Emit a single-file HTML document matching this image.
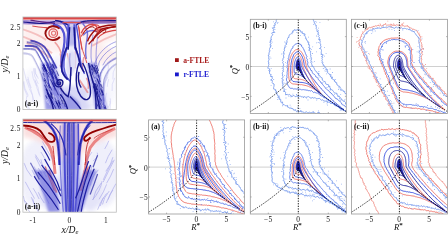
<!DOCTYPE html>
<html><head><meta charset="utf-8"><style>
html,body{margin:0;padding:0;background:#fff;}
svg{display:block;}
text{font-family:"Liberation Serif","DejaVu Serif",serif;fill:#111;}
.tk{font-size:7.4px;letter-spacing:0.5px;}
.ax{font-size:8.6px;font-style:italic;}
.ax2{font-size:9.6px;font-style:italic;}
.pl{font-size:7.6px;font-weight:bold;}
.pl2{font-size:7.6px;font-weight:bold;}
.lg{font-size:7.6px;font-weight:bold;}
</style></head><body>
<svg width="448" height="252" viewBox="0 0 448 252">
<defs><filter id="bl05" x="-10%" y="-10%" width="120%" height="120%"><feGaussianBlur stdDeviation="0.5"/></filter>
<filter id="bl1" x="-10%" y="-10%" width="120%" height="120%"><feGaussianBlur stdDeviation="1"/></filter>
<filter id="bl2" x="-20%" y="-20%" width="140%" height="140%"><feGaussianBlur stdDeviation="2"/></filter>
<filter id="bl3" x="-20%" y="-20%" width="140%" height="140%"><feGaussianBlur stdDeviation="3"/></filter>
<filter id="bl6" x="-30%" y="-30%" width="160%" height="160%"><feGaussianBlur stdDeviation="6"/></filter>
<clipPath id="cf1"><rect x="22.9" y="17" width="93.4" height="92.6"/></clipPath>
<clipPath id="cf2"><rect x="22.9" y="119.1" width="93.4" height="93.1"/></clipPath><clipPath id="clip_a"><rect x="148.6" y="119.9" width="96.0" height="94.1"/></clipPath><clipPath id="clip_bi"><rect x="250.3" y="19.3" width="96.0" height="94.1"/></clipPath><clipPath id="clip_ci"><rect x="351.4" y="19.3" width="96.0" height="94.1"/></clipPath><clipPath id="clip_bii"><rect x="250.3" y="119.9" width="96.0" height="94.1"/></clipPath><clipPath id="clip_cii"><rect x="351.4" y="119.9" width="96.0" height="94.1"/></clipPath></defs>
<rect x="22.9" y="17" width="93.4" height="92.6" fill="#fff"/>
<g clip-path="url(#cf1)"><g transform="translate(23,16) scale(0.373)">
<g filter="url(#bl6)" opacity="0.55">
 <ellipse cx="28" cy="190" rx="30" ry="50" fill="#f0f0fb"/>
 <ellipse cx="230" cy="175" rx="25" ry="60" fill="#f2f2fc"/>
 <path d="M0,12 L252,12 L252,60 C220,70 195,85 175,105 L150,100 C135,60 115,55 100,100 C70,95 40,85 0,80Z" fill="#fbe2e2"/>
 <ellipse cx="205" cy="105" rx="45" ry="25" fill="#f8e0e0"/>
 <ellipse cx="135" cy="222" rx="70" ry="36" fill="#b8b8ee"/>
 <ellipse cx="130" cy="60" rx="14" ry="45" fill="#dcdcf6"/>
 <ellipse cx="92" cy="150" rx="22" ry="45" fill="#eaeafa"/>
 <ellipse cx="170" cy="150" rx="22" ry="45" fill="#eaeafa"/>
 <ellipse cx="200" cy="220" rx="30" ry="30" fill="#e0e0f8"/>
</g>
<g filter="url(#bl2)" opacity="0.75">
 <path d="M0,10 C60,14 120,12 252,11 L252,20 C150,22 60,24 0,22Z" fill="#8c6cc8"/>
</g>
<path d="M122,25 L139,25 L140,80 L120,80Z" fill="#8a8ae0" filter="url(#bl3)" opacity="0.5"/>
<g filter="url(#bl2)" stroke="#ee9a9a" fill="none" stroke-width="5" opacity="0.55">
 <path d="M0,36 C25,44 45,52 62,64"/>
 <path d="M0,55 C30,66 55,80 78,100"/>
 <path d="M10,72 C35,84 55,96 72,112"/>
 <path d="M252,48 C225,58 205,68 185,80"/>
 <path d="M151,171 C160,185 168,195 174,206" stroke="#e46060" stroke-width="5"/>
 <path d="M170,166 C175,175 176,185 175,195" stroke="#e46060" stroke-width="4"/>
 <path d="M98,180 C100,190 102,195 104,200" stroke="#e46060" stroke-width="3"/>
 <path d="M163,110 C160,125 158,135 160,148" stroke="#e46060" stroke-width="4"/>
 <path d="M100,100 C102,112 104,122 100,135" stroke="#e46060" stroke-width="4"/>
 <path d="M85,70 C95,80 100,90 102,100" stroke="#e46060" stroke-width="4"/>
 <path d="M118,100 C122,115 126,130 128,148" stroke="#e46060" stroke-width="4"/>
 <path d="M140,95 C141,110 142,125 140,140" stroke="#e87070" stroke-width="3"/>
</g>
<path d="M17,195q12,17 10,34M10,215q-5,20 12,40M24,148q1,20 12,40M2,174q0,20 12,39M1,177q0,20 12,40M33,173q3,21 13,43M28,140q0,21 13,42M9,229q4,25 15,50M13,163q3,15 9,30M1,140q5,27 16,54M31,140q-2,11 7,23M31,170q12,21 13,42M12,169q10,28 17,57M33,140q-2,14 8,28" stroke="#6a6ade" stroke-width="1.6" opacity="0.28" fill="none" filter="url(#bl1)"/><path d="M209,223q-7,17 -7,35M205,127q1,14 -6,29M233,228q5,28 -11,56M234,221q4,12 -5,24M224,206q-3,16 -7,33M229,131q3,25 -10,50M228,163q-19,29 -12,58M246,166q-10,17 -7,35M208,151q-5,15 -6,29M230,169q-4,11 -4,21M248,135q-9,17 -7,35M210,165q-6,26 -10,52M208,222q-4,24 -9,47M228,147q-8,28 -11,56" stroke="#6a6ade" stroke-width="1.6" opacity="0.28" fill="none" filter="url(#bl1)"/>
<g stroke="#5858d6" fill="none" stroke-width="2" filter="url(#bl1)" opacity="0.7">
 <path d="M252,68 C230,75 212,90 200,110 C192,125 188,140 186,160"/>
 <path d="M252,80 C232,88 216,102 206,120 C199,135 196,150 195,170"/>
 <path d="M252,95 C236,102 222,115 214,132"/>
</g>
<!-- stem + legs broad -->
<g filter="url(#bl2)" stroke="#4646d2" fill="none" opacity="0.9">
 <path d="M122,22 C121,45 120,65 118,85 C112,100 106,118 104,137" stroke-width="6"/>
 <path d="M138,22 C139,45 139,65 140,85 C146,100 151,118 154,134" stroke-width="6"/>
 <path d="M80,24 C96,24 106,32 110,47 C113,62 111,80 106,100 C102,115 102,130 106,150 C110,160 115,166 120,170" stroke-width="6"/>
 <path d="M100,14 C112,20 118,28 120,45 C121,70 114,95 110,120 C108,140 112,160 126,175" stroke-width="4"/>
 <path d="M143,24 C148,50 152,80 153,110 C154,130 160,145 165,155" stroke-width="4"/>
 <path d="M160,20 C170,30 175,45 172,60 C168,80 165,95 170,115" stroke-width="4" opacity="0.8"/>
 <path d="M161,52 C170,40 185,36 196,42" stroke-width="4" opacity="0.8"/>
 <path d="M188,50 C182,80 180,100 184,125" stroke-width="3" opacity="0.5"/>
 <path d="M200,55 C196,85 194,105 197,130" stroke-width="3" opacity="0.5"/>
</g>
<!-- dense masses -->
<g filter="url(#bl3)" fill="#5a5ad6" opacity="0.6">
 <path d="M48,126 L84,126 C95,170 110,210 120,252 L60,252 C58,215 52,170 48,126Z"/>
 <path d="M172,126 L196,126 C205,170 215,210 228,252 L194,252 C190,210 180,170 172,126Z"/>
 <path d="M112,205 C125,210 140,220 150,232 L155,252 L118,252Z" opacity="0.8"/>
</g>
<g filter="url(#bl05)"><path d="M69.9,142.2l7.4,16.4M55.5,129.6l9.4,21.0M55.5,134.9l9.6,21.3M75.1,204.4l6.8,15.2M71.3,209.5l4.5,9.9M93.9,225.3l6.8,15.2M88.3,228.9l9.8,21.7M73.8,151.8l6.6,14.8M79.0,170.5l5.1,11.3M104.4,227.1l4.4,9.8M67.9,184.9l4.1,9.2M83.8,238.9l4.5,10.1M68.0,210.8l9.3,20.6M53.9,153.4l4.9,10.8M73.7,169.6l9.3,20.7M75.1,213.9l3.7,8.2M89.3,146.1l6.5,14.4M61.0,213.1l3.8,8.5M91.1,232.6l5.5,12.3M57.5,166.0l4.7,10.4M79.3,129.1l6.5,14.5M78.7,142.0l4.8,10.7M71.9,133.8l9.2,20.5M78.2,129.4l4.8,10.7M51.8,137.7l5.4,12.1M83.4,217.6l9.0,19.9M64.8,153.4l5.2,11.6M114.0,249.3l5.7,12.8M68.9,180.9l8.3,18.5M52.8,131.0l6.1,13.7M86.2,156.9l8.3,18.4M87.0,194.8l8.0,17.7M106.8,224.4l4.5,10.1M64.4,204.9l6.4,14.2M105.3,225.1l8.4,18.6M62.9,130.5l4.6,10.3M70.0,251.8l5.1,11.4M56.8,171.0l9.1,20.2M65.3,206.2l6.7,15.0M72.8,135.9l5.1,11.2M54.5,130.9l7.1,15.8M73.2,206.3l7.7,17.0M59.7,170.4l5.6,12.4M93.7,175.8l4.3,9.6M71.2,136.9l9.7,21.5M98.7,240.3l4.0,8.9M95.0,227.6l4.5,10.0M57.8,184.6l8.7,19.2M98.7,216.5l8.4,18.6M84.7,159.7l5.2,11.5M66.1,143.4l6.7,15.0M77.8,162.0l7.4,16.4M77.3,156.2l5.9,13.0M73.4,218.6l8.6,19.2M78.8,178.3l7.8,17.4M67.9,191.3l9.8,21.7M62.9,138.1l7.1,15.7M55.7,129.6l8.6,19.2M92.0,224.8l9.3,20.6M74.2,221.2l7.7,17.0" stroke="#12128a" stroke-width="2.2" opacity="0.85" fill="none"/><path d="M200.0,168.9l4.7,13.4M197.7,145.3l6.2,17.7M206.0,219.8l6.6,19.0M198.3,182.4l3.1,8.9M207.8,195.9l6.3,17.9M205.8,227.2l7.1,20.3M196.4,139.6l4.6,13.2M190.1,137.5l5.0,14.4M205.1,180.0l3.5,9.9M198.7,203.7l5.4,15.4M188.5,188.9l5.3,15.2M197.9,234.6l2.9,8.2M185.9,134.5l7.6,21.6M197.1,131.6l5.4,15.5M186.3,141.1l3.8,10.9M204.7,216.0l4.2,12.0M200.5,158.2l6.6,18.7M193.9,181.0l6.4,18.3M197.7,248.3l3.6,10.2M194.6,171.7l3.1,9.0M180.1,132.7l4.7,13.4M207.3,219.1l2.9,8.4M185.1,131.7l7.1,20.2M204.8,241.3l7.1,20.4M206.4,243.1l6.5,18.4M185.9,172.0l5.6,16.1M191.0,136.9l6.8,19.3M207.3,241.3l3.4,9.6M219.3,239.7l7.5,21.5M205.1,200.8l4.6,13.2M184.9,149.1l6.3,18.1M198.2,166.9l5.3,15.0M208.6,182.6l3.6,10.3M188.9,187.4l7.4,21.1M193.4,187.6l3.6,10.4M197.7,200.9l3.4,9.8M183.4,130.1l5.7,16.2M209.0,191.4l7.3,20.8M218.2,244.0l5.1,14.7M195.9,192.0l4.8,13.6M192.8,131.2l4.0,11.4M185.0,129.7l6.3,18.0M192.9,180.9l6.0,17.2M177.8,146.5l5.7,16.3M208.4,192.8l4.8,13.8" stroke="#12128a" stroke-width="2.2" opacity="0.85" fill="none"/><path d="M62.3,225.1l3.8,8.4M68.9,201.4l4.0,8.9M65.8,142.1l5.7,12.7M96.4,197.0l5.9,13.1M73.9,149.2l3.6,8.0M68.8,174.5l6.0,13.4M69.9,132.4l7.5,16.7M105.5,220.4l5.8,13.0M79.5,208.7l5.0,11.0M99.6,238.1l9.5,21.2M106.0,229.5l4.4,9.8M58.2,128.0l6.2,13.8M80.0,212.6l6.8,15.2M64.4,221.9l7.9,17.5M60.3,132.1l8.2,18.1M78.4,212.1l5.5,12.1M75.2,230.3l3.8,8.4M55.7,157.2l8.7,19.3M85.3,141.4l4.9,11.0M77.2,164.6l5.5,12.3M60.5,173.8l6.1,13.4M59.1,129.2l9.3,20.7M65.2,161.4l7.9,17.5M77.2,237.2l6.0,13.3M96.8,216.0l7.5,16.6M60.3,148.6l8.4,18.6M101.3,215.1l8.5,18.9M62.3,179.1l9.2,20.5M86.5,213.6l7.9,17.5M69.8,174.5l7.2,16.1" stroke="#eeeefc" stroke-width="1.4" opacity="0.8" fill="none"/><path d="M202.5,186.8l7.4,21.1M204.0,232.8l4.6,13.2M206.2,242.8l6.7,19.2M186.4,137.7l5.3,15.2M216.0,227.9l3.5,10.1M204.3,203.8l3.5,10.1M208.1,231.0l7.5,21.5M190.4,149.5l4.4,12.5M204.4,207.0l5.3,15.2M193.5,166.9l4.6,13.2M207.1,238.2l5.1,14.7M186.3,158.6l7.5,21.4M201.5,165.6l5.7,16.3M201.1,249.5l7.4,21.2M206.9,223.3l6.3,17.9M202.5,217.0l5.9,16.9M180.5,154.8l6.1,17.5M207.0,185.8l4.1,11.7M219.2,229.1l7.2,20.6M200.6,247.5l3.6,10.3M187.9,154.8l3.4,9.6M178.7,145.0l7.4,21.1" stroke="#eeeefc" stroke-width="1.4" opacity="0.8" fill="none"/></g>
<path d="M125,95 C115,115 112,140 120,165 C130,160 150,140 148,110 C145,100 135,92 125,95Z" fill="#d8d8f6" filter="url(#bl3)" opacity="0.8"/>
<path d="M126,100 C124,120 126,140 130,160" stroke="#5050d0" stroke-width="2" fill="none" filter="url(#bl1)" opacity="0.7"/>
<!-- lower-left parallel arcs -->
<g stroke="#3030c0" fill="none" stroke-width="5" filter="url(#bl2)" opacity="0.6">
 <path d="M5,80 C20,80 30,80 37,83 C45,90 55,110 65,127 C70,140 75,151 80,169"/>
 <path d="M20,66 C35,68 48,74 58,83 C63,90 70,102 78,117 C82,124 85,131 90,140"/>
</g>
<g stroke="#1e1ea8" fill="none" stroke-width="2.6" filter="url(#bl05)">
 <path d="M5,80 C20,80 30,80 37,83 C45,90 55,110 65,127 C70,140 75,151 80,169 C82,180 84,190 86,200"/>
 <path d="M10,70 C25,72 38,76 47.6,83 C55,92 62,105 71,124 C75,133 80,144 86,158 C90,170 93,180 96,190"/>
 <path d="M20,66 C35,68 48,74 58,83 C63,90 70,102 78,117 C82,124 85,131 90,140"/>
 <path d="M0,88 C15,88 25,88 32,90 C38,98 44,110 56,134 C60,145 63,155 65,161 C67,170 68,180 70,190"/>
 <path d="M0,100 C10,100 18,102 24,106 C30,115 36,128 44,145 C48,155 52,165 55,175" opacity="0.5"/>
 <path d="M252,112 C232,120 215,135 208,155 C203,175 204,205 208,252" stroke="#2a2ab8"/>
 <path d="M252,128 C236,135 224,150 218,170 C214,190 215,220 218,252" opacity="0.6"/>
</g>
<!-- navy detail -->
<g stroke="#16168c" fill="none" stroke-width="3.8" filter="url(#bl05)">
 <path d="M96,179 m-11,0 a11,11 0 1,0 22,0 a8,8 0 1,0 -16,0 a5,5 0 1,0 10,0 a2.5,2.5 0 1,0 -5,0"/>
 <path d="M100,192 C106,203 114,212 121,216 C124,205 126,195 126.5,182 C127,165 128,150 129,137"/>
 <path d="M150,126 C143,145 141,165 144,188 C148,210 160,226 172,224 C182,221 182,200 178,180 C174,160 168,140 160,126"/>
 <path d="M150,150 C147,165 148,180 156,192"/>
 <path d="M176,126 C178,140 181,156 186,172 C192,190 198,210 202,230 L206,252"/>
 <path d="M126,216 C138,228 150,240 156,252"/>
 <path d="M100,210 C110,222 116,235 120,252"/>
 <path d="M62,195 C70,212 78,232 82,252"/>
 <path d="M190,180 C195,205 196,228 196,252"/>
 <path d="M118,83 C110,100 104,118 103,137 C103,150 108,160 120,170"/>
 <path d="M140,83 C146,100 152,118 154,134 C158,142 162,148 164,151"/>
 <path d="M125,30 C124,50 123,70 121,90"/>
 <path d="M137,30 C138,50 139,70 141,90"/>
 <path d="M0,16 C14,17 27,19 44,20 C61,20 75,17 86,15" stroke-width="3"/>
 <path d="M20,11 C34,13 48,16 68,18 L86,20" stroke="#5a2080" stroke-width="3"/>
 <path d="M86,12 C100,13 112,18 120,24"/>
 <path d="M143,24 C150,18 158,14 172,13 C190,10 210,11 252,12" stroke-width="3"/>
 <path d="M160,17 C190,15 220,16 252,16" stroke="#5a2080" stroke-width="2"/>
</g>
<!-- reds -->
<g filter="url(#bl1)" fill="none">
 <rect x="0" y="2" width="252" height="7.5" fill="#dc4a4a" stroke="none"/>
 <path d="M105,18 C120,17 140,17 155,18" stroke="#dd5555" stroke-width="3"/>
 <path d="M25,27 C45,30 55,32 65,31" stroke="#d85050" stroke-width="3"/>
 <path d="M98,34 C93,29 86,27 78,27.5 C67,29 60,38 60,47 C61,57 69,64 80,64.5 C89,64.5 95,61 99,56" stroke="#960808" stroke-width="5"/>
 <circle cx="81" cy="46" r="11.5" stroke="#de5a5a" stroke-width="3.5"/>
 <circle cx="82" cy="46" r="5.5" stroke="#e47878" stroke-width="3"/>
 <path d="M156,55 C162,42 171,30 191,24 C200,22 206,26 208.5,40" stroke="#dd4848" stroke-width="3"/>
 <path d="M173,68 C176,55 183,47.6 196.8,34 C205,29 213.8,27.2 230,25 L252,23.8" stroke="#a01010" stroke-width="4"/>
 <path d="M186.6,68 C190,58 196.8,47.6 210.4,35.7 C218,32 227.4,30.6 252,29" stroke="#a81414" stroke-width="4"/>
 <path d="M200,60 C208,48 220,42 252,38" stroke="#d84444" stroke-width="3"/>
 <path d="M200,42 C206,34 214,32 220,36 C224,40 220,46 214,45" stroke="#a01010" stroke-width="2.5"/>
 <path d="M150,30 C152,50 154,70 158,90" stroke="#d04040" stroke-width="2.5"/>
 <path d="M156,46 C161,32 174,22 186,22 C196,23 201,31 202,44" stroke="#d84848" stroke-width="4"/>
 <path d="M162,48 C166,37 176,29 186,29 C193,30 196,36 197,44" stroke="#a01414" stroke-width="2.5"/>
 <path d="M176,76 C185,65 195,52 212,40 C222,34 232,30 252,27" stroke="#a01010" stroke-width="3.5"/>
 <path d="M148.5,25 C151,45 153.5,65 158,85 C160,95 163.5,100 171,126" stroke="#d84444" stroke-width="2.5"/>
</g>
</g>
</g>
<rect x="22.9" y="17" width="93.4" height="92.6" fill="none" stroke="#bbb" stroke-width="0.8"/>
<text x="20.90" y="29.75" class="tk" text-anchor="end">2.5</text>
<text x="20.90" y="46.20" class="tk" text-anchor="end">2</text>
<text x="20.90" y="79.10" class="tk" text-anchor="end">1</text>
<text x="20.90" y="112.00" class="tk" text-anchor="end">0</text>
<text x="24.70" y="106.10" class="pl2">(a-i)</text>
<rect x="22.9" y="119.1" width="93.4" height="93.1" fill="#fff"/>
<g clip-path="url(#cf2)"><g transform="translate(23,118) scale(0.373)">
<g filter="url(#bl6)" opacity="0.6">
 <ellipse cx="35" cy="150" rx="45" ry="90" fill="#e6e6f8"/>
 <ellipse cx="215" cy="150" rx="45" ry="90" fill="#e4e4f8"/>
 <ellipse cx="128" cy="140" rx="30" ry="120" fill="#c0c0f0"/>
 <path d="M0,10 L252,10 L252,50 C200,60 170,80 150,110 L100,110 C80,80 50,60 0,50Z" fill="#f6caca"/>
 <ellipse cx="75" cy="200" rx="30" ry="50" fill="#cfcff4"/>
 <ellipse cx="180" cy="200" rx="30" ry="50" fill="#d2d2f4"/>
</g>
<g filter="url(#bl2)" fill="none" stroke="#e87474" stroke-width="8" opacity="0.85">
 <path d="M5,25 C30,35 55,50 70,75 C80,95 84,120 86,150"/>
 <path d="M247,28 C220,40 195,55 180,80 C172,100 168,125 166,150"/>
 <path d="M70,140 C75,160 82,180 90,200" stroke-width="5"/>
 <path d="M60,130 C66,150 74,170 84,195" stroke-width="3" stroke="#e05858"/>
 <path d="M175,130 C170,150 164,170 156,195" stroke-width="3" stroke="#e05858"/>
 <path d="M165,140 C160,160 156,180 152,195" stroke-width="5"/>
</g>
<path d="M48,189q14,20 22,41M3,121q5,18 20,36M3,220q5,23 25,46M26,216q5,28 31,56M24,139q10,24 26,47M33,103q12,28 30,55M41,199q6,15 16,29M52,63q13,24 27,48M30,130q5,14 15,28M48,111q0,13 14,26M27,188q10,15 16,29M48,141q-1,20 22,40M1,209q-1,12 13,23M22,212q5,18 20,36M33,98q18,25 27,50M41,134q8,14 16,29M6,171q12,23 25,45M48,91q11,18 20,36" stroke="#5a5ad8" stroke-width="1.8" opacity="0.45" fill="none" filter="url(#bl1)"/><path d="M210,174q-19,22 -22,45M249,176q-15,26 -26,52M231,196q-15,18 -18,36M216,213q-10,16 -16,33M185,127q-3,23 -23,45M245,112q-16,30 -30,60M239,85q-12,18 -18,36M241,193q-9,13 -13,26M202,139q-20,21 -21,42M241,105q-4,19 -19,38M185,91q-14,17 -17,34M243,137q-7,19 -19,38M241,114q-15,26 -26,52M224,178q-7,20 -20,40M230,61q-4,11 -11,22M199,93q5,11 -11,22M224,202q-14,17 -17,34M212,169q-4,26 -26,51" stroke="#5a5ad8" stroke-width="1.8" opacity="0.45" fill="none" filter="url(#bl1)"/>
<path d="M104,14 L150,14 L152,252 L104,252Z" fill="#7070dc" opacity="0.45" filter="url(#bl3)"/>
<!-- stem -->
<g filter="url(#bl2)" fill="none" stroke="#4040d0" opacity="0.9">
 <path d="M112,12 C110,80 112,160 116,252" stroke-width="5"/>
 <path d="M124,12 L126,252" stroke-width="6"/>
 <path d="M136,12 C137,80 136,160 134,252" stroke-width="5"/>
 <path d="M148,15 C150,80 148,160 140,252" stroke-width="4"/>
 <path d="M100,20 C96,80 100,160 108,252" stroke-width="3" opacity="0.7"/>
 <path d="M56,6 C75,20 88,40 92,60 C96,80 97,100 98,126" stroke-width="7"/>
 <path d="M75,15 C100,35 110,60 115,100" stroke-width="3"/>
 <path d="M186,6 C172,18 160,40 154,70 C151,90 150,110 149,126" stroke-width="7"/>
</g>
<!-- converging bundles -->
<g filter="url(#bl3)" fill="#5a5ad6" opacity="0.6">
 <path d="M30,140 L75,140 C85,175 95,215 100,252 L68,252 C58,215 45,175 30,140Z"/>
 <path d="M165,140 L198,140 C185,175 168,215 158,252 L134,252 C142,215 152,175 165,140Z"/>
</g>
<g filter="url(#bl05)" fill="none" stroke="#1c1ca0" stroke-width="3.2">
 <path d="M30,156 C38,170 50,186 62,200 C72,212 85,230 95,246"/>
 <path d="M40,145 C50,158 62,170 72,185 C82,200 92,215 100,230"/>
 <path d="M50,126 C58,138 70,150 80,165 C88,180 95,195 102,210"/>
 <path d="M58,110 C66,125 74,138 82,152 C90,165 96,180 100,195"/>
 <path d="M50,75 C58,88 66,100 72,114"/>
 <path d="M20,120 C28,135 36,150 44,165" opacity="0.6"/>
 <path d="M181,126 C176,140 171,156 166,172 C161,191 155,210 146,252"/>
 <path d="M191,136 C185,150 178,165 172,185 C166,205 160,225 156,252"/>
 <path d="M176,116 C170,130 166,145 161,160 C156,175 150,195 141,215"/>
 <path d="M200,150 C195,165 188,185 180,205" opacity="0.7"/>
 <path d="M200,100 C196,110 192,120 188,132" opacity="0.7"/>
 <path d="M120,14 C118,80 119,160 121,252" stroke="#1a1a96" stroke-width="2"/>
 <path d="M131,14 C132,80 131,160 129,252" stroke="#1a1a96" stroke-width="2"/>
 <path d="M56,6 C75,20 88,40 92,60 C96,80 97,100 98,126" stroke-width="2.5"/>
 <path d="M75,15 C100,35 110,60 115,100" stroke-width="2"/>
 <path d="M186,6 C172,18 160,40 154,70 C151,90 150,110 149,126" stroke-width="2.5"/>
 <path d="M180,20 C158,40 150,70 146,100" stroke-width="2"/>
</g>
<g filter="url(#bl05)" fill="none">
 <rect x="0" y="3" width="252" height="6" fill="#d84848" stroke="none" filter="url(#bl1)"/>
 <path d="M0,12 C60,13 190,13 252,12" stroke="#20209a" stroke-width="2.5"/>
 <path d="M0,20 C20,21 36,25 46,34 C53,42 58,54 66,61 C74,66 84,65 85,58 C85,50 78,43 68,40" stroke="#920606" stroke-width="5"/>
 <path d="M252,17 C236,21 215,28 197,34 C185,38 172,44 165,52 C162,57 165,62 170,61 C175,59 178,56 181,52" stroke="#920606" stroke-width="5"/>
 <path d="M10,28 C30,30 45,40 55,55" stroke="#d04040" stroke-width="2.5"/>
 <path d="M240,30 C220,38 200,45 190,55" stroke="#d04040" stroke-width="2.5"/>
 <path d="M176,60 C170,75 168,90 168,110 C168,120 166,126 166,126" stroke="#c02828" stroke-width="2.5"/>
 <path d="M80,75 C82,90 84,105 85,126" stroke="#c83030" stroke-width="2.5"/>
</g>
</g>
</g>
<rect x="22.9" y="119.1" width="93.4" height="93.1" fill="none" stroke="#bbb" stroke-width="0.8"/>
<text x="20.90" y="131.35" class="tk" text-anchor="end">2.5</text>
<text x="20.90" y="148.00" class="tk" text-anchor="end">2</text>
<text x="20.90" y="181.30" class="tk" text-anchor="end">1</text>
<text x="20.90" y="214.60" class="tk" text-anchor="end">0</text>
<text x="24.70" y="208.70" class="pl2">(a-ii)</text>
<text transform="translate(7.8,64) rotate(-90)" class="ax2" text-anchor="middle">y/D<tspan font-size="6.6" dy="1">e</tspan></text>
<text transform="translate(7.8,155.5) rotate(-90)" class="ax2" text-anchor="middle">y/D<tspan font-size="6.6" dy="1">e</tspan></text>
<text x="33.20" y="223.1" class="tk" text-anchor="middle">-1</text>
<text x="69.60" y="223.1" class="tk" text-anchor="middle">0</text>
<text x="106.00" y="223.1" class="tk" text-anchor="middle">1</text>
<text x="70" y="233.2" class="ax2" text-anchor="middle">x/D<tspan font-size="6.6" dy="1">e</tspan></text>
<line x1="148.60" y1="167.10" x2="244.60" y2="167.10" stroke="#b0b0b0" stroke-width="0.6"/>
<g clip-path="url(#clip_a)"><path d="M164.0 122.5L161.8 121.4L163.4 120.7L163.0 119.7L163.2 118.8L163.5 118.0L162.7 116.9L163.8 116.2L163.7 115.2L165.9 114.9L164.6 113.6L164.6 112.7L164.9 111.8L165.0 110.9L165.1 110.0L165.7 109.2L166.5 108.6L166.5 107.6L167.4 107.0L167.3 106.0L167.8 105.2L168.9 104.8L168.9 103.8L169.0 102.8L169.6 102.1L170.4 101.6L171.5 101.3L171.2 99.9L171.8 99.2L172.9 99.0L172.8 97.7L173.7 97.2L174.7 97.1L175.3 96.4L175.8 95.6L176.7 95.3L176.5 93.3L178.3 94.5L178.5 93.1L179.2 92.4L180.4 92.8L181.3 92.7L181.9 91.8L182.7 91.2L183.7 91.4L184.6 91.1L185.6 91.6L186.4 91.0L187.2 90.6L188.2 90.9L189.0 90.1L189.8 89.6L190.8 90.3L191.7 90.3L192.6 89.8L193.5 89.5L194.4 90.1L195.4 88.7L196.1 90.4L197.0 90.4L198.1 89.4L198.9 90.4L199.8 90.1L200.5 91.1L201.8 90.0L202.5 90.8L203.1 91.8L203.9 92.3L205.3 91.1L205.8 92.3L206.5 93.0L207.5 93.0L207.7 94.4L209.2 93.7L209.5 94.9L210.7 94.8L210.6 96.3L211.8 96.4L212.6 96.8L213.7 97.0L213.1 98.8L214.1 99.1L214.7 99.8L215.1 100.6L215.9 101.1L216.9 101.5L217.4 102.2L217.9 103.0L217.5 104.3L219.2 104.4L219.2 105.4L219.5 106.3L219.6 107.2L219.9 108.1L221.0 108.6L221.6 109.3L221.1 110.5L220.8 111.5L221.3 112.3L221.8 113.1L222.3 113.9L222.2 114.8L222.7 115.7L222.4 116.6L223.3 117.4L223.0 118.4L223.3 119.2L223.1 120.2L223.3 121.0L222.3 122.0L222.9 122.9L223.0 123.8L224.8 124.5L224.1 125.5L224.3 126.4L223.8 127.3L225.2 128.1L223.6 129.1L223.7 130.0L225.0 130.8L224.9 131.8L224.8 132.7L224.5 133.6L224.3 134.5L223.6 135.5L224.8 136.3L224.4 137.2L224.7 138.1L224.0 139.0L224.5 139.9L224.3 140.8L225.6 141.6L225.2 142.6L225.5 143.5L224.4 144.4L224.9 145.3L225.5 146.2L225.6 147.1L225.2 148.0L225.8 148.9L226.0 149.7L225.3 150.7L224.4 151.6L225.8 152.5L226.0 153.4L226.4 154.2L226.5 155.1L225.7 156.1L225.5 157.0L226.0 157.9L225.9 158.8L226.2 159.7L226.3 160.6L227.2 161.3L226.9 162.3L226.8 163.2L227.5 164.0L227.6 164.9L228.0 165.7L228.1 166.6L227.8 167.6L228.7 168.3L228.9 169.1L228.9 170.2L229.3 171.0L229.2 172.0L231.3 172.0L230.4 173.4L231.5 173.9L231.6 174.8L231.8 175.8L232.1 176.7L232.7 177.4L233.5 177.9L233.4 179.1L234.7 179.3L235.1 180.1L235.2 181.1L236.3 181.5L235.7 183.0L236.6 183.4L236.7 184.5L238.1 184.6L238.7 185.3L239.0 186.2L239.3 187.1L240.3 187.4L240.5 188.5L241.1 189.1L241.0 190.3L242.4 190.4L242.3 191.6L243.5 191.8L244.1 192.5L244.6 193.3L245.3 193.9L245.3 195.0L245.5 196.0L246.3 196.4L246.7 197.3L246.8 198.3L247.9 198.6L248.5 199.3L249.2 199.9L250.3 200.2L249.9 201.7L251.5 201.6L251.1 203.0L251.9 203.5L252.0 204.6L253.0 204.9L253.9 205.4L254.0 206.5L254.9 206.9L255.4 207.7L255.8 208.5L256.5 209.1L257.1 209.8L257.9 210.2L258.3 211.1L259.6 211.2L259.4 212.5L260.4 212.8L260.1 214.3L260.7 215.0L262.5 214.6L262.3 216.0L263.0 216.5L264.0 216.9L264.0 218.1L265.0 218.4L266.1 218.6L266.2 219.7L266.8 220.4L267.4 221.1L268.5 221.3L268.5 222.6L269.1 223.2L270.4 223.2L270.9 223.9L271.4 224.8L272.2 225.2L272.1 226.6L273.3 226.6L274.4 226.8L275.0 227.4L275.4 228.3L275.2 229.8L276.7 229.6L276.6 230.2L275.8 229.8L274.9 229.8L274.5 228.3L273.1 229.2L272.6 228.3L271.7 228.1L271.0 227.5L269.8 227.9L269.6 226.2L268.4 226.7L267.6 226.2L266.6 226.3L265.8 225.8L265.2 224.9L264.5 224.3L263.6 224.0L262.9 223.5L262.0 223.3L261.0 223.3L260.3 222.6L259.4 222.4L258.5 222.3L257.8 221.6L257.1 221.0L256.0 221.2L255.1 221.1L254.4 220.3L253.8 219.4L252.6 220.1L251.7 219.7L250.9 219.5L250.3 218.5L248.9 219.7L248.4 218.3L247.7 217.7L246.5 218.3L246.0 216.9L245.0 217.1L244.0 217.4L243.2 216.8L242.1 217.3L241.4 216.6L240.9 215.2L239.6 216.3L239.1 214.7L238.0 215.4L237.3 214.6L236.3 214.9L235.1 215.7L234.5 214.7L233.7 214.1L232.7 214.6L231.8 214.5L231.1 213.4L230.1 213.7L229.1 214.0L228.3 213.4L227.6 212.4L226.6 212.9L225.8 212.0L225.0 211.6L224.0 212.2L223.0 212.6L222.1 212.5L221.3 211.7L220.5 211.1L219.5 211.3L218.7 211.0L217.7 211.4L216.9 210.9L215.9 211.2L215.0 211.0L214.1 211.4L213.2 211.4L212.3 210.8L211.4 211.0L210.5 210.8L209.7 209.9L208.8 210.3L208.0 208.7L207.0 209.6L206.1 210.3L205.2 209.6L204.3 209.7L203.4 210.2L202.5 209.2L201.6 210.1L200.6 211.2L199.8 209.2L198.9 209.8L198.1 208.7L197.1 209.6L196.1 209.8L195.4 208.3L194.4 209.5L193.5 208.8L192.7 208.1L191.7 208.6L190.8 208.6L190.0 208.4L189.1 207.9L188.1 208.6L187.3 207.8L186.4 207.6L185.7 206.6L184.6 207.8L183.6 207.9L183.0 206.8L182.0 207.0L181.3 206.2L180.6 205.8L180.1 204.9L178.9 205.0L178.5 204.1L176.9 204.3L177.0 203.0L177.5 201.5L176.1 201.4L175.6 200.6L175.0 199.8L175.4 198.7L174.9 197.9L173.9 197.3L174.5 196.2L174.1 195.4L174.1 194.4L173.1 193.7L174.1 192.6L173.3 191.9L172.9 191.0L172.5 190.2L172.5 189.3L172.9 188.3L172.3 187.5L172.8 186.5L172.5 185.6L172.8 184.7L172.4 183.8L171.9 183.0L170.9 182.2L171.8 181.2L172.0 180.2L171.6 179.4L171.7 178.5L171.0 177.6L171.0 176.7L170.6 175.9L171.6 174.8L170.9 174.0L170.5 173.2L169.9 172.3L170.4 171.3L171.1 170.3L170.5 169.5L169.8 168.7L170.7 167.7L170.6 166.8L170.2 165.9L170.0 165.0L170.0 164.1L169.6 163.3L169.5 162.4L168.6 161.6L169.6 160.5L168.8 159.7L169.5 158.7L167.4 158.2L168.5 157.0L168.5 156.1L167.7 155.4L167.9 154.4L167.8 153.5L167.6 152.6L166.9 151.9L166.9 150.9L167.3 149.9L167.2 149.0L166.5 148.3L166.3 147.4L166.2 146.5L166.4 145.5L165.2 144.8L164.9 144.0L165.4 143.0L164.6 142.2L164.7 141.3L164.9 140.3L164.9 139.4L163.9 138.7L164.7 137.6L163.2 137.0L164.2 135.9L163.0 135.1L163.0 134.2L163.8 133.2L163.2 132.4L162.9 131.5L163.0 130.6L163.3 129.6L163.0 128.8L163.0 127.9L163.5 126.9L162.5 126.1L162.7 125.2L162.7 124.3L163.5 123.4Z" fill="none" stroke="#84a4ee" stroke-width="1.0" stroke-linejoin="round"/><path d="M195.9 209.7h.8v.8h-.8zM244.1 189.2h.8v.8h-.8zM225.9 145.9h.8v.8h-.8zM229.2 160.0h.8v.8h-.8zM210.0 211.4h.8v.8h-.8zM163.2 122.8h.8v.8h-.8zM172.5 189.7h.8v.8h-.8zM233.9 172.7h.8v.8h-.8zM230.5 173.1h.8v.8h-.8zM165.9 135.5h.8v.8h-.8zM235.4 183.4h.8v.8h-.8zM226.2 128.0h.8v.8h-.8zM174.1 198.3h.8v.8h-.8zM192.7 211.2h.8v.8h-.8zM163.3 125.5h.8v.8h-.8zM165.4 140.5h.8v.8h-.8zM223.5 125.0h.8v.8h-.8zM172.8 187.4h.8v.8h-.8zM223.6 154.5h.8v.8h-.8zM235.7 176.9h.8v.8h-.8zM219.4 211.5h.8v.8h-.8zM176.8 196.0h.8v.8h-.8zM231.2 212.5h.8v.8h-.8zM227.8 143.6h.8v.8h-.8zM225.3 157.6h.8v.8h-.8zM205.0 208.6h.8v.8h-.8zM216.2 210.0h.8v.8h-.8zM227.3 175.8h.8v.8h-.8zM171.9 182.1h.8v.8h-.8zM169.4 148.2h.8v.8h-.8zM230.9 216.5h.8v.8h-.8zM168.6 147.9h.8v.8h-.8zM165.1 168.5h.8v.8h-.8zM172.8 173.2h.8v.8h-.8zM223.9 141.9h.8v.8h-.8zM229.5 213.8h.8v.8h-.8zM169.0 153.5h.8v.8h-.8zM171.3 165.7h.8v.8h-.8zM236.0 179.3h.8v.8h-.8zM165.8 131.6h.8v.8h-.8zM233.9 177.2h.8v.8h-.8zM243.4 193.2h.8v.8h-.8zM174.4 187.6h.8v.8h-.8zM196.7 207.2h.8v.8h-.8zM195.8 206.8h.8v.8h-.8zM227.8 152.1h.8v.8h-.8zM227.0 157.4h.8v.8h-.8zM225.7 142.3h.8v.8h-.8zM166.7 156.7h.8v.8h-.8zM172.4 184.4h.8v.8h-.8zM225.2 212.1h.8v.8h-.8zM222.4 128.7h.8v.8h-.8zM169.0 160.0h.8v.8h-.8zM179.9 208.3h.8v.8h-.8zM225.3 124.1h.8v.8h-.8zM223.2 142.1h.8v.8h-.8zM233.4 173.5h.8v.8h-.8zM176.2 197.4h.8v.8h-.8zM173.5 189.2h.8v.8h-.8zM174.9 178.1h.8v.8h-.8zM223.3 131.7h.8v.8h-.8zM163.9 135.6h.8v.8h-.8zM221.3 158.4h.8v.8h-.8zM226.4 212.7h.8v.8h-.8zM219.3 212.9h.8v.8h-.8zM227.1 211.0h.8v.8h-.8zM237.2 184.0h.8v.8h-.8zM224.4 214.0h.8v.8h-.8zM194.8 208.6h.8v.8h-.8zM175.6 185.0h.8v.8h-.8zM171.4 157.8h.8v.8h-.8zM170.6 166.5h.8v.8h-.8zM204.6 212.2h.8v.8h-.8zM225.5 142.6h.8v.8h-.8zM231.0 176.6h.8v.8h-.8zM235.6 182.6h.8v.8h-.8zM183.3 206.4h.8v.8h-.8zM222.3 129.0h.8v.8h-.8zM178.2 203.7h.8v.8h-.8zM231.7 170.1h.8v.8h-.8zM230.5 213.3h.8v.8h-.8zM171.1 177.6h.8v.8h-.8zM164.2 136.6h.8v.8h-.8zM162.2 138.3h.8v.8h-.8zM229.8 164.0h.8v.8h-.8z" fill="#84a4ee"/><path d="M171.2 135.9L171.4 135.1L171.4 134.2L171.7 133.3L171.7 132.4L172.0 131.5L172.4 130.7L172.4 129.8L172.8 128.9L172.8 128.0L173.0 127.1L173.5 126.3L173.8 125.5L173.9 124.6L174.3 123.8L174.5 122.9L175.0 122.1L175.6 121.4L175.9 120.5L176.3 119.7L176.7 118.9L177.4 118.3L177.9 117.6L178.4 116.8L179.0 116.1L179.4 115.3L180.3 114.9L180.8 114.1L181.5 113.5L182.2 113.0L182.7 112.2L183.6 111.9L184.4 111.4L185.2 111.0L186.0 110.7L186.8 110.2L187.5 109.6L188.5 109.5L189.4 109.4L190.2 109.2L191.1 108.9L192.0 108.8L192.9 109.0L193.8 109.1L194.7 109.1L195.6 109.1L196.4 109.7L197.5 109.4L198.2 110.0L198.9 110.6L199.9 110.7L200.6 111.2L201.5 111.5L202.1 112.3L203.0 112.5L203.6 113.2L204.2 113.8L205.0 114.3L205.5 115.2L206.3 115.6L206.8 116.4L207.3 117.1L207.9 117.8L208.3 118.6L208.7 119.4L209.3 120.1L209.8 120.9L210.2 121.7L210.6 122.5L210.8 123.4L211.3 124.2L211.5 125.0L211.9 125.9L212.3 126.7L212.4 127.6L212.8 128.4L213.0 129.3L213.0 130.2L213.5 131.0L213.6 131.9L213.9 132.8L213.9 133.7L214.2 134.6L214.1 135.5L214.2 136.4L214.2 137.3L214.1 138.2L214.4 139.1L214.4 140.0L214.5 140.9L214.6 141.8L214.7 142.7L214.9 143.6L214.7 144.5L214.5 145.4L214.7 146.3L214.8 147.2L214.6 148.1L214.8 149.0L214.9 149.9L215.0 150.8L215.0 151.7L214.9 152.6L214.7 153.5L214.9 154.4L215.1 155.3L215.0 156.2L215.0 157.1L215.2 158.0L215.0 158.9L215.0 159.8L215.0 160.7L215.0 161.6L215.4 162.4L215.6 163.3L215.5 164.3L215.7 165.1L216.3 165.9L216.4 166.8L216.8 167.6L217.1 168.5L217.5 169.3L218.0 170.1L218.3 170.9L218.8 171.7L219.2 172.4L219.9 173.1L220.5 173.8L220.7 174.7L221.3 175.4L221.6 176.2L222.1 177.0L222.7 177.7L223.3 178.4L223.8 179.2L224.2 180.0L224.9 180.6L225.3 181.4L225.8 182.1L226.4 182.8L226.8 183.6L227.6 184.2L228.0 185.0L228.7 185.6L229.2 186.3L229.8 187.0L230.2 187.8L230.9 188.4L231.4 189.2L232.0 189.8L232.4 190.7L232.9 191.5L233.6 192.0L234.0 192.8L234.7 193.5L235.1 194.3L235.9 194.8L236.6 195.4L236.9 196.3L237.7 196.9L238.3 197.5L238.9 198.2L239.6 198.8L240.0 199.6L240.7 200.2L241.1 201.1L241.7 201.7L242.5 202.1L243.1 202.8L243.7 203.6L244.4 204.1L244.8 204.9L245.4 205.6L246.1 206.2L246.7 206.9L247.3 207.6L247.8 208.3L248.4 209.0L249.2 209.5L249.8 210.2L250.5 210.7L251.1 211.4L251.8 211.9L252.3 212.7L253.2 213.2L253.8 213.8L254.4 214.5L255.0 215.1L255.8 215.6L256.4 216.3L257.0 216.9L257.7 217.5L258.5 218.0L259.1 218.7L259.8 219.2L260.4 219.9L261.1 220.4L262.0 220.8L262.8 221.3L263.3 222.1L263.9 222.7L264.6 223.3L265.0 223.9L264.3 223.9L263.4 223.6L262.7 223.0L261.9 222.6L261.1 222.1L260.2 221.9L259.5 221.3L258.7 221.0L258.0 220.4L257.1 220.2L256.3 219.8L255.5 219.4L254.7 218.8L253.9 218.5L253.0 218.2L252.2 217.9L251.4 217.5L250.7 216.9L249.7 216.9L248.9 216.4L248.2 215.9L247.4 215.5L246.5 215.3L245.7 214.8L244.8 214.5L244.0 214.1L243.1 213.9L242.4 213.4L241.4 213.3L240.7 212.8L239.7 212.8L238.9 212.2L238.0 212.2L237.1 211.9L236.4 211.4L235.5 211.3L234.6 210.9L233.7 210.8L233.0 210.2L232.0 210.1L231.1 210.0L230.3 209.6L229.5 209.3L228.6 209.3L227.7 208.9L226.9 208.5L226.0 208.4L225.1 208.3L224.2 208.2L223.3 207.8L222.4 207.9L221.5 207.9L220.7 207.4L219.8 207.3L219.0 206.8L218.0 206.8L217.1 206.8L216.2 206.7L215.4 206.3L214.5 206.3L213.6 206.2L212.7 206.0L211.8 205.9L210.9 205.8L210.0 205.6L209.1 205.4L208.2 205.3L207.3 205.6L206.5 205.0L205.5 205.2L204.6 205.0L203.7 205.2L202.8 205.0L201.9 205.0L201.0 204.9L200.2 204.8L199.3 204.7L198.3 204.8L197.5 204.6L196.6 204.4L195.7 204.3L194.8 204.3L193.9 204.2L193.0 204.1L192.1 204.1L191.2 204.0L190.3 203.5L189.4 203.6L188.5 203.4L187.6 203.4L186.8 203.0L185.9 202.8L185.0 202.7L184.2 202.3L183.3 202.0L182.8 201.2L182.0 200.8L181.2 200.3L180.8 199.5L180.2 198.8L179.7 198.1L179.3 197.3L178.7 196.6L178.4 195.7L178.2 194.8L177.8 194.0L177.5 193.2L177.6 192.2L177.1 191.4L176.9 190.5L176.7 189.6L176.8 188.7L176.7 187.8L176.4 187.0L176.4 186.1L176.1 185.2L176.2 184.3L176.1 183.4L176.1 182.5L176.1 181.6L175.7 180.7L176.2 179.7L175.7 178.9L175.8 178.0L175.8 177.1L175.7 176.2L175.6 175.3L175.1 174.4L175.2 173.5L175.4 172.6L175.1 171.7L175.0 170.8L174.8 169.9L175.1 169.0L174.9 168.1L174.7 167.2L174.7 166.3L174.6 165.4L174.4 164.5L174.4 163.6L174.3 162.7L174.2 161.8L174.2 160.9L173.9 160.1L173.7 159.2L173.7 158.3L173.4 157.4L173.2 156.5L173.3 155.6L173.0 154.7L172.9 153.8L172.9 152.9L172.5 152.1L172.6 151.2L172.4 150.3L172.2 149.4L172.1 148.5L171.9 147.6L171.6 146.8L171.7 145.8L171.5 145.0L171.6 144.0L171.4 143.1L171.2 142.3L171.2 141.4L171.4 140.4L171.3 139.6L171.2 138.7L171.2 137.8L171.2 136.9Z" fill="none" stroke="#ec6e64" stroke-width="0.9" stroke-linejoin="round"/><path d="M179.6 164.1L179.9 163.2L179.9 162.3L180.2 161.4L179.9 160.5L179.9 159.5L180.1 158.6L180.8 157.9L181.6 157.2L181.8 156.3L181.4 155.2L181.5 154.3L182.6 153.7L182.8 152.8L182.5 151.8L183.6 151.3L183.7 150.3L184.5 149.7L184.6 148.7L185.1 148.0L185.4 147.1L185.4 146.1L186.1 145.5L186.5 144.6L187.4 144.2L187.4 143.1L187.8 142.2L189.0 142.0L189.7 141.4L190.4 140.9L190.9 140.2L191.0 138.9L191.9 138.5L192.7 138.1L193.6 137.9L194.5 137.0L195.4 137.8L196.3 138.1L197.3 138.2L197.8 139.0L198.3 139.8L199.2 140.1L199.6 141.0L200.2 141.7L200.9 142.2L201.5 142.9L202.2 143.5L202.3 144.5L203.3 145.0L203.8 145.7L203.8 146.7L204.7 147.3L204.8 148.3L205.0 149.2L205.7 149.8L206.0 150.6L206.1 151.6L206.5 152.4L207.6 152.9L207.9 153.8L207.3 155.0L207.9 155.7L209.0 156.3L209.0 157.3L208.8 158.3L209.3 159.1L209.1 160.1L209.4 160.9L209.4 161.8L210.2 162.6L209.7 163.6L209.4 164.6L210.6 165.2L210.3 166.3L210.8 167.1L211.3 167.9L211.9 168.5L212.7 169.1L213.1 170.0L213.0 171.0L213.5 171.8L213.9 172.6L214.5 173.3L215.0 174.1L215.9 174.6L216.6 175.1L216.7 176.2L217.2 177.0L217.8 177.6L218.8 178.0L219.1 178.9L219.9 179.5L219.9 180.5L220.8 181.0L221.1 181.9L221.5 182.7L222.1 183.4L222.3 184.4L223.6 184.6L224.4 185.1L224.1 186.4L224.5 187.2L225.1 188.0L226.0 188.4L226.5 189.2L227.2 189.8L228.1 190.2L228.5 191.0L228.8 191.9L229.7 192.4L229.6 193.6L231.1 193.5L231.4 194.5L231.6 195.5L232.6 195.8L233.4 196.3L234.0 197.0L234.4 197.8L234.5 199.0L235.4 199.4L235.9 200.1L236.8 200.5L237.1 201.5L237.9 202.0L238.8 202.4L239.3 203.1L239.7 203.9L240.1 204.8L241.1 205.2L241.6 205.9L241.8 207.0L243.2 206.9L243.9 207.4L244.0 208.6L244.8 209.1L245.6 209.5L246.2 210.3L247.0 210.7L247.5 211.5L248.3 211.9L248.8 212.8L249.9 212.9L250.5 213.6L251.0 214.4L251.8 214.8L252.2 215.7L253.1 216.1L253.9 216.5L254.5 217.2L255.3 217.6L256.3 218.0L256.9 219.1L255.7 219.2L254.9 218.7L254.2 218.1L253.5 217.4L252.7 217.0L252.1 216.2L251.3 215.9L250.2 215.9L249.7 214.9L248.9 214.6L247.8 214.7L247.2 214.0L246.5 213.3L245.6 213.2L244.9 212.5L244.0 212.2L243.3 211.7L242.3 211.6L241.6 210.9L240.7 210.7L240.1 210.0L238.9 210.3L238.4 209.3L237.8 208.6L236.8 208.4L235.9 208.2L235.2 207.6L234.2 207.7L233.4 207.4L232.6 206.9L231.8 206.4L231.1 205.7L230.0 206.0L229.4 205.1L228.2 205.6L227.5 205.1L226.7 204.5L226.0 203.9L224.9 204.2L223.9 204.4L223.3 203.3L222.4 203.2L221.4 203.3L220.6 203.1L219.7 202.7L218.9 202.2L218.1 201.8L217.0 202.4L216.5 200.9L215.4 201.5L214.5 201.4L213.7 200.9L212.7 200.9L212.0 200.0L211.0 200.3L210.1 200.7L209.2 200.5L208.3 200.5L207.4 200.3L206.5 199.8L205.6 200.2L204.7 199.3L203.8 199.9L202.9 199.8L202.0 199.4L201.0 200.3L200.2 199.9L199.3 199.2L198.4 199.4L197.5 199.3L196.6 199.0L195.7 199.3L194.8 199.0L193.9 199.3L192.9 199.4L192.2 198.1L191.2 198.8L190.3 198.6L189.5 197.7L188.6 197.7L187.6 198.1L186.8 197.8L186.0 197.3L185.1 197.1L184.6 196.1L183.9 195.6L183.3 194.9L183.0 194.1L182.5 193.3L182.5 192.4L182.0 191.6L180.7 191.2L181.3 190.0L180.4 189.3L180.1 188.5L180.6 187.4L180.0 186.6L180.0 185.7L180.4 184.7L179.7 183.9L179.5 183.0L179.9 182.1L180.2 181.2L179.9 180.3L179.2 179.4L179.4 178.5L179.6 177.6L180.3 176.7L179.9 175.8L179.8 174.9L179.9 174.0L179.3 173.1L179.6 172.2L179.6 171.3L179.0 170.4L179.3 169.5L179.5 168.6L178.9 167.7L179.5 166.8L179.6 165.9L179.9 165.0Z" fill="none" stroke="#5878ea" stroke-width="0.9" stroke-linejoin="round"/><path d="M178.2 168.2h.8v.8h-.8zM180.3 172.7h.8v.8h-.8zM177.4 168.9h.8v.8h-.8zM221.3 189.4h.8v.8h-.8zM208.0 156.7h.8v.8h-.8zM177.6 177.4h.8v.8h-.8zM213.9 171.7h.8v.8h-.8zM232.0 199.3h.8v.8h-.8zM184.2 147.3h.8v.8h-.8zM235.3 198.4h.8v.8h-.8zM179.4 179.0h.8v.8h-.8zM210.1 163.6h.8v.8h-.8zM238.9 201.4h.8v.8h-.8zM179.4 185.4h.8v.8h-.8zM230.4 190.1h.8v.8h-.8zM182.8 176.6h.8v.8h-.8zM178.6 188.5h.8v.8h-.8zM201.5 145.6h.8v.8h-.8zM181.6 183.3h.8v.8h-.8zM243.0 211.3h.8v.8h-.8zM204.2 146.1h.8v.8h-.8zM181.2 175.6h.8v.8h-.8zM190.7 140.8h.8v.8h-.8zM232.5 210.9h.8v.8h-.8zM179.3 188.0h.8v.8h-.8zM220.0 179.0h.8v.8h-.8zM177.6 174.3h.8v.8h-.8zM177.5 181.7h.8v.8h-.8zM239.1 205.4h.8v.8h-.8zM212.6 168.7h.8v.8h-.8zM210.6 202.3h.8v.8h-.8zM215.8 173.3h.8v.8h-.8zM179.3 163.4h.8v.8h-.8zM182.5 192.9h.8v.8h-.8zM234.2 198.2h.8v.8h-.8zM191.1 198.5h.8v.8h-.8zM184.8 146.6h.8v.8h-.8zM183.8 147.8h.8v.8h-.8zM192.3 140.5h.8v.8h-.8zM209.1 158.5h.8v.8h-.8zM183.9 153.9h.8v.8h-.8zM194.8 200.7h.8v.8h-.8zM242.1 208.1h.8v.8h-.8zM177.5 161.8h.8v.8h-.8zM242.1 207.5h.8v.8h-.8zM183.3 194.1h.8v.8h-.8zM224.1 185.0h.8v.8h-.8zM224.0 186.8h.8v.8h-.8zM213.5 201.7h.8v.8h-.8zM205.9 155.0h.8v.8h-.8zM186.1 149.9h.8v.8h-.8zM177.1 163.8h.8v.8h-.8zM204.0 151.2h.8v.8h-.8zM188.0 196.0h.8v.8h-.8zM199.9 143.1h.8v.8h-.8zM210.0 201.6h.8v.8h-.8zM235.3 199.3h.8v.8h-.8zM239.6 206.2h.8v.8h-.8zM198.8 199.8h.8v.8h-.8zM207.4 198.3h.8v.8h-.8zM200.4 140.6h.8v.8h-.8zM198.6 196.3h.8v.8h-.8zM179.4 184.1h.8v.8h-.8zM182.5 164.2h.8v.8h-.8zM214.0 173.7h.8v.8h-.8zM198.3 136.1h.8v.8h-.8zM203.7 145.3h.8v.8h-.8zM244.5 207.9h.8v.8h-.8zM206.6 155.9h.8v.8h-.8zM240.2 211.7h.8v.8h-.8zM200.9 203.9h.8v.8h-.8zM180.2 190.1h.8v.8h-.8z" fill="#5878ea"/><path d="M183.1 164.3L183.2 163.4L183.4 162.5L183.5 161.7L183.7 160.8L183.8 159.9L184.0 159.0L184.3 158.1L184.4 157.2L184.6 156.4L185.0 155.5L185.3 154.7L185.3 153.7L185.7 152.9L186.1 152.1L186.4 151.3L186.7 150.4L187.2 149.6L187.4 148.7L187.8 147.9L188.2 147.1L188.7 146.3L189.2 145.6L189.6 144.8L190.1 144.0L190.7 143.4L191.1 142.6L191.7 141.9L192.5 141.4L193.1 140.7L193.9 140.3L194.7 140.0L195.6 140.2L196.4 140.6L197.1 141.2L197.8 141.8L198.3 142.5L198.9 143.2L199.4 144.0L199.9 144.7L200.4 145.4L200.8 146.2L201.4 147.0L201.8 147.7L202.0 148.7L202.4 149.5L202.8 150.3L203.1 151.1L203.5 151.9L203.9 152.7L204.1 153.6L204.5 154.5L204.5 155.4L204.9 156.2L205.1 157.1L205.2 158.0L205.4 158.9L205.7 159.7L205.8 160.6L206.2 161.5L206.3 162.4L206.3 163.3L206.4 164.2L206.7 165.0L206.9 165.9L207.3 166.7L207.8 167.5L208.1 168.3L208.4 169.2L209.0 169.9L209.4 170.7L209.9 171.5L210.5 172.2L210.8 173.0L211.3 173.8L211.8 174.5L212.4 175.3L213.0 175.9L213.5 176.6L214.1 177.4L214.6 178.1L215.1 178.8L215.5 179.6L216.0 180.4L216.7 181.0L217.2 181.8L217.8 182.4L218.3 183.2L218.9 183.9L219.5 184.5L220.0 185.3L220.5 186.0L221.1 186.7L221.7 187.4L222.3 188.1L222.8 188.8L223.4 189.5L223.9 190.2L224.6 190.8L225.1 191.6L225.7 192.3L226.2 193.0L226.8 193.7L227.5 194.3L228.1 195.0L228.8 195.6L229.3 196.3L229.8 197.1L230.4 197.7L231.3 198.2L231.8 198.9L232.4 199.6L233.0 200.2L233.6 200.9L234.2 201.6L234.9 202.2L235.5 202.8L236.2 203.4L236.9 204.0L237.5 204.7L238.1 205.4L238.9 205.9L239.4 206.6L240.1 207.2L240.8 207.8L241.4 208.4L242.2 208.9L242.8 209.6L243.4 210.2L244.1 210.9L244.8 211.3L245.5 211.9L246.3 212.4L247.0 213.0L247.5 213.7L247.5 213.9L246.8 213.5L246.0 213.1L245.3 212.5L244.5 212.0L243.6 211.8L242.9 211.1L242.1 210.8L241.3 210.3L240.6 209.9L239.8 209.3L239.0 209.0L238.2 208.4L237.5 208.0L236.8 207.4L236.1 206.9L235.3 206.4L234.5 205.9L233.7 205.5L232.9 205.1L232.3 204.4L231.5 204.0L230.7 203.5L230.0 203.0L229.1 202.7L228.3 202.3L227.4 202.0L226.7 201.4L225.9 201.1L225.0 200.8L224.2 200.3L223.4 200.1L222.5 199.7L221.8 199.2L220.9 199.0L220.0 198.7L219.2 198.4L218.3 198.2L217.4 197.9L216.6 197.5L215.7 197.5L214.8 197.1L214.0 197.0L213.1 196.8L212.2 196.7L211.3 196.5L210.5 196.1L209.6 195.9L208.7 195.9L207.8 195.7L206.9 195.5L206.0 195.5L205.1 195.2L204.2 195.3L203.3 195.2L202.4 195.2L201.5 194.8L200.6 194.9L199.7 194.7L198.8 194.8L197.9 194.6L197.0 194.5L196.1 194.4L195.3 194.1L194.4 194.0L193.5 193.9L192.6 193.9L191.7 193.7L190.8 193.5L189.9 193.4L189.0 193.3L188.2 193.0L187.3 192.8L186.6 192.1L186.0 191.5L185.3 190.9L184.9 190.1L184.5 189.3L184.0 188.6L183.8 187.7L183.4 186.8L183.3 185.9L183.1 185.0L182.9 184.1L182.9 183.2L182.9 182.3L182.8 181.4L182.6 180.5L182.9 179.6L182.8 178.7L182.7 177.8L182.7 176.9L182.8 176.0L182.7 175.1L182.8 174.2L182.8 173.3L182.8 172.4L182.7 171.5L182.8 170.6L182.8 169.7L182.8 168.8L182.9 167.9L182.8 167.0L182.8 166.1L183.0 165.2Z" fill="none" stroke="#ec6e64" stroke-width="0.9" stroke-linejoin="round"/><path d="M185.5 164.9L185.6 164.0L185.7 163.1L186.0 162.3L186.1 161.4L186.3 160.5L186.5 159.6L186.8 158.8L187.0 157.9L187.2 157.0L187.5 156.1L187.9 155.3L188.2 154.5L188.4 153.6L188.9 152.8L189.3 152.0L189.7 151.2L190.1 150.4L190.6 149.6L191.2 148.9L191.7 148.2L192.2 147.5L192.9 146.8L193.6 146.2L194.5 146.0L195.3 146.0L196.2 146.4L196.8 147.0L197.4 147.7L198.0 148.3L198.6 149.1L199.1 149.8L199.5 150.6L200.0 151.4L200.3 152.2L200.8 153.0L201.2 153.8L201.6 154.6L201.9 155.5L202.2 156.3L202.5 157.2L202.7 158.1L202.9 158.9L203.1 159.8L203.4 160.7L203.5 161.6L203.8 162.4L204.0 163.3L204.1 164.2L204.2 165.1L204.5 166.0L204.9 166.8L205.1 167.7L205.5 168.5L206.0 169.3L206.6 170.0L207.0 170.8L207.4 171.6L207.9 172.3L208.5 173.1L208.9 173.8L209.5 174.6L210.0 175.3L210.3 176.2L210.9 176.9L211.5 177.5L212.0 178.3L212.5 179.1L213.0 179.8L213.5 180.6L214.1 181.2L214.6 182.0L215.1 182.7L215.7 183.4L216.3 184.1L216.8 184.8L217.4 185.6L217.9 186.3L218.5 187.0L219.0 187.7L219.6 188.4L220.2 189.1L220.7 189.8L221.3 190.6L221.9 191.2L222.5 191.9L223.1 192.6L223.7 193.2L224.3 193.9L224.9 194.6L225.5 195.2L226.2 195.9L226.7 196.6L227.3 197.3L228.0 197.9L228.6 198.5L229.2 199.2L229.9 199.8L230.5 200.5L231.2 201.1L231.9 201.7L232.5 202.4L233.1 203.0L233.7 203.7L234.4 204.2L235.1 204.8L235.8 205.4L236.4 206.1L237.1 206.6L237.8 207.2L238.5 207.8L239.2 208.4L238.8 208.5L238.0 208.1L237.2 207.6L236.5 207.0L235.7 206.7L235.0 206.1L234.2 205.6L233.5 205.1L232.8 204.6L231.9 204.2L231.2 203.6L230.5 203.1L229.7 202.6L229.0 202.1L228.2 201.6L227.6 200.9L226.8 200.5L226.0 200.0L225.4 199.4L224.6 198.8L223.8 198.4L223.0 197.9L222.3 197.4L221.5 197.0L220.8 196.5L220.0 196.0L219.3 195.4L218.5 195.0L217.7 194.6L216.9 194.1L216.1 193.7L215.3 193.2L214.5 193.0L213.7 192.5L212.8 192.3L212.0 191.9L211.1 191.7L210.3 191.3L209.4 191.1L208.5 190.7L207.6 190.7L206.7 190.5L205.9 190.3L205.0 190.1L204.1 190.0L203.2 190.0L202.3 189.7L201.4 189.6L200.5 189.5L199.6 189.5L198.7 189.3L197.8 189.3L196.9 189.2L196.0 189.1L195.1 188.9L194.2 188.9L193.3 188.8L192.4 188.6L191.5 188.6L190.6 188.5L189.7 188.4L188.8 188.2L187.9 188.1L187.1 187.7L186.4 187.2L185.6 186.8L184.9 186.1L184.4 185.4L184.0 184.6L183.7 183.7L183.5 182.9L183.4 182.0L183.3 181.1L183.4 180.2L183.3 179.2L183.6 178.4L183.6 177.4L183.8 176.6L183.9 175.7L184.0 174.8L184.2 173.9L184.2 173.0L184.3 172.1L184.6 171.2L184.6 170.3L184.8 169.4L185.0 168.5L185.1 167.6L185.2 166.7L185.3 165.8Z" fill="none" stroke="#3048de" stroke-width="0.9" stroke-linejoin="round"/><path d="M186.6 165.2L186.7 164.6L186.8 164.1L186.9 163.5L187.0 162.9L187.1 162.3L187.2 161.6L187.4 161.0L187.6 160.3L187.7 159.6L187.9 159.0L188.1 158.3L188.4 157.7L188.6 157.0L188.8 156.4L189.1 155.8L189.3 155.2L189.6 154.6L189.9 154.0L190.2 153.4L190.4 152.9L190.7 152.4L191.0 151.9L191.3 151.4L191.6 151.0L191.9 150.6L192.2 150.2L192.5 149.9L192.8 149.6L193.1 149.3L193.3 149.0L193.6 148.8L193.8 148.6L194.1 148.5L194.3 148.4L194.6 148.3L194.8 148.3L195.1 148.3L195.3 148.3L195.6 148.4L195.8 148.5L196.1 148.6L196.3 148.8L196.6 149.0L196.8 149.3L197.1 149.6L197.4 149.9L197.7 150.2L198.0 150.6L198.3 151.0L198.6 151.4L198.9 151.9L199.2 152.4L199.5 152.9L199.7 153.4L200.0 154.0L200.3 154.6L200.6 155.2L200.8 155.8L201.1 156.4L201.3 157.0L201.5 157.7L201.8 158.3L202.0 159.0L202.2 159.6L202.3 160.3L202.5 161.0L202.7 161.6L202.8 162.3L202.9 162.9L203.0 163.5L203.1 164.1L203.2 164.6L203.3 165.2L203.4 165.8L203.7 166.6L204.1 167.6L204.6 168.6L205.3 169.8L206.0 171.1L206.8 172.5L207.8 174.0L208.7 175.5L209.7 177.0L210.6 178.4L211.5 179.8L212.5 181.2L213.4 182.5L214.4 183.8L215.3 185.1L216.3 186.4L217.2 187.6L218.2 188.8L219.1 190.0L220.1 191.1L221.0 192.3L222.0 193.4L222.9 194.5L223.9 195.5L224.8 196.6L225.8 197.6L226.7 198.5L227.6 199.5L228.6 200.4L229.5 201.3L230.5 202.2L231.2 202.8L231.7 203.3L231.9 203.6L231.9 203.8L231.7 203.7L231.2 203.4L230.5 203.0L229.6 202.4L228.7 201.8L227.8 201.1L226.8 200.5L225.9 199.8L225.0 199.1L224.0 198.4L223.1 197.7L222.2 197.0L221.2 196.3L220.3 195.5L219.4 194.8L218.5 194.0L217.5 193.3L216.6 192.5L215.7 191.8L214.7 191.0L213.8 190.2L212.9 189.6L211.9 189.0L211.0 188.4L210.1 188.0L209.2 187.5L208.2 187.2L207.3 186.9L206.4 186.6L205.4 186.3L204.5 186.1L203.6 185.9L202.6 185.7L201.7 185.6L200.8 185.5L199.9 185.4L198.9 185.3L197.8 185.1L196.8 185.0L195.6 184.9L194.5 184.7L193.2 184.6L192.0 184.4L190.6 184.2L189.5 183.8L188.5 183.1L187.7 182.3L187.1 181.1L186.6 179.8L186.3 178.2L186.2 176.4L186.2 174.3L186.3 172.5L186.3 171.0L186.3 169.7L186.4 168.6L186.4 167.9L186.4 167.4L186.4 167.1L186.4 167.1L186.4 167.0L186.4 166.9L186.4 166.7L186.5 166.4L186.5 166.1L186.6 165.7Z" fill="none" stroke="#ec6e64" stroke-width="0.9" stroke-linejoin="round"/><path d="M187.8 165.4L187.9 164.9L187.9 164.3L188.0 163.8L188.1 163.3L188.2 162.7L188.3 162.1L188.5 161.6L188.6 161.0L188.8 160.3L189.0 159.7L189.1 159.1L189.3 158.5L189.5 158.0L189.7 157.4L189.9 156.8L190.2 156.3L190.4 155.7L190.7 155.2L190.9 154.7L191.1 154.2L191.4 153.8L191.7 153.3L191.9 152.9L192.2 152.5L192.4 152.1L192.7 151.8L193.0 151.5L193.2 151.2L193.4 151.0L193.7 150.7L193.9 150.5L194.1 150.4L194.3 150.2L194.6 150.1L194.8 150.1L195.0 150.1L195.2 150.1L195.4 150.1L195.6 150.1L195.9 150.2L196.1 150.4L196.3 150.5L196.5 150.7L196.8 151.0L197.0 151.2L197.2 151.5L197.5 151.8L197.8 152.1L198.0 152.5L198.3 152.9L198.5 153.3L198.8 153.8L199.1 154.2L199.3 154.7L199.5 155.2L199.8 155.7L200.0 156.3L200.3 156.8L200.5 157.4L200.7 158.0L200.9 158.5L201.1 159.1L201.2 159.7L201.4 160.3L201.6 161.0L201.7 161.6L201.9 162.1L202.0 162.7L202.1 163.3L202.2 163.8L202.3 164.3L202.3 164.9L202.4 165.4L202.5 166.0L202.8 166.7L203.1 167.5L203.5 168.4L204.0 169.4L204.6 170.5L205.2 171.7L206.0 173.1L206.7 174.3L207.5 175.6L208.2 176.9L209.0 178.1L209.7 179.3L210.5 180.4L211.2 181.6L212.0 182.7L212.7 183.8L213.5 184.8L214.2 185.9L215.0 186.9L215.7 187.9L216.5 188.9L217.2 189.9L218.0 190.8L218.7 191.7L219.5 192.6L220.2 193.5L221.0 194.3L221.7 195.2L222.5 196.0L223.2 196.7L224.0 197.5L224.5 198.1L224.9 198.5L225.1 198.8L225.1 198.9L224.9 198.8L224.5 198.6L224.0 198.2L223.2 197.7L222.5 197.1L221.7 196.6L221.0 196.0L220.2 195.5L219.5 194.9L218.7 194.3L218.0 193.7L217.2 193.0L216.5 192.4L215.7 191.8L215.0 191.1L214.2 190.5L213.5 189.8L212.7 189.1L212.0 188.4L211.2 187.7L210.5 187.1L209.7 186.5L209.0 185.9L208.2 185.4L207.5 185.0L206.7 184.6L206.0 184.2L205.2 183.9L204.5 183.6L203.7 183.3L203.0 183.1L202.2 182.9L201.5 182.7L200.7 182.6L200.0 182.4L199.2 182.3L198.4 182.2L197.6 182.1L196.8 182.0L195.9 181.9L195.0 181.8L194.1 181.6L193.1 181.5L192.1 181.4L191.2 181.0L190.4 180.5L189.7 179.7L189.2 178.8L188.7 177.7L188.4 176.3L188.1 174.8L188.0 173.1L187.9 171.6L187.8 170.3L187.7 169.2L187.7 168.4L187.6 167.7L187.6 167.3L187.6 167.1L187.6 167.1L187.6 167.0L187.6 166.9L187.6 166.7L187.7 166.5L187.7 166.2L187.7 165.8Z" fill="none" stroke="#3048de" stroke-width="0.9" stroke-linejoin="round"/><path d="M189.9 165.7L189.9 165.2L190.0 164.8L190.0 164.4L190.1 163.9L190.2 163.5L190.3 163.0L190.4 162.5L190.5 162.0L190.6 161.5L190.8 161.0L190.9 160.5L191.0 160.0L191.2 159.5L191.4 159.1L191.5 158.6L191.7 158.1L191.9 157.7L192.1 157.3L192.3 156.8L192.5 156.4L192.7 156.1L192.9 155.7L193.1 155.4L193.3 155.0L193.5 154.7L193.7 154.4L193.9 154.2L194.1 153.9L194.3 153.7L194.4 153.6L194.6 153.4L194.8 153.3L195.0 153.2L195.1 153.1L195.3 153.0L195.5 153.0L195.6 153.0L195.8 153.0L196.0 153.1L196.1 153.2L196.3 153.3L196.5 153.4L196.7 153.6L196.8 153.7L197.0 153.9L197.2 154.2L197.4 154.4L197.6 154.7L197.8 155.0L198.0 155.4L198.2 155.7L198.4 156.1L198.6 156.4L198.8 156.8L199.0 157.3L199.2 157.7L199.4 158.1L199.6 158.6L199.7 159.1L199.9 159.5L200.1 160.0L200.2 160.5L200.3 161.0L200.5 161.5L200.6 162.0L200.7 162.5L200.8 163.0L200.9 163.5L201.0 163.9L201.1 164.4L201.1 164.8L201.2 165.2L201.2 165.7L201.4 166.2L201.5 166.7L201.8 167.4L202.1 168.2L202.4 169.0L202.9 169.9L203.4 170.9L203.9 172.0L204.5 173.1L205.1 174.2L205.6 175.2L206.2 176.2L206.7 177.2L207.3 178.2L207.9 179.1L208.4 180.1L209.0 181.0L209.6 181.9L210.1 182.8L210.7 183.6L211.2 184.4L211.8 185.3L212.4 186.1L212.9 186.9L213.5 187.6L214.1 188.4L214.6 189.1L215.2 189.8L215.7 190.5L216.3 191.1L216.9 191.8L217.4 192.4L217.9 192.9L218.1 193.2L218.3 193.5L218.3 193.6L218.1 193.5L217.8 193.3L217.4 193.0L216.8 192.6L216.3 192.2L215.7 191.7L215.1 191.2L214.6 190.8L214.0 190.3L213.4 189.8L212.8 189.3L212.3 188.8L211.7 188.2L211.1 187.7L210.6 187.2L210.0 186.6L209.4 186.1L208.9 185.5L208.3 184.9L207.7 184.3L207.1 183.8L206.6 183.3L206.0 182.8L205.4 182.3L204.9 181.8L204.3 181.4L203.7 181.0L203.2 180.7L202.6 180.3L202.0 180.0L201.4 179.8L200.9 179.6L200.3 179.4L199.7 179.2L199.2 179.1L198.6 179.0L198.0 178.9L197.4 178.8L196.8 178.8L196.2 178.7L195.5 178.6L194.9 178.4L194.2 178.3L193.5 178.2L192.9 177.9L192.3 177.5L191.8 177.0L191.4 176.2L191.0 175.3L190.7 174.3L190.5 173.1L190.3 171.8L190.1 170.6L190.0 169.6L189.9 168.8L189.8 168.1L189.8 167.6L189.7 167.3L189.7 167.1L189.7 167.1L189.7 167.0L189.7 166.9L189.7 166.8L189.8 166.6L189.8 166.3L189.8 166.0Z" fill="none" stroke="#ec6e64" stroke-width="0.9" stroke-linejoin="round"/><path d="M191.6 166.0L191.6 165.7L191.7 165.4L191.7 165.1L191.8 164.7L191.9 164.4L191.9 164.0L192.0 163.7L192.1 163.3L192.2 162.9L192.3 162.5L192.4 162.2L192.5 161.8L192.6 161.4L192.7 161.1L192.9 160.7L193.0 160.4L193.1 160.0L193.3 159.7L193.4 159.4L193.6 159.1L193.7 158.8L193.8 158.5L194.0 158.3L194.2 158.0L194.3 157.8L194.5 157.6L194.6 157.4L194.7 157.2L194.9 157.1L195.0 156.9L195.2 156.8L195.3 156.7L195.4 156.6L195.5 156.6L195.7 156.5L195.8 156.5L195.9 156.5L196.0 156.5L196.2 156.6L196.3 156.6L196.4 156.7L196.5 156.8L196.7 156.9L196.8 157.1L197.0 157.2L197.1 157.4L197.2 157.6L197.4 157.8L197.5 158.0L197.7 158.3L197.9 158.5L198.0 158.8L198.1 159.1L198.3 159.4L198.4 159.7L198.6 160.0L198.7 160.4L198.8 160.7L199.0 161.1L199.1 161.4L199.2 161.8L199.3 162.2L199.4 162.5L199.5 162.9L199.6 163.3L199.7 163.7L199.8 164.0L199.8 164.4L199.9 164.7L200.0 165.1L200.0 165.4L200.1 165.7L200.1 166.0L200.2 166.4L200.3 166.8L200.5 167.4L200.7 168.0L200.9 168.6L201.2 169.4L201.6 170.2L202.0 171.0L202.4 171.9L202.8 172.7L203.2 173.6L203.5 174.4L203.9 175.2L204.3 175.9L204.7 176.7L205.1 177.4L205.5 178.2L205.9 178.9L206.3 179.6L206.7 180.2L207.1 180.9L207.5 181.6L207.9 182.2L208.3 182.8L208.7 183.5L209.1 184.0L209.5 184.6L209.8 185.2L210.2 185.7L210.6 186.3L211.0 186.8L211.4 187.3L211.7 187.6L211.9 187.9L212.0 188.1L212.0 188.2L211.9 188.2L211.7 188.0L211.4 187.8L211.0 187.4L210.6 187.1L210.2 186.7L209.8 186.4L209.4 186.0L209.0 185.6L208.5 185.2L208.1 184.8L207.7 184.4L207.3 184.0L206.9 183.6L206.5 183.1L206.1 182.7L205.7 182.3L205.3 181.8L204.9 181.3L204.5 180.9L204.1 180.4L203.7 180.0L203.3 179.5L202.9 179.1L202.5 178.6L202.1 178.2L201.7 177.7L201.3 177.3L200.9 176.9L200.4 176.5L200.0 176.2L199.6 176.0L199.2 175.7L198.8 175.6L198.4 175.5L198.0 175.4L197.6 175.3L197.2 175.3L196.8 175.2L196.4 175.1L196.0 175.0L195.6 175.0L195.2 174.9L194.8 174.8L194.4 174.6L194.1 174.3L193.7 173.9L193.4 173.4L193.1 172.8L192.8 172.1L192.6 171.3L192.3 170.3L192.1 169.5L191.9 168.8L191.8 168.3L191.7 167.8L191.6 167.4L191.5 167.2L191.5 167.1L191.5 167.1L191.5 167.1L191.5 167.0L191.5 166.9L191.5 166.7L191.6 166.5L191.6 166.3Z" fill="none" stroke="#3048de" stroke-width="0.9" stroke-linejoin="round"/><path d="M193.4 166.2L193.4 165.9L193.4 165.7L193.5 165.4L193.5 165.1L193.5 164.8L193.6 164.5L193.6 164.2L193.7 163.9L193.8 163.6L193.8 163.3L193.9 163.0L194.0 162.7L194.1 162.4L194.2 162.1L194.2 161.8L194.3 161.5L194.4 161.2L194.5 160.9L194.6 160.7L194.7 160.4L194.8 160.2L194.9 160.0L195.0 159.8L195.1 159.6L195.2 159.4L195.3 159.2L195.4 159.0L195.5 158.9L195.6 158.7L195.7 158.6L195.8 158.5L195.9 158.5L196.0 158.4L196.1 158.3L196.2 158.3L196.3 158.3L196.3 158.3L196.4 158.3L196.5 158.3L196.6 158.4L196.7 158.5L196.8 158.5L196.9 158.6L197.0 158.7L197.1 158.9L197.2 159.0L197.3 159.2L197.4 159.4L197.5 159.6L197.6 159.8L197.7 160.0L197.8 160.2L197.9 160.4L198.0 160.7L198.1 160.9L198.2 161.2L198.3 161.5L198.4 161.8L198.4 162.1L198.5 162.4L198.6 162.7L198.7 163.0L198.8 163.3L198.8 163.6L198.9 163.9L199.0 164.2L199.0 164.5L199.1 164.8L199.1 165.1L199.1 165.4L199.2 165.7L199.2 165.9L199.2 166.2L199.3 166.5L199.4 166.9L199.5 167.3L199.6 167.7L199.8 168.2L200.0 168.8L200.2 169.4L200.4 170.1L200.7 170.7L200.9 171.4L201.2 172.0L201.5 172.6L201.7 173.2L202.0 173.8L202.2 174.4L202.5 175.0L202.7 175.5L203.0 176.1L203.2 176.6L203.5 177.1L203.7 177.7L204.0 178.2L204.2 178.6L204.5 179.1L204.7 179.6L205.0 180.0L205.2 180.5L205.5 180.9L205.8 181.3L206.0 181.7L206.3 182.1L206.5 182.5L206.7 182.8L206.8 183.0L206.9 183.1L206.9 183.2L206.8 183.2L206.7 183.1L206.5 182.9L206.2 182.7L205.9 182.4L205.6 182.1L205.4 181.9L205.1 181.6L204.8 181.3L204.6 181.0L204.3 180.7L204.0 180.4L203.8 180.1L203.5 179.7L203.2 179.4L202.9 179.1L202.7 178.7L202.4 178.4L202.1 178.0L201.9 177.7L201.6 177.3L201.3 177.0L201.1 176.6L200.8 176.2L200.5 175.8L200.2 175.4L200.0 175.0L199.7 174.6L199.4 174.2L199.2 173.9L198.9 173.5L198.6 173.3L198.4 173.0L198.1 172.9L197.8 172.7L197.5 172.6L197.3 172.5L197.0 172.4L196.8 172.3L196.6 172.2L196.3 172.1L196.1 172.1L195.9 172.0L195.7 171.9L195.5 171.8L195.3 171.6L195.1 171.4L194.9 171.1L194.7 170.7L194.5 170.2L194.3 169.7L194.0 169.1L193.9 168.6L193.7 168.2L193.6 167.8L193.5 167.5L193.4 167.3L193.3 167.2L193.3 167.1L193.3 167.1L193.3 167.1L193.3 167.0L193.3 166.9L193.3 166.8L193.3 166.6L193.4 166.4Z" fill="none" stroke="#1c1e98" stroke-width="0.9" stroke-linejoin="round"/><path d="M194.6 166.4L194.6 166.2L194.6 166.0L194.6 165.7L194.6 165.5L194.7 165.3L194.7 165.0L194.7 164.8L194.8 164.6L194.8 164.3L194.9 164.1L194.9 163.8L194.9 163.6L195.0 163.3L195.1 163.1L195.1 162.9L195.2 162.6L195.2 162.4L195.3 162.2L195.4 162.0L195.4 161.8L195.5 161.6L195.6 161.4L195.6 161.2L195.7 161.1L195.8 160.9L195.8 160.8L195.9 160.6L196.0 160.5L196.0 160.4L196.1 160.3L196.1 160.2L196.2 160.2L196.3 160.1L196.3 160.1L196.4 160.1L196.4 160.0L196.5 160.0L196.5 160.1L196.6 160.1L196.6 160.1L196.7 160.2L196.8 160.2L196.8 160.3L196.9 160.4L196.9 160.5L197.0 160.6L197.1 160.8L197.1 160.9L197.2 161.1L197.3 161.2L197.3 161.4L197.4 161.6L197.5 161.8L197.5 162.0L197.6 162.2L197.7 162.4L197.7 162.6L197.8 162.9L197.8 163.1L197.9 163.3L198.0 163.6L198.0 163.8L198.0 164.1L198.1 164.3L198.1 164.6L198.2 164.8L198.2 165.0L198.2 165.3L198.3 165.5L198.3 165.7L198.3 166.0L198.3 166.2L198.3 166.4L198.4 166.6L198.4 166.9L198.5 167.2L198.6 167.5L198.6 167.9L198.7 168.3L198.9 168.7L199.0 169.1L199.1 169.6L199.3 170.0L199.4 170.4L199.5 170.8L199.6 171.2L199.8 171.6L199.9 172.0L200.0 172.4L200.2 172.8L200.3 173.2L200.4 173.5L200.6 173.9L200.7 174.2L200.8 174.6L201.0 174.9L201.1 175.2L201.2 175.6L201.4 175.9L201.5 176.2L201.6 176.5L201.7 176.7L201.9 177.0L202.0 177.3L202.1 177.5L202.2 177.7L202.3 177.9L202.3 178.0L202.3 178.0L202.3 178.0L202.2 177.9L202.1 177.8L201.9 177.7L201.8 177.5L201.6 177.3L201.5 177.2L201.3 177.0L201.2 176.8L201.0 176.6L200.9 176.4L200.7 176.2L200.6 176.0L200.4 175.7L200.3 175.5L200.1 175.3L200.0 175.1L199.8 174.8L199.7 174.6L199.5 174.4L199.4 174.1L199.2 173.9L199.1 173.6L198.9 173.3L198.8 173.1L198.6 172.8L198.5 172.5L198.3 172.2L198.2 172.0L198.0 171.7L197.9 171.5L197.7 171.3L197.6 171.1L197.4 170.9L197.3 170.7L197.1 170.6L197.0 170.5L196.8 170.3L196.6 170.2L196.4 170.1L196.2 170.0L196.0 170.0L195.8 169.9L195.6 169.8L195.4 169.7L195.2 169.6L195.1 169.5L194.9 169.3L194.8 169.1L194.7 168.8L194.7 168.5L194.6 168.2L194.6 167.9L194.6 167.7L194.5 167.5L194.5 167.3L194.5 167.2L194.5 167.1L194.5 167.1L194.5 167.1L194.5 167.1L194.5 167.0L194.5 166.9L194.5 166.8L194.5 166.7L194.5 166.6Z" fill="#2020a8" stroke="#1c1e98" stroke-width="0.9" stroke-linejoin="round"/></g>
<line x1="196.60" y1="119.90" x2="196.60" y2="214.00" stroke="#000" stroke-width="0.9" stroke-dasharray="1.3 1.3"/>
<path d="M148.60 212.23 L149.20 211.85 L149.80 211.48 L150.40 211.09 L151.00 210.71 L151.60 210.33 L152.20 209.94 L152.80 209.56 L153.40 209.17 L154.00 208.78 L154.60 208.39 L155.20 207.99 L155.80 207.60 L156.40 207.20 L157.00 206.80 L157.60 206.40 L158.20 205.99 L158.80 205.59 L159.40 205.18 L160.00 204.77 L160.60 204.35 L161.20 203.94 L161.80 203.52 L162.40 203.10 L163.00 202.68 L163.60 202.25 L164.20 201.83 L164.80 201.40 L165.40 200.96 L166.00 200.53 L166.60 200.09 L167.20 199.65 L167.80 199.20 L168.40 198.76 L169.00 198.31 L169.60 197.85 L170.20 197.40 L170.80 196.93 L171.40 196.47 L172.00 196.00 L172.60 195.53 L173.20 195.05 L173.80 194.57 L174.40 194.09 L175.00 193.60 L175.60 193.11 L176.20 192.61 L176.80 192.11 L177.40 191.60 L178.00 191.09 L178.60 190.57 L179.20 190.04 L179.80 189.51 L180.40 188.98 L181.00 188.43 L181.60 187.88 L182.20 187.32 L182.80 186.76 L183.40 186.18 L184.00 185.60 L184.60 185.01 L185.20 184.41 L185.80 183.80 L186.40 183.17 L187.00 182.53 L187.60 181.88 L188.20 181.22 L188.80 180.54 L189.40 179.84 L190.00 179.12 L190.60 178.38 L191.20 177.62 L191.80 176.82 L192.40 175.99 L193.00 175.13 L193.60 174.21 L194.20 173.23 L194.80 172.16 L195.40 170.96 L196.00 169.53 L196.60 167.10 L197.20 169.53 L197.80 170.96 L198.40 172.16 L199.00 173.23 L199.60 174.21 L200.20 175.13 L200.80 175.99 L201.40 176.82 L202.00 177.62 L202.60 178.38 L203.20 179.12 L203.80 179.84 L204.40 180.54 L205.00 181.22 L205.60 181.88 L206.20 182.53 L206.80 183.17 L207.40 183.80 L208.00 184.41 L208.60 185.01 L209.20 185.60 L209.80 186.18 L210.40 186.76 L211.00 187.32 L211.60 187.88 L212.20 188.43 L212.80 188.98 L213.40 189.51 L214.00 190.04 L214.60 190.57 L215.20 191.09 L215.80 191.60 L216.40 192.11 L217.00 192.61 L217.60 193.11 L218.20 193.60 L218.80 194.09 L219.40 194.57 L220.00 195.05 L220.60 195.53 L221.20 196.00 L221.80 196.47 L222.40 196.93 L223.00 197.40 L223.60 197.85 L224.20 198.31 L224.80 198.76 L225.40 199.20 L226.00 199.65 L226.60 200.09 L227.20 200.53 L227.80 200.96 L228.40 201.40 L229.00 201.83 L229.60 202.25 L230.20 202.68 L230.80 203.10 L231.40 203.52 L232.00 203.94 L232.60 204.35 L233.20 204.77 L233.80 205.18 L234.40 205.59 L235.00 205.99 L235.60 206.40 L236.20 206.80 L236.80 207.20 L237.40 207.60 L238.00 207.99 L238.60 208.39 L239.20 208.78 L239.80 209.17 L240.40 209.56 L241.00 209.94 L241.60 210.33 L242.20 210.71 L242.80 211.09 L243.40 211.48 L244.00 211.85 L244.60 212.23" fill="none" stroke="#000" stroke-width="0.9" stroke-dasharray="1.3 1.3"/>
<rect x="148.60" y="119.90" width="96.0" height="94.1" fill="none" stroke="#999" stroke-width="0.8"/>
<path d="M166.60 214.00v-1.4M166.60 119.90v1.4M148.60 196.95h1.4M244.60 196.95h-1.4M196.60 214.00v-1.4M196.60 119.90v1.4M148.60 167.10h1.4M244.60 167.10h-1.4M226.60 214.00v-1.4M226.60 119.90v1.4M148.60 137.25h1.4M244.60 137.25h-1.4" stroke="#888" stroke-width="0.6"/>
<text x="151.20" y="128.50" class="pl">(a)</text>
<line x1="250.30" y1="66.50" x2="346.30" y2="66.50" stroke="#b0b0b0" stroke-width="0.6"/>
<g clip-path="url(#clip_bi)"><path d="M268.7 57.6L268.8 56.7L268.1 55.8L269.2 54.9L268.5 54.0L269.3 53.1L269.0 52.2L269.9 51.4L269.9 50.5L269.5 49.5L269.6 48.6L270.0 47.8L270.6 47.0L270.5 46.0L270.2 45.1L270.4 44.2L271.2 43.4L269.6 42.2L271.0 41.6L270.3 40.5L271.7 39.9L270.9 38.8L271.3 37.9L270.9 37.0L271.7 36.2L272.3 35.4L273.0 34.6L271.6 33.4L272.3 32.6L274.8 32.4L273.5 31.1L273.2 30.1L273.7 29.3L272.3 27.9L274.8 27.7L274.3 26.6L273.8 25.5L275.4 25.1L274.8 23.9L274.9 23.0L276.0 22.5L276.3 21.6L276.2 20.6L276.7 19.8L276.4 18.7L276.8 17.9L278.3 17.6L278.9 16.9L278.9 15.9L279.3 15.1L279.3 14.1L279.9 13.4L280.0 12.4L281.7 12.4L281.2 11.0L282.1 10.5L282.5 9.7L282.4 8.5L284.4 8.9L284.0 7.4L284.5 6.6L285.5 6.3L285.7 5.3L286.8 5.1L287.1 4.1L288.4 4.2L289.0 3.5L289.4 2.4L290.8 3.2L291.4 2.4L292.1 1.5L293.2 2.0L294.0 1.9L295.0 2.7L295.8 1.2L296.6 2.2L297.6 1.8L298.4 2.4L299.4 2.2L300.2 2.7L300.8 3.4L302.1 3.0L303.2 3.1L303.2 4.6L304.1 4.9L304.6 5.8L305.0 6.6L306.0 6.9L306.0 8.1L307.1 8.3L307.6 9.1L307.8 10.0L308.5 10.7L309.3 11.2L309.7 12.0L310.6 12.5L311.0 13.4L311.1 14.3L311.2 15.3L312.2 15.8L312.0 16.9L311.8 18.0L312.1 18.8L313.5 19.2L313.3 20.2L313.9 20.9L314.1 21.8L314.4 22.7L314.9 23.4L315.1 24.3L315.7 25.1L316.2 25.8L316.2 26.8L316.4 27.7L316.2 28.7L316.9 29.4L317.0 30.3L316.9 31.3L318.3 31.8L318.2 32.8L318.0 33.8L318.5 34.6L319.2 35.3L318.3 36.4L319.1 37.2L319.8 38.0L318.4 39.2L320.3 39.7L319.8 40.7L320.3 41.6L320.0 42.5L319.9 43.5L320.8 44.2L320.5 45.2L320.7 46.1L321.3 46.9L320.2 48.0L320.8 48.8L321.2 49.6L321.5 50.5L321.4 51.4L321.2 52.4L321.6 53.2L320.8 54.2L322.9 54.9L322.8 55.9L321.8 56.8L322.7 57.6L321.9 58.6L322.4 59.5L321.9 60.5L322.3 61.3L322.0 62.3L322.5 63.2L322.7 64.1L323.4 64.8L323.4 65.7L324.1 66.4L325.1 67.0L325.8 67.6L326.2 68.4L325.8 69.7L327.6 69.6L326.9 71.1L327.8 71.6L327.6 72.8L328.4 73.4L329.3 73.8L329.5 74.8L331.1 74.7L330.5 76.3L331.0 77.1L332.5 77.0L331.9 78.6L332.9 79.0L333.4 79.8L334.6 79.9L334.4 81.3L335.0 82.0L335.8 82.4L336.8 82.8L336.7 84.1L337.1 84.9L338.0 85.3L338.4 86.2L339.6 86.3L339.9 87.2L340.4 88.0L341.1 88.6L340.6 90.2L342.2 90.0L343.2 90.3L343.3 91.5L344.7 91.4L344.7 92.7L345.1 93.5L346.3 93.6L346.8 94.4L347.7 94.8L347.9 95.8L348.8 96.2L348.5 97.8L349.5 98.0L350.5 98.3L351.6 98.5L350.9 100.5L351.8 100.8L352.8 101.2L353.5 101.7L354.1 102.3L355.0 102.7L354.8 104.3L356.1 104.2L357.3 104.2L357.7 105.2L359.1 105.0L358.5 106.9L359.1 107.6L359.3 108.6L359.9 109.4L361.6 108.8L361.8 110.0L362.3 110.8L363.0 111.3L364.2 111.4L364.3 112.6L365.1 113.0L365.4 114.0L366.6 114.0L367.4 114.6L368.1 115.0L368.8 115.7L369.6 116.1L370.1 116.9L370.5 117.9L371.2 118.4L371.5 119.4L372.3 119.9L373.2 120.3L374.5 120.1L374.6 121.4L375.0 122.2L376.6 121.8L377.2 122.4L377.9 123.1L378.6 123.6L379.0 124.5L380.0 124.8L380.2 125.9L381.5 125.8L381.8 126.8L382.6 127.2L383.5 127.6L383.5 129.0L384.6 129.1L385.1 129.9L386.2 130.0L386.5 131.0L387.3 131.5L388.3 131.7L389.5 131.5L389.4 133.2L390.2 133.7L391.1 133.9L391.8 134.5L392.6 135.0L393.3 135.5L394.4 135.5L394.9 136.4L395.5 137.1L396.5 137.1L397.4 137.5L397.3 139.3L398.4 139.2L399.4 139.3L400.2 139.8L402.0 139.9L400.8 141.7L399.8 140.8L399.2 139.7L397.7 141.0L397.2 140.0L397.0 138.3L395.9 138.5L395.0 138.2L394.4 137.5L393.2 137.7L392.4 137.4L391.8 136.5L391.0 136.1L389.8 136.6L389.6 135.0L388.0 136.2L387.4 135.3L387.5 133.0L385.8 134.4L385.3 133.5L384.1 133.9L383.4 133.2L382.5 133.0L381.8 132.4L381.2 131.5L380.7 130.6L379.6 130.6L379.0 129.9L377.7 130.6L377.3 129.2L376.3 129.3L375.7 128.5L374.4 129.0L373.7 128.5L373.2 127.3L372.2 127.3L371.3 127.2L370.3 127.2L369.6 126.6L368.9 125.9L368.1 125.5L367.0 125.8L366.2 125.3L365.5 124.6L364.4 125.0L364.0 123.7L362.9 123.8L362.1 123.6L360.8 124.4L360.1 123.7L359.4 123.1L358.6 122.6L357.7 122.6L357.1 121.5L356.2 121.3L355.2 121.3L354.1 121.9L353.8 119.9L352.7 120.5L351.9 119.8L350.9 120.2L350.1 119.6L349.3 119.0L348.4 119.0L347.6 118.3L346.6 118.7L346.0 117.3L344.6 119.2L343.9 118.2L343.3 117.2L342.2 117.7L341.3 117.5L340.3 118.1L339.8 116.3L338.5 117.7L337.9 116.2L337.0 116.2L336.2 115.7L335.4 115.2L334.3 116.2L333.4 116.0L332.5 115.6L331.5 116.2L330.9 114.7L329.9 115.2L329.0 114.7L328.0 115.3L327.2 114.5L326.3 114.7L325.5 114.3L324.5 114.7L323.8 113.4L322.7 114.2L321.7 115.1L321.0 113.3L320.1 113.7L319.1 113.9L318.5 111.9L317.4 113.2L316.4 113.9L315.6 113.4L314.7 112.8L313.8 113.0L313.0 112.1L312.1 112.2L311.1 113.1L310.2 112.6L309.4 112.2L308.4 112.7L307.5 112.7L306.7 111.9L305.8 112.0L304.7 112.9L303.9 112.3L303.0 112.1L302.2 111.8L301.2 111.9L300.6 110.6L299.4 111.7L298.5 111.5L297.8 110.6L296.6 111.7L295.9 110.8L295.3 109.7L294.1 110.4L293.3 109.8L292.8 108.5L291.9 108.6L291.0 108.4L290.2 108.0L289.1 108.1L288.5 107.2L287.6 107.1L287.6 105.4L286.3 105.8L285.2 105.7L284.6 105.1L284.0 104.4L282.8 104.4L282.3 103.5L282.7 102.0L280.9 102.3L280.6 101.3L280.8 100.1L280.6 99.2L278.9 99.2L279.6 97.7L278.3 97.5L278.8 96.1L277.8 95.6L277.0 95.0L277.2 94.0L276.7 93.2L275.7 92.7L276.8 91.2L275.2 90.9L275.7 89.8L274.5 89.2L273.6 88.6L273.6 87.6L273.9 86.6L274.0 85.6L274.4 84.6L273.2 84.0L272.8 83.1L272.1 82.4L272.4 81.4L272.4 80.5L270.8 80.0L272.4 78.6L272.1 77.7L272.5 76.7L270.5 76.3L270.8 75.3L270.5 74.4L269.6 73.8L269.6 72.8L269.3 72.0L269.8 70.9L269.5 70.0L269.8 69.0L268.6 68.4L267.8 67.7L268.6 66.6L268.5 65.7L268.8 64.8L269.1 64.0L268.2 63.0L269.0 62.1L268.1 61.2L268.8 60.3L269.1 59.4L268.7 58.5Z" fill="none" stroke="#84a4ee" stroke-width="1.0" stroke-linejoin="round"/><path d="M270.5 57.7h.8v.8h-.8zM317.5 114.3h.8v.8h-.8zM322.6 62.0h.8v.8h-.8zM273.0 88.5h.8v.8h-.8zM270.0 39.4h.8v.8h-.8zM276.9 23.3h.8v.8h-.8zM316.0 21.8h.8v.8h-.8zM321.2 56.0h.8v.8h-.8zM282.4 105.3h.8v.8h-.8zM313.1 110.9h.8v.8h-.8zM269.9 70.4h.8v.8h-.8zM318.1 30.0h.8v.8h-.8zM271.0 45.4h.8v.8h-.8zM277.5 22.1h.8v.8h-.8zM345.7 93.4h.8v.8h-.8zM316.2 35.6h.8v.8h-.8zM317.5 34.3h.8v.8h-.8zM300.9 110.6h.8v.8h-.8zM311.7 114.6h.8v.8h-.8zM313.9 22.6h.8v.8h-.8zM319.5 22.3h.8v.8h-.8zM272.9 83.2h.8v.8h-.8zM273.3 79.1h.8v.8h-.8zM268.3 69.9h.8v.8h-.8zM322.5 53.9h.8v.8h-.8zM270.5 79.5h.8v.8h-.8zM307.9 113.8h.8v.8h-.8zM322.9 68.1h.8v.8h-.8zM323.8 64.9h.8v.8h-.8zM316.2 51.4h.8v.8h-.8zM297.6 110.9h.8v.8h-.8zM270.3 40.8h.8v.8h-.8zM300.1 111.3h.8v.8h-.8zM319.2 112.0h.8v.8h-.8zM317.8 42.1h.8v.8h-.8zM289.7 104.8h.8v.8h-.8zM269.5 56.4h.8v.8h-.8zM270.7 85.0h.8v.8h-.8zM268.6 58.4h.8v.8h-.8zM325.6 70.9h.8v.8h-.8zM319.0 39.6h.8v.8h-.8zM324.1 55.7h.8v.8h-.8zM282.1 105.5h.8v.8h-.8zM324.4 67.4h.8v.8h-.8zM338.7 87.8h.8v.8h-.8zM314.9 21.2h.8v.8h-.8zM330.9 77.1h.8v.8h-.8zM277.2 99.2h.8v.8h-.8zM272.0 48.2h.8v.8h-.8zM318.3 32.8h.8v.8h-.8zM324.0 47.2h.8v.8h-.8zM273.2 21.5h.8v.8h-.8zM338.5 86.7h.8v.8h-.8zM274.7 88.9h.8v.8h-.8zM297.2 107.4h.8v.8h-.8zM270.8 73.9h.8v.8h-.8zM290.6 106.7h.8v.8h-.8zM270.2 43.9h.8v.8h-.8zM321.8 56.5h.8v.8h-.8zM330.0 76.2h.8v.8h-.8zM292.0 113.2h.8v.8h-.8zM270.0 40.5h.8v.8h-.8zM268.7 50.5h.8v.8h-.8zM315.7 25.1h.8v.8h-.8zM324.5 70.4h.8v.8h-.8zM269.9 46.6h.8v.8h-.8zM307.2 115.1h.8v.8h-.8zM316.2 42.4h.8v.8h-.8zM277.2 91.9h.8v.8h-.8zM299.5 108.0h.8v.8h-.8zM267.4 67.7h.8v.8h-.8zM335.0 79.0h.8v.8h-.8zM293.3 109.0h.8v.8h-.8zM270.8 68.2h.8v.8h-.8zM295.3 109.5h.8v.8h-.8zM313.1 23.9h.8v.8h-.8zM326.1 73.5h.8v.8h-.8zM338.3 89.1h.8v.8h-.8zM332.1 72.1h.8v.8h-.8zM323.0 64.4h.8v.8h-.8zM319.2 48.1h.8v.8h-.8zM279.1 95.7h.8v.8h-.8zM270.5 75.9h.8v.8h-.8zM318.0 110.5h.8v.8h-.8zM325.7 53.0h.8v.8h-.8zM315.2 114.6h.8v.8h-.8zM318.1 27.8h.8v.8h-.8zM331.2 78.3h.8v.8h-.8zM277.3 96.7h.8v.8h-.8zM271.8 41.7h.8v.8h-.8zM335.0 81.6h.8v.8h-.8zM274.5 29.1h.8v.8h-.8zM329.7 68.6h.8v.8h-.8z" fill="#84a4ee"/><path d="M283.4 61.5L282.3 60.5L282.9 59.7L282.6 58.8L283.8 58.0L283.8 57.0L283.5 56.1L283.5 55.2L283.9 54.4L283.4 53.4L283.7 52.5L283.7 51.6L284.6 50.8L284.4 49.9L284.0 48.9L284.9 48.2L285.2 47.3L285.8 46.5L285.2 45.4L285.9 44.7L286.9 44.1L286.1 42.9L286.4 42.0L287.0 41.3L286.9 40.3L287.5 39.5L287.6 38.6L287.9 37.7L289.0 37.3L288.9 36.2L289.1 35.3L289.9 34.7L290.5 34.0L291.2 33.4L292.0 33.0L292.9 32.6L292.7 31.0L293.7 30.8L294.2 29.8L295.4 30.3L296.3 30.2L297.2 29.6L298.1 29.6L299.1 29.8L300.1 30.0L300.4 31.3L300.8 32.2L302.3 31.7L302.1 33.3L303.2 33.4L304.3 33.8L304.1 35.0L304.5 35.8L305.1 36.5L305.8 37.2L305.4 38.4L306.6 38.8L306.5 39.8L306.9 40.6L307.8 41.2L308.6 41.9L308.8 42.8L308.5 43.9L308.4 44.8L309.6 45.4L309.4 46.4L308.6 47.5L310.3 48.1L309.5 49.2L309.7 50.1L309.7 51.0L310.8 51.7L310.2 52.7L311.1 53.5L310.0 54.5L311.1 55.3L310.6 56.3L311.3 57.1L310.9 58.1L311.8 58.9L311.0 59.9L310.9 60.8L311.3 61.6L310.8 62.7L311.6 63.4L311.7 64.3L312.2 65.1L312.0 66.2L313.4 66.5L313.7 67.4L314.2 68.2L314.3 69.1L314.9 69.8L315.2 70.7L315.9 71.3L316.8 71.8L317.1 72.6L317.5 73.5L319.0 73.4L318.3 75.2L319.5 75.3L320.0 76.1L320.4 77.0L321.1 77.5L322.1 77.8L322.3 78.9L322.3 80.0L323.1 80.6L323.6 81.3L324.8 81.5L325.3 82.2L325.4 83.3L325.9 84.1L327.0 84.3L327.9 84.7L328.9 85.0L328.4 86.7L330.0 86.5L329.9 87.8L330.4 88.6L330.2 90.0L331.9 89.6L332.6 90.2L333.0 91.0L333.6 91.7L334.0 92.6L334.8 93.0L335.9 93.2L337.0 93.4L336.9 94.8L337.8 95.1L337.8 96.5L339.3 96.2L339.5 97.3L340.4 97.6L341.1 98.2L341.0 99.7L342.1 99.8L342.9 100.3L343.2 101.2L344.4 101.3L344.9 102.0L345.7 102.6L345.5 104.1L346.7 104.1L347.3 104.8L347.8 105.6L348.9 105.7L349.5 106.3L350.7 106.4L350.7 107.7L351.4 108.3L352.3 108.6L352.5 109.8L354.1 109.3L354.1 110.7L355.3 110.6L356.0 111.3L356.4 112.2L356.6 113.3L358.1 113.0L358.7 113.6L359.4 114.1L359.2 115.8L360.3 115.8L361.1 116.4L361.3 117.5L362.5 117.4L363.9 117.1L364.2 118.2L365.1 118.5L364.9 120.3L366.6 119.5L366.8 120.7L367.8 121.0L368.5 121.5L369.1 122.2L369.8 122.7L370.7 123.0L371.6 123.3L372.2 124.1L373.0 124.4L373.7 125.0L374.2 125.9L375.0 126.3L375.6 127.1L376.5 127.3L376.7 128.6L378.1 128.1L379.0 128.5L379.2 129.8L380.4 129.6L380.9 130.4L381.4 131.2L382.5 131.3L383.3 131.8L383.4 132.1L382.8 132.1L381.8 132.1L380.9 132.0L380.2 131.2L379.2 131.3L378.5 130.6L377.7 130.3L377.2 129.3L376.5 128.7L375.4 128.8L374.6 128.3L373.7 128.2L372.8 127.9L372.2 127.1L371.7 126.2L370.8 125.9L370.1 125.4L369.1 125.3L367.8 125.9L367.8 123.9L367.1 123.3L366.2 123.1L365.4 122.6L364.7 122.1L364.3 121.0L362.9 121.5L362.4 120.6L361.5 120.5L360.7 120.1L359.7 119.9L358.9 119.6L357.9 119.4L357.6 118.3L356.6 118.2L355.6 118.1L354.9 117.4L354.0 117.2L353.9 115.6L352.7 115.9L352.0 115.2L350.9 115.3L350.2 114.8L350.0 113.5L348.9 113.5L348.2 112.8L347.9 111.7L347.2 111.1L346.1 111.2L345.3 110.8L344.4 110.4L343.5 110.1L343.4 108.8L341.8 109.5L341.3 108.6L340.1 108.9L339.5 108.2L339.1 107.1L338.3 106.6L337.5 106.2L336.6 106.1L335.7 105.8L334.9 105.3L334.1 104.9L333.6 103.8L332.9 103.3L331.9 103.4L330.9 103.4L330.0 103.2L329.4 102.3L328.4 102.2L327.3 102.6L327.0 100.9L325.9 101.2L325.0 101.0L324.1 101.0L323.3 100.7L322.6 99.7L321.5 100.2L320.8 99.5L320.0 99.1L319.3 98.3L318.2 98.6L317.3 98.7L316.4 98.7L315.6 97.9L314.7 97.7L313.7 98.2L312.9 97.5L312.0 97.7L311.0 98.3L310.2 97.9L309.4 97.0L308.5 96.6L307.6 96.8L306.6 97.2L305.7 97.3L304.9 96.7L304.0 96.7L303.0 97.5L302.2 96.4L301.2 96.9L300.4 96.2L299.5 96.2L298.6 96.0L297.7 95.8L296.8 95.9L295.8 96.6L294.9 96.5L294.1 95.5L293.2 95.6L292.2 96.5L291.3 96.6L290.5 95.2L289.8 94.5L288.9 94.9L287.8 95.0L287.2 94.3L285.6 94.9L285.5 93.5L285.6 92.3L285.1 91.6L283.5 91.4L284.5 90.0L284.0 89.2L283.9 88.3L283.2 87.6L283.1 86.7L282.5 85.9L283.0 84.9L283.2 84.0L282.3 83.1L282.9 82.2L282.5 81.3L283.2 80.4L283.2 79.5L281.6 78.6L282.9 77.7L283.2 76.8L282.4 75.9L282.6 75.0L282.6 74.1L282.2 73.2L282.6 72.3L283.4 71.4L282.9 70.5L283.4 69.6L283.2 68.7L283.3 67.8L282.8 66.9L283.1 66.0L283.7 65.1L283.5 64.2L283.1 63.3L282.6 62.4Z" fill="none" stroke="#84a4ee" stroke-width="1.0" stroke-linejoin="round"/><path d="M322.5 82.2h.8v.8h-.8zM347.9 102.8h.8v.8h-.8zM305.1 34.5h.8v.8h-.8zM292.5 30.7h.8v.8h-.8zM296.8 96.2h.8v.8h-.8zM339.2 98.5h.8v.8h-.8zM326.6 87.1h.8v.8h-.8zM285.6 97.6h.8v.8h-.8zM283.3 51.6h.8v.8h-.8zM282.7 70.6h.8v.8h-.8zM294.5 29.2h.8v.8h-.8zM300.2 35.0h.8v.8h-.8zM340.6 109.1h.8v.8h-.8zM323.5 102.3h.8v.8h-.8zM317.9 73.6h.8v.8h-.8zM309.5 58.0h.8v.8h-.8zM285.1 62.0h.8v.8h-.8zM341.6 110.2h.8v.8h-.8zM297.8 96.0h.8v.8h-.8zM310.8 61.5h.8v.8h-.8zM312.2 53.1h.8v.8h-.8zM305.9 38.9h.8v.8h-.8zM284.3 82.8h.8v.8h-.8zM339.8 109.9h.8v.8h-.8zM307.2 41.3h.8v.8h-.8zM310.9 65.8h.8v.8h-.8zM284.1 75.3h.8v.8h-.8zM324.5 80.9h.8v.8h-.8zM318.5 71.1h.8v.8h-.8zM283.7 90.5h.8v.8h-.8zM285.5 83.2h.8v.8h-.8zM331.9 102.4h.8v.8h-.8zM288.5 95.9h.8v.8h-.8zM307.9 42.4h.8v.8h-.8zM340.3 94.2h.8v.8h-.8zM309.0 48.1h.8v.8h-.8zM339.9 100.0h.8v.8h-.8zM341.2 103.3h.8v.8h-.8zM281.8 79.9h.8v.8h-.8zM284.4 41.6h.8v.8h-.8zM327.2 104.7h.8v.8h-.8zM290.4 96.4h.8v.8h-.8zM339.6 106.4h.8v.8h-.8zM307.6 99.6h.8v.8h-.8zM282.6 83.6h.8v.8h-.8zM284.1 46.4h.8v.8h-.8zM296.1 94.1h.8v.8h-.8zM287.0 41.7h.8v.8h-.8zM344.0 100.4h.8v.8h-.8zM284.2 46.9h.8v.8h-.8zM308.0 36.8h.8v.8h-.8zM329.8 92.2h.8v.8h-.8zM296.5 32.1h.8v.8h-.8zM308.7 44.1h.8v.8h-.8zM336.4 104.3h.8v.8h-.8zM330.2 88.1h.8v.8h-.8zM318.6 76.8h.8v.8h-.8zM333.9 94.0h.8v.8h-.8zM281.7 68.2h.8v.8h-.8zM291.4 95.4h.8v.8h-.8zM285.2 43.5h.8v.8h-.8zM339.3 98.0h.8v.8h-.8zM344.5 99.2h.8v.8h-.8zM281.4 53.6h.8v.8h-.8zM285.5 89.0h.8v.8h-.8zM308.1 49.7h.8v.8h-.8zM292.5 93.8h.8v.8h-.8zM298.0 96.1h.8v.8h-.8zM326.8 101.0h.8v.8h-.8zM306.2 97.6h.8v.8h-.8zM291.6 33.4h.8v.8h-.8zM298.6 97.9h.8v.8h-.8zM326.6 103.5h.8v.8h-.8zM316.3 99.7h.8v.8h-.8zM314.2 61.3h.8v.8h-.8zM303.9 34.7h.8v.8h-.8zM303.1 97.1h.8v.8h-.8zM312.3 46.4h.8v.8h-.8zM283.9 53.0h.8v.8h-.8zM310.2 69.6h.8v.8h-.8zM281.7 81.6h.8v.8h-.8zM307.1 41.6h.8v.8h-.8zM309.6 48.4h.8v.8h-.8zM348.3 102.8h.8v.8h-.8zM304.3 33.4h.8v.8h-.8zM311.1 48.9h.8v.8h-.8zM312.4 61.7h.8v.8h-.8z" fill="#84a4ee"/><path d="M287.3 63.7L287.5 62.8L287.7 61.9L287.8 61.0L288.1 60.2L288.6 59.3L288.2 58.3L288.8 57.5L288.9 56.6L289.0 55.7L289.2 54.8L289.7 54.1L290.0 53.2L290.2 52.3L290.5 51.5L290.9 50.7L291.0 49.7L291.7 49.1L292.2 48.3L293.0 47.7L292.9 46.6L293.5 45.9L294.3 45.4L294.8 44.6L295.6 44.1L296.5 43.8L297.3 43.5L298.2 43.6L299.0 43.9L300.1 43.9L300.5 44.9L301.6 45.1L301.5 46.4L302.2 47.0L303.0 47.5L303.1 48.5L303.8 49.2L304.1 50.0L304.4 50.9L304.8 51.7L305.2 52.5L305.4 53.4L305.8 54.1L306.1 55.0L306.5 55.8L307.0 56.7L306.3 57.7L306.7 58.6L307.4 59.3L307.1 60.3L307.3 61.2L308.0 62.0L307.8 62.9L307.7 63.9L307.6 64.9L308.1 65.7L308.5 66.5L309.1 67.2L309.4 68.0L310.4 68.5L310.5 69.5L311.0 70.3L311.9 70.7L312.1 71.7L312.4 72.6L312.9 73.4L313.5 74.0L314.5 74.4L314.9 75.2L315.6 75.8L315.8 76.8L316.8 77.2L317.4 77.8L318.1 78.4L318.3 79.4L318.8 80.2L319.6 80.7L320.2 81.3L320.7 82.1L321.0 83.0L322.1 83.3L322.4 84.2L323.0 84.9L323.5 85.6L324.0 86.4L324.7 87.0L325.4 87.6L325.8 88.5L326.4 89.1L327.2 89.6L327.8 90.2L328.7 90.6L329.1 91.5L329.9 92.0L330.6 92.6L331.1 93.4L332.0 93.8L332.4 94.5L333.0 95.2L333.5 96.0L334.3 96.5L334.8 97.3L335.2 98.1L336.0 98.6L337.0 98.9L337.8 99.4L338.3 100.2L338.9 100.8L339.8 101.2L340.4 101.8L341.0 102.4L341.5 103.3L341.9 104.2L342.5 104.9L343.6 105.0L344.2 105.7L345.0 106.1L345.7 106.6L346.2 107.5L346.8 108.1L347.6 108.6L348.1 109.4L349.0 109.8L349.4 110.6L350.4 110.9L350.9 111.7L351.7 112.1L352.4 112.7L353.0 113.4L354.0 113.5L354.6 114.2L355.3 114.9L356.0 115.4L356.6 116.1L357.5 116.4L358.3 116.8L358.9 117.6L359.5 118.2L360.4 118.5L360.9 119.4L361.7 119.8L362.4 120.4L363.1 120.9L364.1 121.1L364.4 122.2L365.6 122.2L366.1 122.9L366.4 123.2L365.6 122.9L364.8 122.5L363.9 122.3L363.1 121.8L362.4 121.3L361.7 120.6L360.7 120.6L360.1 119.8L359.3 119.4L358.5 119.1L357.6 118.8L356.9 118.2L355.9 118.1L355.3 117.3L354.6 116.8L353.7 116.5L353.1 115.8L352.3 115.4L351.4 115.1L350.8 114.3L349.9 114.2L349.5 113.1L348.3 113.3L347.5 112.8L346.8 112.3L346.1 111.6L345.5 110.9L344.6 110.7L343.8 110.3L343.3 109.3L342.4 109.0L341.5 108.8L340.8 108.3L339.8 108.1L339.3 107.2L338.8 106.4L337.6 106.5L336.9 106.0L336.3 105.2L335.2 105.2L335.0 103.9L333.9 104.0L333.2 103.4L332.6 102.7L332.0 101.9L331.2 101.6L330.1 101.6L329.4 101.1L328.9 100.2L327.8 100.2L327.3 99.3L326.4 98.9L325.9 98.1L325.2 97.6L323.9 97.9L323.5 96.8L322.8 96.3L321.8 96.1L321.1 95.6L320.2 95.3L319.6 94.7L318.9 94.1L318.2 93.5L317.4 93.0L316.4 93.0L315.5 92.8L314.8 92.0L313.7 92.6L312.9 92.0L312.2 91.2L311.5 90.5L310.4 91.0L309.6 90.6L308.7 90.7L307.8 90.3L306.9 90.1L306.0 90.2L305.2 89.8L304.3 89.8L303.4 89.6L302.5 89.7L301.5 89.8L300.7 89.4L299.8 89.1L298.9 89.5L298.0 88.8L297.1 89.0L296.2 89.1L295.3 88.9L294.4 88.9L293.5 89.0L292.6 88.4L291.8 88.3L290.8 88.4L290.0 88.0L289.3 87.5L288.8 86.6L288.5 85.8L287.7 85.3L287.6 84.3L287.3 83.5L287.2 82.6L287.3 81.7L286.7 80.8L286.3 79.9L286.8 79.0L286.5 78.1L287.3 77.2L286.8 76.3L286.9 75.4L287.1 74.5L287.2 73.6L287.1 72.7L287.2 71.8L287.5 70.9L287.2 70.0L287.8 69.2L287.5 68.2L286.9 67.3L287.7 66.4L287.2 65.5L287.8 64.6Z" fill="none" stroke="#5878ea" stroke-width="0.9" stroke-linejoin="round"/><path d="M289.0 64.5L289.1 63.6L289.1 62.6L289.2 61.8L289.5 60.9L289.7 60.0L289.9 59.1L290.2 58.3L290.5 57.4L290.8 56.6L291.1 55.7L291.6 55.0L291.9 54.1L292.4 53.3L292.9 52.6L293.5 51.9L294.0 51.2L294.7 50.6L295.4 50.0L296.3 49.7L297.1 49.4L298.0 49.6L298.9 49.8L299.6 50.3L300.3 50.8L301.0 51.5L301.5 52.2L302.1 52.9L302.6 53.7L303.0 54.5L303.4 55.2L303.8 56.1L304.2 56.9L304.5 57.7L304.7 58.6L304.9 59.5L305.1 60.4L305.5 61.2L305.6 62.1L305.7 63.0L305.9 63.9L306.0 64.8L306.2 65.7L306.4 66.5L306.7 67.4L307.0 68.3L307.4 69.1L307.7 69.9L308.1 70.7L308.4 71.6L308.7 72.4L309.2 73.2L309.5 74.1L309.9 74.9L310.3 75.7L310.7 76.5L311.0 77.3L311.5 78.1L311.9 78.9L312.3 79.7L312.8 80.5L313.1 81.3L313.5 82.2L314.0 82.9L314.5 83.7L314.8 84.5L315.4 85.3L315.8 86.1L316.4 86.7L316.8 87.6L317.3 88.3L317.8 89.1L318.3 89.9L318.8 90.6L319.4 91.3L320.0 91.9L320.5 92.7L321.0 93.4L320.8 93.7L320.1 93.3L319.4 92.7L318.7 92.1L317.9 91.6L317.2 91.0L316.4 90.6L315.6 90.2L314.9 89.6L314.2 89.1L313.3 88.7L312.6 88.3L311.8 87.9L310.9 87.5L310.1 87.1L309.3 86.8L308.5 86.4L307.6 86.1L306.8 85.8L305.9 85.6L305.0 85.4L304.1 85.2L303.2 85.0L302.3 84.8L301.5 84.6L300.5 84.7L299.6 84.5L298.8 84.4L297.8 84.4L297.0 84.3L296.0 84.2L295.1 84.1L294.3 84.0L293.3 84.0L292.5 83.8L291.7 83.4L290.9 82.9L290.3 82.2L289.8 81.4L289.5 80.6L289.2 79.8L289.0 78.9L288.9 78.0L288.8 77.1L288.8 76.2L288.6 75.3L288.7 74.4L288.7 73.5L288.8 72.6L288.7 71.7L288.7 70.8L288.7 69.9L288.6 69.0L288.7 68.0L288.7 67.1L288.8 66.2L288.8 65.3Z" fill="none" stroke="#ec6e64" stroke-width="0.9" stroke-linejoin="round"/><path d="M291.0 64.7L291.1 63.8L291.2 62.9L291.4 62.1L291.6 61.2L291.7 60.3L291.9 59.4L292.2 58.5L292.6 57.7L292.9 56.9L293.2 56.0L293.6 55.2L294.0 54.4L294.7 53.7L295.2 53.0L295.9 52.4L296.7 52.0L297.5 51.8L298.5 51.9L299.2 52.4L299.9 53.0L300.5 53.7L300.9 54.5L301.4 55.2L301.9 56.0L302.3 56.8L302.6 57.7L302.9 58.5L303.2 59.4L303.5 60.2L303.6 61.1L303.8 62.0L303.9 62.9L304.1 63.8L304.1 64.7L304.4 65.6L304.9 66.4L305.2 67.2L305.6 68.0L306.1 68.8L306.6 69.5L307.0 70.3L307.6 71.0L308.1 71.8L308.7 72.5L309.1 73.3L309.7 74.0L310.2 74.8L310.8 75.4L311.2 76.3L311.7 77.0L312.3 77.7L312.8 78.4L313.5 79.1L313.9 79.8L314.6 80.5L314.9 81.4L315.7 81.9L316.2 82.6L316.8 83.4L317.3 84.1L317.9 84.8L318.5 85.5L319.1 86.1L319.6 86.9L320.3 87.5L320.8 88.2L321.4 88.9L322.1 89.5L322.7 90.2L323.2 90.9L323.9 91.6L324.6 92.2L325.1 92.9L325.7 93.6L326.4 94.2L327.0 94.8L327.6 95.5L328.3 96.1L328.9 96.8L329.5 97.4L330.2 98.0L330.9 98.6L331.5 99.3L332.2 99.9L332.8 100.5L333.5 101.1L334.2 101.7L334.8 102.4L335.6 102.9L336.2 103.5L336.9 104.1L337.6 104.7L338.3 105.2L339.0 105.8L339.7 106.4L340.4 107.0L341.1 107.5L341.8 108.2L342.6 108.6L343.2 109.3L343.8 109.9L343.0 109.6L342.2 109.1L341.5 108.7L340.7 108.1L340.0 107.6L339.2 107.2L338.4 106.8L337.6 106.3L336.9 105.7L336.1 105.3L335.4 104.7L334.6 104.2L333.9 103.7L333.2 103.1L332.4 102.7L331.7 102.1L330.9 101.6L330.2 101.0L329.5 100.5L328.8 100.0L328.1 99.4L327.3 99.0L326.5 98.5L325.9 97.8L325.2 97.3L324.4 96.8L323.7 96.1L323.0 95.6L322.3 95.1L321.6 94.5L320.8 94.0L320.1 93.5L319.4 92.8L318.7 92.3L318.0 91.7L317.3 91.1L316.6 90.6L315.9 90.0L315.3 89.4L314.5 88.9L313.8 88.2L313.1 87.7L312.4 87.1L311.8 86.5L311.1 85.9L310.3 85.5L309.5 85.0L308.8 84.5L308.0 84.0L307.1 83.7L306.3 83.4L305.4 83.1L304.6 82.9L303.7 82.7L302.8 82.6L301.9 82.4L301.0 82.4L300.1 82.3L299.2 82.2L298.3 82.0L297.4 81.9L296.5 81.8L295.6 81.8L294.7 81.6L293.8 81.6L292.9 81.3L292.3 80.7L291.7 79.9L291.3 79.1L291.1 78.2L290.9 77.4L290.8 76.5L290.6 75.6L290.7 74.7L290.6 73.8L290.7 72.9L290.7 72.0L290.7 71.1L290.6 70.1L290.7 69.2L290.7 68.3L290.8 67.4L290.8 66.5L290.8 65.6Z" fill="none" stroke="#3048de" stroke-width="0.9" stroke-linejoin="round"/><path d="M292.4 65.1L292.5 64.7L292.5 64.3L292.6 63.9L292.6 63.5L292.7 63.1L292.8 62.7L292.9 62.2L293.0 61.8L293.1 61.3L293.2 60.9L293.3 60.5L293.4 60.1L293.6 59.6L293.7 59.2L293.9 58.8L294.0 58.5L294.2 58.1L294.3 57.7L294.5 57.4L294.7 57.0L294.9 56.7L295.0 56.4L295.2 56.1L295.4 55.8L295.6 55.6L295.8 55.3L295.9 55.1L296.1 54.9L296.3 54.8L296.5 54.6L296.6 54.5L296.8 54.4L297.0 54.3L297.1 54.2L297.3 54.2L297.5 54.1L297.6 54.1L297.8 54.2L298.0 54.2L298.1 54.3L298.3 54.4L298.5 54.5L298.6 54.6L298.8 54.8L299.0 54.9L299.2 55.1L299.3 55.3L299.5 55.6L299.7 55.8L299.9 56.1L300.1 56.4L300.2 56.7L300.4 57.0L300.6 57.4L300.8 57.7L300.9 58.1L301.1 58.5L301.2 58.8L301.4 59.2L301.5 59.6L301.7 60.1L301.8 60.5L301.9 60.9L302.0 61.3L302.1 61.8L302.2 62.2L302.3 62.7L302.4 63.1L302.5 63.5L302.5 63.9L302.6 64.3L302.6 64.7L302.7 65.1L302.7 65.6L302.9 66.1L303.0 66.7L303.3 67.3L303.5 68.0L303.8 68.8L304.1 69.6L304.5 70.5L304.9 71.4L305.3 72.2L305.7 73.1L306.1 73.9L306.5 74.7L306.8 75.5L307.2 76.3L307.6 77.1L308.0 77.8L308.4 78.6L308.8 79.3L309.1 80.0L309.5 80.7L309.9 81.4L310.3 82.0L310.7 82.7L311.1 83.3L311.4 83.9L311.8 84.5L312.2 85.1L312.6 85.6L313.0 86.2L313.4 86.7L313.8 87.2L314.0 87.6L314.2 87.8L314.3 88.0L314.3 88.1L314.2 88.1L313.9 87.9L313.6 87.7L313.2 87.3L312.8 87.0L312.4 86.6L311.9 86.2L311.5 85.8L311.1 85.5L310.7 85.1L310.3 84.6L309.9 84.2L309.4 83.8L309.0 83.4L308.6 83.1L308.2 82.7L307.8 82.4L307.3 82.1L306.9 81.8L306.5 81.5L306.1 81.3L305.7 81.1L305.2 80.8L304.8 80.6L304.4 80.4L304.0 80.3L303.6 80.1L303.1 80.0L302.7 79.8L302.3 79.7L301.9 79.6L301.4 79.5L301.0 79.4L300.6 79.3L300.2 79.3L299.8 79.2L299.3 79.2L298.8 79.1L298.3 79.0L297.7 79.0L297.1 78.9L296.4 78.8L295.7 78.8L294.9 78.7L294.3 78.4L293.7 78.0L293.2 77.4L292.9 76.6L292.6 75.6L292.4 74.5L292.3 73.2L292.3 71.7L292.3 70.4L292.3 69.3L292.3 68.4L292.3 67.6L292.3 67.1L292.3 66.7L292.3 66.5L292.3 66.5L292.3 66.5L292.3 66.4L292.3 66.2L292.3 66.0L292.4 65.8L292.4 65.5Z" fill="none" stroke="#ec6e64" stroke-width="0.9" stroke-linejoin="round"/><path d="M294.2 65.5L294.2 65.2L294.2 64.8L294.3 64.5L294.3 64.2L294.4 63.9L294.4 63.6L294.5 63.2L294.6 62.9L294.6 62.6L294.7 62.2L294.8 61.9L294.9 61.6L295.0 61.3L295.1 61.0L295.2 60.7L295.3 60.4L295.4 60.1L295.5 59.8L295.6 59.5L295.7 59.3L295.9 59.0L296.0 58.8L296.1 58.6L296.2 58.4L296.3 58.2L296.5 58.0L296.6 57.8L296.7 57.7L296.8 57.6L297.0 57.4L297.1 57.3L297.2 57.3L297.3 57.2L297.4 57.1L297.5 57.1L297.6 57.1L297.8 57.1L297.9 57.1L298.0 57.1L298.1 57.2L298.2 57.3L298.3 57.3L298.4 57.4L298.6 57.6L298.7 57.7L298.8 57.8L298.9 58.0L299.1 58.2L299.2 58.4L299.3 58.6L299.4 58.8L299.5 59.0L299.7 59.3L299.8 59.5L299.9 59.8L300.0 60.1L300.1 60.4L300.2 60.7L300.3 61.0L300.4 61.3L300.5 61.6L300.6 61.9L300.7 62.2L300.8 62.6L300.8 62.9L300.9 63.2L301.0 63.6L301.0 63.9L301.1 64.2L301.1 64.5L301.2 64.8L301.2 65.2L301.2 65.5L301.3 65.9L301.5 66.4L301.8 67.0L302.1 67.7L302.5 68.6L303.0 69.5L303.6 70.6L304.3 71.8L304.9 72.9L305.6 74.0L306.2 75.1L306.9 76.1L307.5 77.2L308.2 78.2L308.8 79.1L309.5 80.1L310.2 81.0L310.8 81.9L311.5 82.8L312.1 83.6L312.8 84.5L313.4 85.3L314.1 86.1L314.8 86.9L315.4 87.7L316.1 88.5L316.7 89.2L317.4 89.9L318.0 90.6L318.7 91.3L319.3 92.0L320.0 92.7L320.5 93.2L320.8 93.5L321.0 93.8L321.1 93.9L320.9 93.8L320.6 93.7L320.2 93.3L319.6 92.9L319.0 92.4L318.4 91.9L317.8 91.5L317.2 91.0L316.6 90.5L316.0 90.0L315.4 89.4L314.8 88.9L314.2 88.4L313.6 87.8L313.0 87.2L312.4 86.7L311.8 86.1L311.2 85.5L310.6 84.9L310.0 84.3L309.4 83.7L308.8 83.1L308.2 82.4L307.6 81.8L307.0 81.1L306.4 80.4L305.8 79.7L305.2 79.0L304.6 78.4L304.0 77.8L303.4 77.2L302.8 76.7L302.2 76.3L301.6 75.9L301.0 75.5L300.4 75.2L299.8 75.0L299.2 74.8L298.7 74.6L298.1 74.4L297.5 74.3L297.0 74.2L296.5 74.1L295.9 74.0L295.5 73.9L295.1 73.6L294.8 73.2L294.5 72.8L294.3 72.2L294.2 71.5L294.1 70.6L294.1 69.7L294.1 68.9L294.1 68.2L294.1 67.7L294.1 67.2L294.1 66.8L294.1 66.6L294.1 66.5L294.1 66.5L294.1 66.5L294.1 66.4L294.1 66.3L294.1 66.1L294.1 65.9L294.2 65.7Z" fill="none" stroke="#3048de" stroke-width="0.9" stroke-linejoin="round"/><path d="M296.0 65.7L296.0 65.5L296.0 65.3L296.0 65.0L296.0 64.8L296.1 64.6L296.1 64.3L296.1 64.1L296.2 63.8L296.2 63.6L296.3 63.3L296.3 63.1L296.4 62.8L296.4 62.6L296.5 62.4L296.5 62.1L296.6 61.9L296.7 61.7L296.7 61.5L296.8 61.3L296.9 61.1L296.9 60.9L297.0 60.7L297.1 60.6L297.1 60.4L297.2 60.3L297.3 60.1L297.4 60.0L297.4 59.9L297.5 59.8L297.6 59.7L297.6 59.6L297.7 59.6L297.8 59.5L297.8 59.5L297.9 59.5L298.0 59.4L298.0 59.4L298.1 59.5L298.2 59.5L298.2 59.5L298.3 59.6L298.4 59.6L298.4 59.7L298.5 59.8L298.6 59.9L298.6 60.0L298.7 60.1L298.8 60.3L298.9 60.4L298.9 60.6L299.0 60.7L299.1 60.9L299.1 61.1L299.2 61.3L299.3 61.5L299.3 61.7L299.4 61.9L299.5 62.1L299.5 62.4L299.6 62.6L299.6 62.8L299.7 63.1L299.7 63.3L299.8 63.6L299.8 63.8L299.9 64.1L299.9 64.3L299.9 64.6L300.0 64.8L300.0 65.0L300.0 65.3L300.0 65.5L300.0 65.7L300.1 66.0L300.1 66.3L300.2 66.6L300.3 67.0L300.4 67.4L300.5 67.8L300.7 68.3L300.9 68.8L301.0 69.3L301.2 69.8L301.4 70.2L301.5 70.7L301.7 71.2L301.9 71.6L302.0 72.1L302.2 72.5L302.4 72.9L302.5 73.4L302.7 73.8L302.9 74.2L303.1 74.6L303.2 74.9L303.4 75.3L303.6 75.7L303.7 76.0L303.9 76.4L304.1 76.7L304.2 77.0L304.4 77.4L304.6 77.7L304.7 78.0L304.9 78.2L305.0 78.5L305.1 78.6L305.2 78.7L305.1 78.8L305.1 78.8L305.0 78.7L304.9 78.6L304.7 78.4L304.5 78.2L304.3 78.0L304.2 77.8L304.0 77.6L303.8 77.4L303.6 77.2L303.4 76.9L303.2 76.7L303.1 76.5L302.9 76.2L302.7 76.0L302.5 75.7L302.4 75.4L302.2 75.2L302.0 74.9L301.8 74.7L301.6 74.4L301.4 74.1L301.3 73.8L301.1 73.5L300.9 73.2L300.7 72.9L300.6 72.6L300.4 72.3L300.2 72.0L300.0 71.7L299.8 71.5L299.7 71.2L299.5 71.0L299.3 70.8L299.1 70.7L298.9 70.6L298.7 70.4L298.6 70.3L298.4 70.2L298.2 70.1L297.9 70.0L297.7 69.9L297.5 69.8L297.3 69.8L297.1 69.7L296.9 69.5L296.7 69.3L296.6 69.1L296.4 68.9L296.3 68.6L296.2 68.2L296.2 67.8L296.1 67.5L296.0 67.2L296.0 67.0L296.0 66.8L295.9 66.6L295.9 66.5L295.9 66.5L295.9 66.5L295.9 66.5L295.9 66.4L295.9 66.3L295.9 66.2L295.9 66.1L295.9 65.9Z" fill="#2020a8" stroke="#1c1e98" stroke-width="0.9" stroke-linejoin="round"/></g>
<line x1="298.30" y1="19.30" x2="298.30" y2="113.40" stroke="#000" stroke-width="0.9" stroke-dasharray="1.3 1.3"/>
<path d="M250.30 111.63 L250.90 111.25 L251.50 110.88 L252.10 110.49 L252.70 110.11 L253.30 109.73 L253.90 109.34 L254.50 108.96 L255.10 108.57 L255.70 108.18 L256.30 107.79 L256.90 107.39 L257.50 107.00 L258.10 106.60 L258.70 106.20 L259.30 105.80 L259.90 105.39 L260.50 104.99 L261.10 104.58 L261.70 104.17 L262.30 103.75 L262.90 103.34 L263.50 102.92 L264.10 102.50 L264.70 102.08 L265.30 101.65 L265.90 101.23 L266.50 100.80 L267.10 100.36 L267.70 99.93 L268.30 99.49 L268.90 99.05 L269.50 98.60 L270.10 98.16 L270.70 97.71 L271.30 97.25 L271.90 96.80 L272.50 96.33 L273.10 95.87 L273.70 95.40 L274.30 94.93 L274.90 94.45 L275.50 93.97 L276.10 93.49 L276.70 93.00 L277.30 92.51 L277.90 92.01 L278.50 91.51 L279.10 91.00 L279.70 90.49 L280.30 89.97 L280.90 89.44 L281.50 88.91 L282.10 88.38 L282.70 87.83 L283.30 87.28 L283.90 86.72 L284.50 86.16 L285.10 85.58 L285.70 85.00 L286.30 84.41 L286.90 83.81 L287.50 83.20 L288.10 82.57 L288.70 81.93 L289.30 81.28 L289.90 80.62 L290.50 79.94 L291.10 79.24 L291.70 78.52 L292.30 77.78 L292.90 77.02 L293.50 76.22 L294.10 75.39 L294.70 74.53 L295.30 73.61 L295.90 72.63 L296.50 71.56 L297.10 70.36 L297.70 68.93 L298.30 66.50 L298.90 68.93 L299.50 70.36 L300.10 71.56 L300.70 72.63 L301.30 73.61 L301.90 74.53 L302.50 75.39 L303.10 76.22 L303.70 77.02 L304.30 77.78 L304.90 78.52 L305.50 79.24 L306.10 79.94 L306.70 80.62 L307.30 81.28 L307.90 81.93 L308.50 82.57 L309.10 83.20 L309.70 83.81 L310.30 84.41 L310.90 85.00 L311.50 85.58 L312.10 86.16 L312.70 86.72 L313.30 87.28 L313.90 87.83 L314.50 88.38 L315.10 88.91 L315.70 89.44 L316.30 89.97 L316.90 90.49 L317.50 91.00 L318.10 91.51 L318.70 92.01 L319.30 92.51 L319.90 93.00 L320.50 93.49 L321.10 93.97 L321.70 94.45 L322.30 94.93 L322.90 95.40 L323.50 95.87 L324.10 96.33 L324.70 96.80 L325.30 97.25 L325.90 97.71 L326.50 98.16 L327.10 98.60 L327.70 99.05 L328.30 99.49 L328.90 99.93 L329.50 100.36 L330.10 100.80 L330.70 101.23 L331.30 101.65 L331.90 102.08 L332.50 102.50 L333.10 102.92 L333.70 103.34 L334.30 103.75 L334.90 104.17 L335.50 104.58 L336.10 104.99 L336.70 105.39 L337.30 105.80 L337.90 106.20 L338.50 106.60 L339.10 107.00 L339.70 107.39 L340.30 107.79 L340.90 108.18 L341.50 108.57 L342.10 108.96 L342.70 109.34 L343.30 109.73 L343.90 110.11 L344.50 110.49 L345.10 110.88 L345.70 111.25 L346.30 111.63" fill="none" stroke="#000" stroke-width="0.9" stroke-dasharray="1.3 1.3"/>
<rect x="250.30" y="19.30" width="96.0" height="94.1" fill="none" stroke="#999" stroke-width="0.8"/>
<path d="M268.30 113.40v-1.4M268.30 19.30v1.4M250.30 96.35h1.4M346.30 96.35h-1.4M298.30 113.40v-1.4M298.30 19.30v1.4M250.30 66.50h1.4M346.30 66.50h-1.4M328.30 113.40v-1.4M328.30 19.30v1.4M250.30 36.65h1.4M346.30 36.65h-1.4" stroke="#888" stroke-width="0.6"/>
<text x="252.90" y="27.90" class="pl">(b-i)</text>
<line x1="351.40" y1="66.50" x2="447.40" y2="66.50" stroke="#b0b0b0" stroke-width="0.6"/>
<g clip-path="url(#clip_ci)"><path d="M358.9 40.3L360.1 39.6L360.4 38.7L360.4 37.8L360.4 36.9L361.7 36.4L361.4 35.4L361.6 34.4L362.4 33.9L362.6 32.9L363.4 32.5L363.9 31.7L364.6 31.2L365.2 30.5L365.8 29.7L366.8 29.6L367.7 29.4L368.0 28.1L368.9 27.9L369.6 27.3L370.8 27.9L371.5 27.0L372.5 27.3L373.1 26.2L374.2 26.8L374.9 25.9L375.8 25.8L376.8 26.1L377.6 25.5L378.5 25.3L379.5 25.9L380.3 25.3L381.3 25.9L382.2 26.4L383.0 24.8L383.9 24.9L384.8 24.3L385.7 24.4L386.6 25.2L387.5 25.1L388.4 25.0L389.3 25.1L390.2 24.5L391.1 24.0L392.0 25.4L392.9 25.0L393.8 25.5L394.7 24.9L395.6 25.4L396.5 24.8L397.4 25.1L398.3 25.1L399.2 25.4L400.0 26.0L401.0 25.7L402.1 24.1L402.8 25.6L403.7 25.8L404.5 26.3L405.4 26.2L406.4 26.0L407.3 26.1L408.1 26.6L409.0 26.7L409.5 28.0L410.5 27.9L411.4 28.0L412.1 28.8L412.6 29.7L413.9 29.1L414.6 29.7L415.4 30.1L416.5 30.3L417.0 31.2L417.7 31.7L417.8 32.8L418.4 33.5L418.7 34.4L419.8 34.8L419.4 35.9L420.7 36.4L420.6 37.4L420.1 38.5L420.3 39.3L420.5 40.2L420.1 41.1L420.7 41.9L421.5 42.8L421.5 43.7L421.9 44.5L421.4 45.5L421.9 46.3L421.9 47.3L422.1 48.2L422.4 49.1L420.4 50.0L421.2 50.9L422.6 51.8L421.4 52.7L421.9 53.6L422.7 54.5L421.7 55.4L421.5 56.3L421.3 57.2L421.1 58.1L422.0 59.0L421.6 59.9L421.3 60.8L421.4 61.7L421.6 62.6L422.0 63.4L421.8 64.5L423.2 64.9L423.7 65.6L422.7 67.1L423.7 67.6L423.9 68.6L424.7 69.1L425.4 69.7L426.0 70.4L426.2 71.3L427.0 71.9L427.4 72.7L427.9 73.5L428.1 74.4L428.7 75.2L428.9 76.1L430.4 76.1L430.7 77.0L430.9 78.0L431.7 78.5L433.3 78.3L432.9 79.9L433.6 80.4L434.4 81.0L434.9 81.6L435.7 82.2L435.5 83.5L436.3 84.0L437.1 84.5L437.4 85.5L438.0 86.1L439.3 86.2L440.0 86.8L440.6 87.5L440.5 88.7L441.4 89.1L441.6 90.2L442.4 90.6L443.3 91.1L444.3 91.4L444.6 92.3L444.3 93.8L446.0 93.5L446.6 94.1L447.1 95.0L447.1 96.2L448.2 96.3L449.2 96.6L449.7 97.4L450.2 98.2L450.7 98.9L451.0 99.9L451.2 101.0L452.2 101.3L453.1 101.6L454.0 102.0L454.9 102.4L455.1 103.5L455.5 104.4L456.3 104.8L457.3 105.1L457.6 106.0L458.6 106.3L459.2 107.0L459.9 107.6L460.5 108.3L461.2 108.8L461.5 109.8L462.5 110.1L463.2 110.7L463.5 111.7L464.3 112.1L464.8 112.9L466.1 112.8L466.1 114.2L467.2 114.3L468.2 114.5L468.6 115.4L469.6 115.6L470.2 116.3L470.7 117.1L470.9 118.2L472.4 117.9L472.5 119.1L473.4 119.5L473.5 120.7L474.6 120.8L475.2 121.5L475.7 122.4L477.1 122.0L477.6 122.9L478.6 123.0L479.1 123.8L479.5 124.8L480.4 125.2L480.9 126.0L481.8 126.2L482.6 126.6L483.2 127.4L484.1 127.6L484.9 128.1L485.8 128.4L486.1 129.5L486.6 130.3L487.8 130.2L488.4 131.0L489.6 130.8L490.0 131.8L490.4 132.8L491.5 132.7L491.8 133.9L492.8 134.1L493.3 134.9L494.3 135.1L495.3 135.2L495.6 136.3L496.2 137.1L497.3 137.1L497.8 137.9L498.8 138.0L499.5 138.7L499.7 139.8L500.8 139.9L501.8 140.2L501.8 141.2L501.4 141.6L500.5 141.7L499.8 140.9L498.4 142.4L498.0 140.5L497.4 139.6L496.3 140.0L495.1 140.7L494.8 139.0L494.1 138.1L492.9 138.7L491.8 139.2L491.0 138.7L490.3 138.2L489.4 137.8L488.7 137.1L487.8 137.1L486.5 138.1L485.9 136.9L485.1 136.6L484.5 135.4L483.3 136.3L482.3 136.4L481.6 135.6L480.8 135.1L479.7 135.9L479.2 134.2L478.2 134.6L477.5 133.9L476.6 133.7L475.7 133.5L474.9 132.9L474.1 132.5L473.0 133.3L472.1 132.9L471.4 132.1L470.4 132.3L469.4 132.5L468.7 131.9L467.7 132.2L466.8 131.8L465.6 133.0L465.2 131.1L464.5 130.1L463.5 130.4L462.6 130.2L461.6 130.2L460.7 130.5L459.9 129.7L459.0 129.7L458.1 129.6L457.3 129.3L456.3 129.5L455.5 129.0L454.6 128.5L453.8 128.2L452.8 128.4L452.0 128.0L451.1 128.1L450.0 129.1L449.1 128.8L448.4 127.8L447.4 128.1L446.7 127.1L445.6 127.9L444.8 127.3L443.9 127.2L443.0 127.2L442.1 127.0L441.3 126.6L440.4 126.4L439.5 126.5L438.6 126.1L437.7 125.8L436.8 126.0L435.9 126.1L435.0 126.0L434.1 125.8L433.2 125.7L432.4 125.3L431.6 124.0L430.6 124.6L429.7 125.0L428.8 124.7L427.9 124.6L427.0 124.2L426.2 124.0L425.2 125.1L424.4 123.4L423.4 124.9L422.5 124.3L421.6 124.7L420.6 125.0L419.7 125.0L419.0 123.1L418.1 123.3L417.1 124.4L416.2 124.5L415.4 123.1L414.4 124.3L413.5 123.5L412.7 122.7L411.7 123.3L410.9 122.9L409.9 123.5L409.0 124.4L408.1 123.8L407.1 124.1L406.4 123.0L405.3 123.5L404.7 122.5L403.7 122.5L402.8 122.2L402.3 121.3L401.3 121.3L400.4 120.9L400.2 119.7L399.2 119.5L398.0 119.4L398.3 117.9L396.7 118.1L396.7 116.9L396.3 116.1L395.4 115.7L394.6 115.1L394.3 114.2L393.8 113.5L393.0 112.9L393.4 111.6L392.4 111.2L391.9 110.4L392.4 109.1L391.0 108.8L390.2 108.2L390.4 107.1L390.0 106.3L389.6 105.5L390.1 104.2L388.5 104.1L388.9 102.8L388.3 102.1L388.1 101.2L387.0 100.8L386.5 100.0L386.1 99.2L385.9 98.3L385.7 97.4L385.6 96.4L383.7 96.4L384.5 95.0L383.8 94.3L383.2 93.6L382.3 93.1L382.5 92.0L381.1 91.7L382.0 90.2L380.7 89.9L380.6 88.9L380.2 88.1L380.1 87.1L378.8 86.8L379.3 85.5L378.7 84.8L378.8 83.7L377.8 83.2L377.2 82.5L376.0 82.1L376.3 81.0L376.7 79.7L375.4 79.4L375.0 78.6L374.7 77.7L374.7 76.7L373.2 76.5L374.3 74.9L373.4 74.4L373.0 73.6L372.3 72.9L372.7 71.7L371.3 71.4L371.4 70.3L370.7 69.7L369.7 69.2L369.8 68.1L369.8 67.1L368.9 66.5L368.5 65.8L368.3 64.9L367.5 64.2L367.0 63.5L367.1 62.4L366.3 61.8L366.7 60.7L366.4 59.8L366.3 58.9L365.8 58.1L364.9 57.5L364.8 56.5L363.8 56.0L364.1 54.9L363.4 54.2L363.9 53.0L362.6 52.6L362.6 51.6L361.8 51.0L362.1 49.9L361.8 49.0L360.7 48.5L361.7 47.2L360.8 46.6L359.6 45.9L359.6 45.0L359.0 44.2L358.8 43.2L359.6 42.2L358.7 41.3Z" fill="none" stroke="#f09088" stroke-width="0.9" stroke-linejoin="round"/><path d="M383.1 93.5h.8v.8h-.8zM369.6 65.7h.8v.8h-.8zM389.8 26.9h.8v.8h-.8zM366.9 27.7h.8v.8h-.8zM402.2 25.4h.8v.8h-.8zM385.2 98.6h.8v.8h-.8zM393.3 110.0h.8v.8h-.8zM407.1 25.2h.8v.8h-.8zM360.9 45.7h.8v.8h-.8zM424.5 69.6h.8v.8h-.8zM421.9 64.4h.8v.8h-.8zM425.3 74.4h.8v.8h-.8zM356.8 40.9h.8v.8h-.8zM400.6 26.6h.8v.8h-.8zM433.9 80.3h.8v.8h-.8zM428.6 74.9h.8v.8h-.8zM363.5 37.1h.8v.8h-.8zM392.6 109.0h.8v.8h-.8zM421.9 51.6h.8v.8h-.8zM363.2 54.0h.8v.8h-.8zM358.8 43.6h.8v.8h-.8zM426.3 67.9h.8v.8h-.8zM393.3 23.4h.8v.8h-.8zM423.6 70.8h.8v.8h-.8zM356.7 37.2h.8v.8h-.8zM447.1 95.8h.8v.8h-.8zM421.8 45.6h.8v.8h-.8zM423.1 48.1h.8v.8h-.8zM433.0 84.0h.8v.8h-.8zM365.1 60.0h.8v.8h-.8zM376.9 85.0h.8v.8h-.8zM386.3 27.6h.8v.8h-.8zM356.2 41.8h.8v.8h-.8zM375.5 78.7h.8v.8h-.8zM358.9 45.0h.8v.8h-.8zM378.2 25.2h.8v.8h-.8zM379.6 23.5h.8v.8h-.8zM367.5 66.8h.8v.8h-.8zM365.6 52.1h.8v.8h-.8zM418.2 37.8h.8v.8h-.8zM418.8 32.7h.8v.8h-.8zM365.8 57.0h.8v.8h-.8zM418.5 41.9h.8v.8h-.8zM436.3 86.5h.8v.8h-.8zM442.1 92.5h.8v.8h-.8zM388.0 99.9h.8v.8h-.8zM373.2 67.3h.8v.8h-.8zM437.2 86.5h.8v.8h-.8zM429.3 73.7h.8v.8h-.8zM372.3 28.2h.8v.8h-.8zM387.9 99.6h.8v.8h-.8zM421.5 36.4h.8v.8h-.8zM373.6 77.8h.8v.8h-.8zM388.0 105.2h.8v.8h-.8zM400.0 28.3h.8v.8h-.8zM377.4 81.1h.8v.8h-.8zM390.5 25.1h.8v.8h-.8zM374.8 72.3h.8v.8h-.8zM387.4 20.8h.8v.8h-.8zM369.2 53.8h.8v.8h-.8zM362.0 31.4h.8v.8h-.8zM423.0 49.2h.8v.8h-.8zM385.3 23.1h.8v.8h-.8zM403.3 22.6h.8v.8h-.8zM420.9 39.6h.8v.8h-.8zM392.0 106.9h.8v.8h-.8zM390.8 25.9h.8v.8h-.8zM401.8 23.0h.8v.8h-.8zM391.9 111.9h.8v.8h-.8zM439.8 92.8h.8v.8h-.8zM441.8 89.7h.8v.8h-.8zM394.5 25.1h.8v.8h-.8zM374.9 79.6h.8v.8h-.8zM358.4 47.0h.8v.8h-.8zM435.0 85.8h.8v.8h-.8zM360.6 38.9h.8v.8h-.8zM391.3 26.8h.8v.8h-.8zM380.0 23.9h.8v.8h-.8zM425.2 64.1h.8v.8h-.8zM393.0 23.8h.8v.8h-.8zM361.9 47.4h.8v.8h-.8zM367.9 67.8h.8v.8h-.8zM391.6 103.2h.8v.8h-.8zM361.2 44.1h.8v.8h-.8zM369.0 67.8h.8v.8h-.8zM364.2 56.4h.8v.8h-.8z" fill="#f09088"/><path d="M362.3 41.9L361.9 40.9L362.5 40.1L363.4 39.4L363.1 38.4L363.5 37.6L364.4 37.1L364.1 36.0L364.8 35.4L365.1 34.5L365.4 33.5L366.9 33.8L366.6 32.0L367.8 32.1L368.2 31.0L369.1 30.7L369.8 30.1L370.8 30.2L371.8 30.1L372.8 30.2L373.1 28.4L374.3 29.1L375.1 28.6L375.9 28.3L376.9 28.3L377.8 28.3L378.7 28.0L379.6 27.9L380.6 28.9L381.3 27.8L382.2 27.8L383.1 27.0L384.1 28.0L384.9 27.2L385.8 27.3L386.7 27.0L387.6 27.3L388.5 26.8L389.4 26.6L390.3 26.6L391.2 27.1L392.1 27.3L393.0 27.7L393.9 28.1L394.8 28.3L395.7 27.1L396.6 27.1L397.5 27.9L398.5 27.1L399.3 28.2L400.2 28.3L401.2 27.4L401.9 28.3L402.8 28.8L403.7 28.5L404.7 28.3L405.5 28.5L406.3 29.1L407.4 28.7L408.1 29.5L409.0 29.6L409.9 29.7L410.8 29.9L411.3 31.0L412.5 30.8L412.9 31.7L414.3 31.4L414.5 32.6L415.1 33.3L415.7 34.0L416.0 34.9L416.7 35.4L417.2 36.2L418.0 36.8L418.7 37.4L419.1 38.3L419.2 39.2L418.9 40.2L418.7 41.2L419.1 42.0L419.3 42.9L419.1 43.8L419.7 44.7L419.6 45.6L419.7 46.5L419.6 47.4L419.9 48.3L420.4 49.2L420.0 50.1L420.2 51.0L418.9 51.9L419.1 52.8L420.1 53.7L420.2 54.6L419.8 55.5L420.5 56.4L419.2 57.3L419.8 58.2L420.0 59.1L419.3 60.0L419.1 60.9L419.7 61.8L419.5 62.8L421.0 63.3L420.8 64.2L421.2 65.0L421.9 65.7L421.2 67.0L421.0 68.2L423.0 68.1L423.2 69.0L423.0 70.2L424.1 70.6L424.4 71.4L425.3 71.9L425.4 73.0L426.4 73.3L426.3 74.5L426.9 75.2L427.6 75.8L428.6 76.2L428.9 77.0L429.2 77.9L430.3 78.2L431.0 78.8L432.0 79.1L432.0 80.4L432.4 81.2L432.6 82.2L434.0 82.2L434.7 82.8L434.3 84.3L434.9 84.9L436.3 84.9L436.7 85.8L437.8 86.0L437.8 87.2L437.9 88.4L438.7 88.9L439.9 88.9L440.1 90.0L441.0 90.3L441.3 91.3L442.2 91.7L442.4 92.8L442.8 93.6L443.8 94.0L444.4 94.6L445.0 95.3L445.4 96.1L446.5 96.3L447.1 97.0L447.7 97.7L447.8 98.8L448.8 99.1L449.3 99.8L450.3 100.1L451.3 100.4L451.6 101.4L451.9 102.3L452.9 102.7L453.6 103.2L454.2 103.9L454.5 104.8L455.2 105.4L456.0 105.9L457.0 106.2L457.5 106.9L456.8 109.0L458.7 108.3L459.1 109.2L459.9 109.7L461.1 109.7L460.8 111.3L461.9 111.4L462.9 111.7L463.0 112.9L464.1 113.0L464.5 113.9L465.7 113.9L466.1 114.9L466.5 115.8L467.5 116.0L468.5 116.2L469.0 117.0L469.2 118.2L470.6 117.9L471.2 118.5L471.2 119.9L472.1 120.3L472.9 120.8L473.7 121.2L474.1 122.1L474.7 122.8L475.5 123.2L476.9 122.9L476.9 124.4L478.3 124.1L478.0 125.9L479.4 125.6L479.8 126.6L480.6 127.0L481.6 127.2L481.7 128.4L482.8 128.6L482.9 129.9L484.1 129.8L484.9 130.2L485.0 131.6L486.1 131.7L487.2 131.7L488.2 131.8L488.2 133.5L489.1 133.7L489.8 134.2L491.0 134.1L491.8 134.4L492.7 134.8L492.8 136.2L493.9 136.2L494.4 137.0L496.0 136.5L495.5 138.2L496.5 138.9L495.2 140.0L494.3 139.0L493.7 138.0L493.0 137.2L491.5 138.9L490.8 137.9L490.3 136.9L489.1 137.4L488.5 136.6L487.5 136.6L486.8 135.7L485.7 136.2L485.1 135.4L484.1 135.3L483.4 134.6L482.6 134.4L481.9 133.6L480.9 133.7L480.3 132.6L478.9 134.0L478.3 133.1L477.6 132.3L476.6 132.3L475.3 133.4L474.9 131.7L473.9 131.8L473.5 130.2L472.3 131.1L471.5 130.5L470.4 131.1L469.8 130.0L468.4 131.4L467.8 130.4L467.0 129.8L466.0 130.2L465.5 128.7L464.5 128.9L463.8 127.9L462.5 129.2L461.7 128.7L461.1 127.7L460.0 128.1L459.3 127.2L458.4 127.1L457.4 127.6L456.6 126.9L455.8 126.5L454.9 126.5L453.9 126.5L453.0 126.5L452.2 126.1L451.4 125.4L450.7 124.6L449.4 126.2L448.6 125.8L447.8 125.2L447.0 124.2L445.9 125.2L445.4 123.5L444.5 123.3L443.2 125.5L442.5 123.8L441.6 123.7L440.7 124.1L439.7 124.6L439.0 123.4L438.0 123.6L437.2 122.7L436.3 122.9L435.3 123.5L434.6 121.9L433.7 121.8L432.8 121.9L431.8 122.5L431.0 121.9L430.0 122.2L429.1 122.5L428.1 123.0L427.4 121.8L426.3 122.9L425.6 121.4L424.6 122.4L423.8 121.5L422.9 121.7L421.9 122.0L421.0 121.9L420.2 121.6L419.3 120.4L418.4 120.9L417.5 121.2L416.6 120.6L415.6 121.5L414.7 121.7L413.9 121.3L413.0 120.3L412.1 120.9L411.2 120.6L410.3 120.6L409.4 120.8L408.6 120.0L407.7 120.1L406.6 120.7L405.7 120.6L405.0 119.9L404.0 120.0L403.3 119.3L402.7 118.5L401.7 118.4L401.0 117.9L400.0 117.7L399.2 117.3L398.4 116.7L398.6 115.3L397.2 115.4L396.9 114.4L396.3 113.7L395.9 112.9L395.0 112.4L394.0 112.1L395.1 110.3L393.2 110.3L393.6 109.1L392.4 108.8L392.7 107.5L391.5 107.2L392.3 105.7L391.3 105.2L390.0 104.9L391.0 103.3L389.0 103.4L389.2 102.3L389.4 101.1L388.3 100.7L388.7 99.5L387.7 99.0L387.0 98.4L387.4 97.1L386.4 96.6L385.7 96.0L386.0 94.8L385.0 94.3L384.1 93.8L383.9 92.8L385.0 91.3L384.5 90.5L382.3 90.7L382.9 89.3L382.7 88.4L381.6 88.0L381.6 86.9L380.4 86.5L380.3 85.6L380.6 84.5L379.6 83.9L379.2 83.1L378.7 82.4L377.8 81.8L377.5 81.0L377.3 80.0L377.1 79.1L376.4 78.5L377.2 77.1L375.1 77.1L375.0 76.2L374.8 75.3L374.9 74.2L373.6 73.8L374.0 72.6L373.1 72.1L372.7 71.3L372.9 70.2L372.6 69.3L372.3 68.4L370.9 68.1L371.6 66.8L371.2 66.0L370.4 65.4L370.1 64.5L369.5 63.8L369.1 63.0L369.2 62.0L369.2 61.0L368.0 60.6L367.9 59.6L367.8 58.7L366.4 58.3L367.5 56.9L366.5 56.3L366.7 55.2L365.5 54.8L364.9 54.0L364.9 53.1L364.8 52.1L363.8 51.6L364.4 50.4L363.7 49.7L362.8 49.1L363.2 47.9L362.6 47.2L362.5 46.3L362.1 45.4L361.8 44.6L361.5 43.7L362.1 42.7Z" fill="none" stroke="#84a4ee" stroke-width="1.0" stroke-linejoin="round"/><path d="M373.3 72.8h.8v.8h-.8zM361.1 42.5h.8v.8h-.8zM447.6 99.0h.8v.8h-.8zM417.7 36.9h.8v.8h-.8zM364.3 41.8h.8v.8h-.8zM378.1 81.7h.8v.8h-.8zM431.3 86.9h.8v.8h-.8zM432.9 86.2h.8v.8h-.8zM415.9 30.5h.8v.8h-.8zM418.6 50.6h.8v.8h-.8zM393.5 102.8h.8v.8h-.8zM371.3 33.2h.8v.8h-.8zM363.4 54.7h.8v.8h-.8zM379.7 27.7h.8v.8h-.8zM391.2 106.1h.8v.8h-.8zM433.7 83.8h.8v.8h-.8zM361.3 49.4h.8v.8h-.8zM372.4 31.5h.8v.8h-.8zM422.3 66.8h.8v.8h-.8zM379.8 78.5h.8v.8h-.8zM366.5 32.8h.8v.8h-.8zM384.0 92.2h.8v.8h-.8zM361.3 40.3h.8v.8h-.8zM424.0 73.7h.8v.8h-.8zM394.1 30.2h.8v.8h-.8zM429.9 82.3h.8v.8h-.8zM387.5 100.0h.8v.8h-.8zM417.7 30.3h.8v.8h-.8zM365.2 42.7h.8v.8h-.8zM372.0 68.8h.8v.8h-.8zM382.9 24.9h.8v.8h-.8zM397.3 111.8h.8v.8h-.8zM427.8 74.8h.8v.8h-.8zM423.3 69.9h.8v.8h-.8zM417.6 46.2h.8v.8h-.8zM394.1 113.1h.8v.8h-.8zM383.7 89.7h.8v.8h-.8zM388.6 101.4h.8v.8h-.8zM418.7 60.1h.8v.8h-.8zM383.0 26.5h.8v.8h-.8zM391.5 29.3h.8v.8h-.8zM421.6 62.9h.8v.8h-.8zM361.2 47.4h.8v.8h-.8zM443.3 95.1h.8v.8h-.8zM409.1 29.0h.8v.8h-.8zM365.1 51.0h.8v.8h-.8zM364.1 55.3h.8v.8h-.8zM388.7 28.8h.8v.8h-.8zM387.8 95.2h.8v.8h-.8zM390.0 100.2h.8v.8h-.8zM366.1 59.6h.8v.8h-.8zM446.9 95.8h.8v.8h-.8zM358.9 45.8h.8v.8h-.8zM418.3 37.5h.8v.8h-.8zM375.8 72.8h.8v.8h-.8zM371.4 70.6h.8v.8h-.8zM391.2 101.4h.8v.8h-.8zM422.1 50.9h.8v.8h-.8zM377.1 27.2h.8v.8h-.8zM374.8 30.6h.8v.8h-.8zM360.5 39.5h.8v.8h-.8zM375.1 74.8h.8v.8h-.8zM436.1 84.4h.8v.8h-.8zM421.6 38.4h.8v.8h-.8zM368.1 53.2h.8v.8h-.8zM380.7 84.2h.8v.8h-.8zM364.0 48.8h.8v.8h-.8zM387.2 90.8h.8v.8h-.8zM439.1 87.1h.8v.8h-.8zM423.8 65.5h.8v.8h-.8zM409.0 27.8h.8v.8h-.8zM378.1 81.2h.8v.8h-.8zM388.9 95.1h.8v.8h-.8zM363.2 33.7h.8v.8h-.8zM366.4 55.7h.8v.8h-.8zM375.9 78.0h.8v.8h-.8zM366.5 50.9h.8v.8h-.8zM420.4 53.6h.8v.8h-.8zM365.2 41.3h.8v.8h-.8zM387.4 103.6h.8v.8h-.8zM402.4 29.6h.8v.8h-.8zM416.7 51.4h.8v.8h-.8zM422.6 48.4h.8v.8h-.8zM422.5 67.6h.8v.8h-.8z" fill="#84a4ee"/><path d="M377.9 51.8L378.5 50.9L378.4 50.0L378.4 49.1L378.8 48.3L378.9 47.4L379.1 46.5L379.6 45.7L380.3 45.0L380.3 44.0L380.9 43.3L381.8 42.9L382.1 41.9L383.0 41.5L383.7 40.9L384.3 40.2L385.2 39.9L386.0 39.6L386.9 39.2L387.8 39.1L388.6 38.7L389.5 38.7L390.4 38.4L391.3 38.1L392.2 38.2L393.1 38.1L394.0 38.2L394.9 38.0L395.8 38.0L396.7 38.0L397.6 37.8L398.5 38.3L399.4 38.2L400.3 38.4L401.2 38.6L401.9 39.3L402.9 39.1L403.6 39.8L404.7 39.6L405.3 40.4L405.8 41.2L406.7 41.5L407.4 42.1L408.2 42.6L409.0 43.2L409.1 44.2L409.5 45.0L409.9 45.8L410.1 46.6L410.8 47.3L411.0 48.2L411.7 49.0L411.5 50.0L411.6 50.9L411.4 51.8L411.4 52.7L411.5 53.6L411.8 54.5L412.0 55.4L412.0 56.3L412.0 57.2L412.0 58.1L411.8 59.0L412.0 59.9L412.3 60.8L412.2 61.7L411.4 62.6L411.7 63.5L412.2 64.3L412.5 65.2L412.7 66.1L413.2 66.8L413.6 67.6L414.5 68.1L414.9 69.0L415.2 69.9L415.6 70.7L416.2 71.3L416.6 72.2L417.3 72.7L417.9 73.5L418.5 74.2L418.9 75.0L419.7 75.5L419.9 76.5L420.9 76.8L421.2 77.7L421.8 78.4L422.3 79.2L423.3 79.6L423.8 80.3L424.3 81.0L424.8 81.9L425.3 82.5L426.4 82.8L426.7 83.7L427.2 84.5L427.8 85.2L428.4 85.8L429.1 86.4L429.7 87.1L430.6 87.5L430.8 88.6L431.9 88.8L432.2 89.7L432.9 90.3L433.3 91.1L434.1 91.6L434.5 92.5L435.2 93.1L435.8 93.8L436.4 94.5L437.0 95.1L437.8 95.6L438.3 96.3L439.0 96.9L439.6 97.6L440.4 98.1L441.4 98.4L441.7 99.3L442.4 100.0L443.1 100.5L443.8 101.1L444.3 101.9L445.1 102.3L445.6 103.1L446.1 103.8L447.0 104.3L447.5 105.0L448.5 105.3L449.1 105.9L449.7 106.6L450.5 107.1L451.0 107.9L451.7 108.5L452.2 109.3L453.1 109.6L453.6 110.4L454.6 110.7L455.1 111.4L455.7 112.1L456.5 112.6L457.5 112.8L457.9 113.7L458.5 114.4L459.5 114.6L460.1 115.3L460.7 115.9L461.4 116.6L462.0 117.3L463.0 117.4L463.7 118.1L464.1 119.0L464.8 119.5L465.5 120.1L466.4 120.4L467.0 121.1L468.2 121.1L468.6 122.0L469.5 122.3L470.2 122.8L470.9 123.4L471.4 124.2L472.1 124.8L473.1 125.0L473.8 125.5L474.4 126.3L475.4 126.5L476.0 127.1L476.7 127.7L477.4 128.3L478.3 128.6L479.4 129.0L478.6 129.4L477.8 128.9L476.9 128.7L476.1 128.3L475.2 128.0L474.6 127.3L473.7 127.0L472.9 126.5L472.1 126.2L471.4 125.5L470.5 125.3L469.7 125.0L468.8 124.8L468.0 124.3L467.3 123.8L466.6 123.1L465.7 122.9L464.8 122.7L464.1 122.1L463.2 121.8L462.3 121.6L461.6 121.0L460.6 121.0L459.9 120.4L459.2 119.7L458.3 119.5L457.4 119.2L456.6 118.8L455.8 118.5L454.8 118.5L454.0 118.0L453.2 117.8L452.4 117.2L451.6 116.8L450.8 116.3L449.8 116.4L448.9 116.3L448.2 115.7L447.3 115.5L446.4 115.1L445.6 114.9L444.7 114.5L443.8 114.4L443.0 114.0L442.2 113.6L441.3 113.5L440.4 113.2L439.5 113.2L438.7 112.6L437.8 112.6L436.9 112.4L436.0 112.1L435.2 111.9L434.3 111.7L433.4 111.5L432.6 110.9L431.7 110.8L430.8 110.7L429.9 110.5L429.0 110.5L428.2 110.1L427.2 110.1L426.4 109.9L425.5 109.9L424.6 109.4L423.7 109.2L422.8 109.1L422.0 108.9L421.0 109.5L420.1 108.8L419.3 108.5L418.4 108.5L417.4 108.8L416.6 108.3L415.7 108.1L414.8 108.3L413.8 108.3L413.0 108.1L412.0 108.5L411.2 107.8L410.3 107.9L409.4 107.8L408.5 107.7L407.6 107.6L406.7 107.2L405.8 107.5L404.9 107.2L403.9 107.3L403.1 106.7L402.2 106.5L401.7 105.6L400.9 105.2L400.1 104.8L399.6 103.9L398.7 103.5L398.2 102.8L397.6 102.1L397.0 101.4L396.7 100.5L396.2 99.8L395.9 98.9L395.3 98.2L394.9 97.4L395.1 96.3L394.5 95.6L394.1 94.8L393.8 93.9L393.2 93.2L393.1 92.2L392.5 91.5L392.5 90.6L392.1 89.7L391.7 88.9L391.5 88.0L391.0 87.3L391.0 86.3L390.4 85.5L389.7 84.9L389.4 84.0L389.6 83.0L388.8 82.3L388.7 81.4L388.2 80.6L388.2 79.6L387.8 78.8L387.4 78.0L386.8 77.3L386.5 76.4L386.5 75.4L385.8 74.8L385.2 74.0L385.5 72.9L385.1 72.1L384.3 71.5L384.3 70.5L384.0 69.6L383.6 68.8L383.5 67.9L383.1 67.1L382.4 66.4L382.2 65.5L382.0 64.6L381.7 63.8L381.1 63.0L381.1 62.1L380.4 61.4L380.3 60.4L379.5 59.8L379.6 58.8L379.6 57.8L379.1 57.0L378.4 56.3L377.8 55.5L378.2 54.5L378.3 53.6L378.1 52.7Z" fill="none" stroke="#ec6e64" stroke-width="0.9" stroke-linejoin="round"/><path d="M380.0 53.1L379.6 52.2L380.0 51.3L379.9 50.3L380.1 49.4L380.6 48.6L381.4 48.0L381.5 47.1L381.6 46.1L382.3 45.4L382.6 44.5L383.3 43.9L384.1 43.4L384.5 42.5L385.5 42.3L386.2 41.6L387.2 41.6L387.8 40.7L388.7 40.7L389.5 40.2L390.5 40.4L391.3 39.6L392.2 39.8L393.1 39.6L394.0 39.3L395.0 39.7L395.9 39.7L396.8 39.7L397.7 39.6L398.6 39.8L399.5 39.9L400.3 40.6L401.2 40.7L401.9 41.2L402.8 41.4L403.5 42.0L404.5 42.0L405.2 42.6L405.9 43.1L406.7 43.6L407.1 44.5L407.7 45.1L408.2 45.9L408.7 46.6L408.9 47.5L409.9 48.1L409.6 49.1L410.0 50.0L410.4 50.8L410.4 51.7L410.3 52.6L410.3 53.5L410.7 54.4L410.5 55.3L410.6 56.2L410.5 57.1L410.5 58.0L410.6 58.9L410.9 59.8L411.1 60.7L410.4 61.6L411.0 62.5L410.5 63.5L410.8 64.3L410.7 65.4L411.5 66.0L412.0 66.8L412.9 67.3L412.7 68.5L413.3 69.1L414.0 69.8L414.5 70.5L414.6 71.6L415.4 72.1L415.8 72.9L416.6 73.4L417.0 74.3L417.5 75.1L418.3 75.6L418.5 76.6L419.4 77.0L419.5 78.1L420.6 78.3L421.2 79.0L421.7 79.8L422.3 80.4L422.9 81.1L423.4 81.8L423.8 82.8L424.7 83.1L425.0 84.1L425.6 84.7L426.4 85.3L427.1 85.9L427.2 87.0L428.8 86.8L428.9 87.8L429.5 88.6L429.9 89.4L430.7 89.9L431.1 90.8L431.8 91.3L432.3 92.1L433.3 92.4L433.7 93.3L434.1 94.2L435.2 94.3L435.7 95.1L436.6 95.4L436.9 96.5L437.8 96.8L438.1 97.8L439.2 98.0L439.6 98.9L440.4 99.3L440.9 100.1L441.4 100.8L441.7 101.9L442.8 102.1L443.4 102.7L443.8 103.6L444.6 104.1L445.7 104.2L446.1 105.2L446.8 105.7L447.4 106.4L448.1 107.0L449.2 107.0L449.7 107.9L449.9 109.0L450.8 109.4L451.8 109.6L452.4 110.3L453.0 110.9L453.9 111.2L455.0 111.3L455.0 112.8L456.0 113.0L456.6 113.6L457.3 114.2L458.0 114.8L458.7 115.4L459.0 116.4L460.1 116.5L460.7 117.3L461.5 117.7L462.0 118.5L462.9 118.8L464.0 118.8L464.1 120.3L464.8 120.8L465.7 121.1L466.8 121.0L467.1 122.3L468.0 122.5L468.9 122.8L469.6 123.3L470.1 124.3L471.1 124.4L471.8 125.0L472.6 125.4L473.0 126.2L472.9 126.7L472.2 125.9L471.3 125.7L470.8 124.7L469.6 124.9L468.9 124.3L468.3 123.7L467.4 123.3L466.3 123.5L465.7 122.6L465.0 122.2L464.2 121.7L463.3 121.5L462.7 120.6L461.9 120.2L460.9 120.3L460.0 120.1L459.3 119.4L458.6 118.8L457.8 118.3L456.7 118.5L456.0 118.0L455.0 117.9L454.3 117.3L453.8 116.3L453.1 115.6L452.1 115.6L451.2 115.5L450.3 115.1L449.8 114.2L448.8 114.0L447.9 113.9L447.0 113.8L446.1 113.5L445.4 113.0L444.7 112.1L443.6 112.4L442.8 112.1L442.0 111.6L441.1 111.5L440.4 110.9L439.3 111.1L438.6 110.5L437.6 110.5L436.9 109.8L436.0 109.7L435.0 109.7L434.2 109.4L433.4 109.0L432.6 108.4L431.7 108.4L430.8 108.3L429.8 108.4L428.9 108.4L428.0 108.2L427.2 107.7L426.4 107.2L425.5 107.1L424.6 106.6L423.6 107.1L422.8 106.7L421.9 106.5L421.0 106.6L420.0 106.8L419.2 106.2L418.4 105.6L417.4 106.2L416.6 105.3L415.7 105.2L414.8 105.4L413.9 105.1L413.0 105.2L412.1 105.0L411.2 104.5L410.3 104.5L409.4 104.5L408.5 104.6L407.6 104.7L406.7 104.5L405.7 104.8L404.9 104.5L404.1 104.0L403.0 104.2L402.4 103.4L401.6 103.0L400.8 102.5L400.1 101.9L399.3 101.4L399.3 100.2L397.8 100.3L397.5 99.3L396.7 98.7L396.8 97.6L396.6 96.8L396.4 95.8L395.4 95.3L395.4 94.3L394.6 93.7L394.5 92.7L394.4 91.8L393.4 91.2L393.5 90.3L393.0 89.5L392.9 88.5L392.7 87.6L391.7 87.0L391.8 86.1L391.1 85.4L390.5 84.6L390.5 83.6L390.3 82.8L389.8 82.0L389.5 81.1L389.9 80.0L389.2 79.3L389.2 78.4L389.0 77.5L388.3 76.8L388.7 75.7L387.7 75.0L387.3 74.2L386.8 73.5L386.6 72.6L386.4 71.7L386.0 70.9L385.8 70.0L385.5 69.1L384.7 68.5L384.5 67.6L384.3 66.7L383.9 65.9L383.3 65.2L383.3 64.2L382.7 63.4L382.9 62.4L382.0 61.8L381.9 60.8L380.9 60.3L381.1 59.2L381.0 58.3L380.4 57.6L380.3 56.6L380.0 55.8L379.8 54.9L380.0 54.0Z" fill="none" stroke="#5878ea" stroke-width="0.9" stroke-linejoin="round"/><path d="M422.9 77.5h.8v.8h-.8zM425.9 110.0h.8v.8h-.8zM404.9 46.6h.8v.8h-.8zM423.2 106.7h.8v.8h-.8zM409.0 44.2h.8v.8h-.8zM431.2 88.6h.8v.8h-.8zM438.6 111.2h.8v.8h-.8zM435.2 111.7h.8v.8h-.8zM385.8 42.2h.8v.8h-.8zM404.6 43.2h.8v.8h-.8zM406.1 105.6h.8v.8h-.8zM434.0 92.1h.8v.8h-.8zM427.0 105.3h.8v.8h-.8zM380.4 43.1h.8v.8h-.8zM410.7 107.7h.8v.8h-.8zM382.1 46.1h.8v.8h-.8zM400.0 100.9h.8v.8h-.8zM379.0 52.6h.8v.8h-.8zM429.9 91.4h.8v.8h-.8zM437.2 107.5h.8v.8h-.8zM398.5 103.6h.8v.8h-.8zM435.2 106.5h.8v.8h-.8zM430.6 95.1h.8v.8h-.8zM441.9 105.2h.8v.8h-.8zM380.0 43.8h.8v.8h-.8zM395.3 98.5h.8v.8h-.8zM412.4 49.2h.8v.8h-.8zM382.5 59.1h.8v.8h-.8zM402.8 40.8h.8v.8h-.8zM380.7 63.3h.8v.8h-.8zM427.5 86.1h.8v.8h-.8zM388.8 72.2h.8v.8h-.8zM409.9 60.3h.8v.8h-.8zM403.0 104.4h.8v.8h-.8zM379.9 55.4h.8v.8h-.8zM393.0 82.8h.8v.8h-.8zM443.3 112.3h.8v.8h-.8zM430.7 106.3h.8v.8h-.8zM381.4 49.3h.8v.8h-.8zM385.9 43.0h.8v.8h-.8zM387.9 76.1h.8v.8h-.8zM421.5 87.3h.8v.8h-.8zM408.9 49.6h.8v.8h-.8zM415.8 103.5h.8v.8h-.8zM408.2 48.9h.8v.8h-.8zM413.6 62.1h.8v.8h-.8zM415.4 72.2h.8v.8h-.8zM438.9 108.3h.8v.8h-.8zM382.6 49.6h.8v.8h-.8zM391.8 93.2h.8v.8h-.8zM382.5 61.6h.8v.8h-.8zM430.0 112.7h.8v.8h-.8zM417.5 104.2h.8v.8h-.8zM398.2 100.9h.8v.8h-.8zM410.5 67.3h.8v.8h-.8zM401.7 105.7h.8v.8h-.8zM427.5 86.1h.8v.8h-.8zM404.8 45.6h.8v.8h-.8zM406.5 45.1h.8v.8h-.8z" fill="#5878ea"/><path d="M387.9 61.1L388.0 60.2L388.3 59.4L388.4 58.5L388.6 57.6L389.0 56.8L389.4 55.9L389.8 55.2L390.4 54.5L391.0 53.9L391.7 53.2L392.4 52.6L393.2 52.2L393.9 51.8L394.8 51.4L395.7 51.2L396.6 51.1L397.5 51.2L398.4 51.1L399.3 51.2L400.1 51.4L401.1 51.5L401.9 51.9L402.7 52.3L403.4 52.9L404.1 53.4L404.8 54.0L405.4 54.7L405.8 55.5L406.3 56.3L406.7 57.1L407.0 57.9L407.2 58.8L407.5 59.7L407.5 60.6L407.7 61.5L407.7 62.4L407.7 63.3L407.8 64.2L407.9 65.1L407.9 65.9L408.4 66.7L408.7 67.6L409.1 68.3L409.7 69.1L410.1 69.9L410.6 70.6L411.2 71.3L411.6 72.1L412.1 72.9L412.6 73.6L413.1 74.4L413.6 75.1L414.1 75.9L414.8 76.5L415.2 77.3L415.7 78.1L416.3 78.8L416.8 79.5L417.3 80.3L417.9 80.9L418.4 81.7L418.9 82.4L419.5 83.1L420.1 83.8L420.6 84.5L421.2 85.2L421.8 85.9L422.2 86.7L422.8 87.3L423.5 88.0L423.9 88.8L424.6 89.4L425.2 90.1L425.7 90.8L426.3 91.5L427.0 92.1L427.6 92.8L428.1 93.5L428.7 94.2L429.4 94.8L429.9 95.5L430.5 96.2L431.2 96.8L431.6 97.6L432.4 98.2L433.1 98.8L433.6 99.4L434.3 100.1L434.9 100.8L435.6 101.3L436.2 102.0L436.9 102.5L437.5 103.2L438.1 103.9L438.9 104.4L439.5 105.1L440.2 105.6L440.9 106.3L441.6 106.8L442.3 107.4L443.0 108.0L443.7 108.5L444.4 109.1L445.0 109.8L444.3 109.6L443.5 109.2L442.7 108.8L441.9 108.3L441.2 107.8L440.4 107.3L439.7 106.8L438.9 106.4L438.1 105.9L437.4 105.3L436.6 104.9L436.0 104.2L435.2 103.8L434.4 103.4L433.7 102.8L433.0 102.2L432.3 101.7L431.5 101.2L430.7 100.8L429.9 100.3L429.2 99.8L428.4 99.3L427.6 98.9L426.8 98.4L426.0 98.0L425.2 97.8L424.4 97.3L423.6 96.9L422.7 96.6L421.9 96.2L421.1 95.9L420.2 95.6L419.4 95.3L418.5 95.1L417.7 94.7L416.8 94.4L415.9 94.2L415.1 94.0L414.2 93.7L413.3 93.5L412.5 93.2L411.6 93.1L410.7 93.0L409.8 92.8L408.9 92.5L408.0 92.4L407.1 92.3L406.2 92.2L405.3 92.1L404.5 92.0L403.5 92.0L402.7 91.7L401.8 91.4L401.0 91.0L400.2 90.6L399.5 90.1L398.9 89.4L398.3 88.7L397.8 88.0L397.3 87.2L396.9 86.4L396.5 85.6L396.1 84.8L395.8 83.9L395.4 83.1L395.1 82.3L394.8 81.4L394.3 80.7L393.9 79.8L393.6 79.0L393.3 78.1L392.9 77.4L392.6 76.5L392.3 75.6L391.8 74.8L391.6 74.0L391.3 73.1L390.9 72.3L390.5 71.5L390.2 70.6L389.9 69.8L389.6 69.0L389.3 68.1L389.0 67.2L388.5 66.5L388.3 65.6L388.2 64.7L387.9 63.8L387.7 62.9L387.8 62.0Z" fill="none" stroke="#ec6e64" stroke-width="0.9" stroke-linejoin="round"/><path d="M389.1 61.8L389.2 60.9L389.3 60.0L389.6 59.2L389.7 58.3L390.1 57.4L390.6 56.7L391.2 56.0L391.5 55.1L392.2 54.5L392.9 54.0L393.6 53.4L394.4 53.0L395.3 52.7L396.1 52.4L397.0 52.4L397.9 52.3L398.8 52.4L399.7 52.5L400.6 52.7L401.4 53.0L402.2 53.4L402.9 54.0L403.7 54.5L404.3 55.2L404.8 55.9L405.2 56.7L405.7 57.5L406.0 58.3L406.2 59.2L406.4 60.1L406.7 60.9L406.7 61.8L406.8 62.7L406.9 63.6L406.9 64.5L407.0 65.4L407.0 66.3L407.5 67.1L407.9 67.9L408.5 68.6L408.8 69.4L409.4 70.2L409.8 71.0L410.4 71.6L410.8 72.5L411.4 73.2L411.9 73.9L412.3 74.7L412.8 75.5L413.3 76.2L413.8 76.9L414.4 77.7L414.8 78.4L415.4 79.1L415.9 79.9L416.4 80.6L416.9 81.4L417.5 82.1L418.0 82.8L418.6 83.5L419.1 84.2L419.6 85.0L420.2 85.6L420.8 86.3L421.3 87.1L421.9 87.8L422.4 88.5L423.0 89.2L423.7 89.8L424.2 90.5L424.9 91.2L425.3 92.0L426.0 92.5L426.6 93.2L427.2 93.9L427.8 94.6L428.3 95.3L429.0 95.9L429.6 96.6L430.2 97.3L430.8 98.0L431.5 98.5L432.1 99.2L432.7 99.9L433.5 100.4L434.1 101.1L434.7 101.7L435.4 102.2L436.0 102.9L436.7 103.5L437.3 104.1L438.0 104.7L438.8 105.3L439.5 105.8L440.0 106.5L440.1 107.0L439.3 106.5L438.6 106.1L437.8 105.6L437.1 105.0L436.3 104.6L435.5 104.1L434.9 103.5L434.1 103.0L433.3 102.6L432.6 102.0L431.8 101.5L431.1 101.0L430.4 100.4L429.7 99.9L428.9 99.4L428.2 98.9L427.5 98.3L426.7 97.8L425.9 97.4L425.2 96.9L424.4 96.3L423.6 95.9L422.8 95.5L422.0 95.1L421.3 94.6L420.5 94.2L419.6 94.0L418.8 93.5L418.0 93.1L417.2 92.8L416.3 92.5L415.5 92.1L414.6 91.8L413.8 91.6L412.9 91.3L412.1 91.0L411.2 90.9L410.3 90.7L409.4 90.4L408.5 90.2L407.7 90.0L406.8 89.9L405.9 89.8L405.0 89.7L404.1 89.6L403.2 89.6L402.3 89.3L401.5 89.0L400.6 88.7L399.9 88.1L399.3 87.5L398.6 86.9L398.1 86.1L397.7 85.3L397.2 84.6L396.8 83.7L396.6 82.9L396.2 82.1L395.9 81.2L395.4 80.4L395.0 79.6L394.7 78.8L394.4 77.9L394.1 77.1L393.8 76.2L393.3 75.4L392.9 74.6L392.7 73.7L392.4 72.9L392.0 72.1L391.8 71.2L391.3 70.4L390.9 69.6L390.8 68.7L390.4 67.9L390.0 67.1L389.8 66.2L389.6 65.3L389.2 64.5L389.1 63.6L389.0 62.7Z" fill="none" stroke="#3048de" stroke-width="0.9" stroke-linejoin="round"/><path d="M393.5 65.0L393.5 64.5L393.6 64.1L393.6 63.7L393.7 63.2L393.7 62.8L393.8 62.4L393.9 62.0L393.9 61.6L394.0 61.2L394.1 60.8L394.2 60.5L394.3 60.1L394.4 59.7L394.5 59.4L394.7 59.1L394.8 58.7L394.9 58.4L395.1 58.1L395.2 57.8L395.3 57.6L395.5 57.3L395.6 57.1L395.8 56.8L396.0 56.6L396.1 56.4L396.3 56.2L396.5 56.1L396.6 55.9L396.8 55.8L397.0 55.7L397.2 55.6L397.4 55.5L397.6 55.4L397.7 55.3L397.9 55.3L398.1 55.3L398.3 55.3L398.5 55.3L398.7 55.3L398.8 55.4L399.0 55.5L399.2 55.6L399.4 55.7L399.6 55.8L399.8 55.9L399.9 56.1L400.1 56.2L400.3 56.4L400.4 56.6L400.6 56.8L400.8 57.1L400.9 57.3L401.1 57.6L401.2 57.8L401.3 58.1L401.5 58.4L401.6 58.7L401.7 59.1L401.9 59.4L402.0 59.7L402.1 60.1L402.2 60.5L402.3 60.8L402.4 61.2L402.5 61.6L402.5 62.0L402.6 62.4L402.7 62.8L402.7 63.2L402.8 63.7L402.8 64.1L402.9 64.5L402.9 65.0L403.0 65.5L403.2 66.2L403.5 66.9L403.9 67.7L404.4 68.7L404.9 69.7L405.6 70.9L406.3 72.2L407.0 73.4L407.8 74.6L408.5 75.8L409.2 76.9L409.9 78.0L410.7 79.1L411.4 80.1L412.1 81.2L412.9 82.2L413.6 83.1L414.3 84.1L415.1 85.0L415.8 86.0L416.5 86.9L417.3 87.7L418.0 88.6L418.7 89.5L419.5 90.3L420.2 91.1L420.9 91.9L421.6 92.6L422.4 93.4L423.1 94.1L423.8 94.8L424.4 95.3L424.8 95.7L425.0 96.0L425.0 96.1L424.9 96.1L424.5 95.9L424.0 95.5L423.4 95.0L422.7 94.5L422.0 94.0L421.3 93.5L420.7 92.9L420.0 92.4L419.3 91.8L418.6 91.3L418.0 90.7L417.3 90.1L416.6 89.5L415.9 88.9L415.3 88.3L414.6 87.7L413.9 87.0L413.2 86.4L412.6 85.8L411.9 85.2L411.2 84.6L410.5 84.1L409.9 83.7L409.2 83.3L408.5 82.9L407.8 82.6L407.2 82.4L406.5 82.1L405.8 81.9L405.1 81.7L404.5 81.6L403.8 81.4L403.1 81.3L402.4 81.2L401.8 81.1L401.1 81.0L400.5 80.7L400.0 80.4L399.5 80.0L399.0 79.5L398.6 79.0L398.2 78.3L397.9 77.6L397.5 76.8L397.2 76.0L396.8 75.2L396.4 74.3L396.1 73.4L395.7 72.4L395.3 71.3L394.8 70.3L394.5 69.3L394.2 68.5L393.9 67.8L393.7 67.3L393.6 66.9L393.5 66.6L393.4 66.5L393.4 66.5L393.4 66.4L393.4 66.3L393.4 66.2L393.4 66.0L393.5 65.7L393.5 65.3Z" fill="none" stroke="#1c1e98" stroke-width="0.9" stroke-linejoin="round"/><path d="M395.6 65.3L395.6 64.9L395.6 64.6L395.6 64.3L395.7 63.9L395.7 63.6L395.8 63.3L395.8 63.0L395.8 62.6L395.9 62.3L396.0 62.0L396.0 61.7L396.1 61.4L396.2 61.2L396.2 60.9L396.3 60.6L396.4 60.4L396.5 60.1L396.6 59.9L396.7 59.7L396.8 59.4L396.9 59.2L397.0 59.1L397.1 58.9L397.2 58.7L397.3 58.5L397.4 58.4L397.5 58.3L397.6 58.1L397.7 58.0L397.9 57.9L398.0 57.9L398.1 57.8L398.2 57.7L398.3 57.7L398.5 57.7L398.6 57.7L398.7 57.7L398.8 57.7L399.0 57.7L399.1 57.7L399.2 57.8L399.3 57.9L399.4 57.9L399.6 58.0L399.7 58.1L399.8 58.3L399.9 58.4L400.0 58.5L400.1 58.7L400.2 58.9L400.3 59.1L400.4 59.2L400.5 59.4L400.6 59.7L400.7 59.9L400.8 60.1L400.9 60.4L401.0 60.6L401.1 60.9L401.1 61.2L401.2 61.4L401.3 61.7L401.3 62.0L401.4 62.3L401.5 62.6L401.5 63.0L401.5 63.3L401.6 63.6L401.6 63.9L401.7 64.3L401.7 64.6L401.7 64.9L401.7 65.3L401.8 65.7L401.9 66.2L402.1 66.8L402.4 67.4L402.7 68.2L403.1 69.0L403.5 69.9L404.0 70.8L404.5 71.8L405.0 72.7L405.5 73.6L405.9 74.4L406.4 75.3L406.9 76.1L407.4 76.9L407.9 77.7L408.4 78.4L408.9 79.2L409.4 79.9L409.8 80.6L410.3 81.3L410.8 82.0L411.3 82.7L411.8 83.4L412.3 84.0L412.8 84.6L413.3 85.3L413.7 85.9L414.2 86.4L414.7 87.0L415.2 87.6L415.7 88.1L416.1 88.5L416.3 88.8L416.5 89.0L416.5 89.1L416.4 89.1L416.2 88.9L415.8 88.7L415.4 88.3L414.9 87.9L414.5 87.5L414.0 87.2L413.6 86.7L413.1 86.3L412.7 85.9L412.2 85.5L411.8 85.0L411.3 84.6L410.9 84.1L410.4 83.7L410.0 83.2L409.5 82.7L409.1 82.3L408.6 81.8L408.2 81.3L407.7 80.8L407.3 80.3L406.8 79.8L406.4 79.4L405.9 78.9L405.5 78.5L405.0 78.0L404.6 77.6L404.1 77.2L403.7 76.8L403.2 76.5L402.8 76.3L402.3 76.1L401.9 75.9L401.4 75.8L401.0 75.7L400.6 75.6L400.2 75.4L399.8 75.2L399.5 74.9L399.1 74.6L398.9 74.3L398.6 73.9L398.4 73.4L398.2 73.0L397.9 72.5L397.7 71.9L397.4 71.4L397.2 70.8L396.9 70.2L396.7 69.5L396.4 68.9L396.2 68.3L396.0 67.8L395.8 67.3L395.7 67.0L395.6 66.8L395.5 66.6L395.5 66.5L395.5 66.5L395.5 66.5L395.5 66.4L395.5 66.2L395.5 66.1L395.5 65.9L395.6 65.6Z" fill="none" stroke="#1c1e98" stroke-width="0.9" stroke-linejoin="round"/><path d="M397.3 65.5L397.3 65.3L397.4 65.0L397.4 64.7L397.4 64.4L397.4 64.2L397.4 63.9L397.5 63.7L397.5 63.4L397.5 63.2L397.6 62.9L397.6 62.7L397.6 62.5L397.7 62.2L397.7 62.0L397.8 61.8L397.8 61.6L397.9 61.4L397.9 61.2L398.0 61.0L398.0 60.9L398.1 60.7L398.1 60.5L398.2 60.4L398.3 60.3L398.3 60.1L398.4 60.0L398.5 59.9L398.5 59.8L398.6 59.7L398.7 59.7L398.7 59.6L398.8 59.5L398.9 59.5L398.9 59.5L399.0 59.4L399.1 59.4L399.1 59.4L399.2 59.4L399.3 59.5L399.3 59.5L399.4 59.5L399.5 59.6L399.5 59.7L399.6 59.7L399.7 59.8L399.7 59.9L399.8 60.0L399.9 60.1L399.9 60.3L400.0 60.4L400.1 60.5L400.1 60.7L400.2 60.9L400.2 61.0L400.3 61.2L400.3 61.4L400.4 61.6L400.4 61.8L400.5 62.0L400.5 62.2L400.6 62.5L400.6 62.7L400.6 62.9L400.7 63.2L400.7 63.4L400.7 63.7L400.8 63.9L400.8 64.2L400.8 64.4L400.8 64.7L400.8 65.0L400.9 65.3L400.9 65.5L400.9 65.8L400.9 66.2L401.0 66.5L401.1 66.9L401.2 67.4L401.4 67.8L401.5 68.3L401.7 68.8L401.9 69.3L402.1 69.8L402.2 70.3L402.4 70.7L402.6 71.2L402.8 71.6L402.9 72.1L403.1 72.5L403.3 72.9L403.5 73.4L403.7 73.8L403.8 74.2L404.0 74.5L404.2 74.9L404.4 75.3L404.6 75.7L404.7 76.0L404.9 76.4L405.1 76.7L405.3 77.0L405.4 77.3L405.6 77.6L405.8 77.9L406.0 78.2L406.1 78.5L406.2 78.6L406.2 78.7L406.2 78.8L406.2 78.8L406.1 78.7L406.0 78.6L405.8 78.4L405.6 78.2L405.4 78.0L405.2 77.8L405.1 77.6L404.9 77.4L404.7 77.2L404.5 76.9L404.3 76.7L404.2 76.5L404.0 76.2L403.8 76.0L403.6 75.7L403.4 75.4L403.3 75.2L403.1 74.9L402.9 74.7L402.7 74.4L402.5 74.1L402.4 73.8L402.2 73.5L402.0 73.2L401.8 72.9L401.6 72.6L401.5 72.3L401.3 72.0L401.1 71.7L400.9 71.5L400.8 71.2L400.6 71.0L400.4 70.8L400.2 70.7L400.0 70.6L399.9 70.4L399.7 70.3L399.5 70.1L399.3 70.0L399.2 69.8L399.0 69.6L398.9 69.5L398.7 69.3L398.6 69.1L398.4 68.9L398.3 68.7L398.2 68.4L398.0 68.2L397.9 68.0L397.8 67.7L397.7 67.4L397.6 67.2L397.5 67.0L397.4 66.8L397.4 66.7L397.3 66.6L397.3 66.5L397.3 66.5L397.3 66.5L397.3 66.5L397.3 66.4L397.3 66.3L397.3 66.2L397.3 66.0L397.3 65.8Z" fill="#2020a8" stroke="#1c1e98" stroke-width="0.9" stroke-linejoin="round"/></g>
<line x1="399.40" y1="19.30" x2="399.40" y2="113.40" stroke="#000" stroke-width="0.9" stroke-dasharray="1.3 1.3"/>
<path d="M351.40 111.63 L352.00 111.25 L352.60 110.88 L353.20 110.49 L353.80 110.11 L354.40 109.73 L355.00 109.34 L355.60 108.96 L356.20 108.57 L356.80 108.18 L357.40 107.79 L358.00 107.39 L358.60 107.00 L359.20 106.60 L359.80 106.20 L360.40 105.80 L361.00 105.39 L361.60 104.99 L362.20 104.58 L362.80 104.17 L363.40 103.75 L364.00 103.34 L364.60 102.92 L365.20 102.50 L365.80 102.08 L366.40 101.65 L367.00 101.23 L367.60 100.80 L368.20 100.36 L368.80 99.93 L369.40 99.49 L370.00 99.05 L370.60 98.60 L371.20 98.16 L371.80 97.71 L372.40 97.25 L373.00 96.80 L373.60 96.33 L374.20 95.87 L374.80 95.40 L375.40 94.93 L376.00 94.45 L376.60 93.97 L377.20 93.49 L377.80 93.00 L378.40 92.51 L379.00 92.01 L379.60 91.51 L380.20 91.00 L380.80 90.49 L381.40 89.97 L382.00 89.44 L382.60 88.91 L383.20 88.38 L383.80 87.83 L384.40 87.28 L385.00 86.72 L385.60 86.16 L386.20 85.58 L386.80 85.00 L387.40 84.41 L388.00 83.81 L388.60 83.20 L389.20 82.57 L389.80 81.93 L390.40 81.28 L391.00 80.62 L391.60 79.94 L392.20 79.24 L392.80 78.52 L393.40 77.78 L394.00 77.02 L394.60 76.22 L395.20 75.39 L395.80 74.53 L396.40 73.61 L397.00 72.63 L397.60 71.56 L398.20 70.36 L398.80 68.93 L399.40 66.50 L400.00 68.93 L400.60 70.36 L401.20 71.56 L401.80 72.63 L402.40 73.61 L403.00 74.53 L403.60 75.39 L404.20 76.22 L404.80 77.02 L405.40 77.78 L406.00 78.52 L406.60 79.24 L407.20 79.94 L407.80 80.62 L408.40 81.28 L409.00 81.93 L409.60 82.57 L410.20 83.20 L410.80 83.81 L411.40 84.41 L412.00 85.00 L412.60 85.58 L413.20 86.16 L413.80 86.72 L414.40 87.28 L415.00 87.83 L415.60 88.38 L416.20 88.91 L416.80 89.44 L417.40 89.97 L418.00 90.49 L418.60 91.00 L419.20 91.51 L419.80 92.01 L420.40 92.51 L421.00 93.00 L421.60 93.49 L422.20 93.97 L422.80 94.45 L423.40 94.93 L424.00 95.40 L424.60 95.87 L425.20 96.33 L425.80 96.80 L426.40 97.25 L427.00 97.71 L427.60 98.16 L428.20 98.60 L428.80 99.05 L429.40 99.49 L430.00 99.93 L430.60 100.36 L431.20 100.80 L431.80 101.23 L432.40 101.65 L433.00 102.08 L433.60 102.50 L434.20 102.92 L434.80 103.34 L435.40 103.75 L436.00 104.17 L436.60 104.58 L437.20 104.99 L437.80 105.39 L438.40 105.80 L439.00 106.20 L439.60 106.60 L440.20 107.00 L440.80 107.39 L441.40 107.79 L442.00 108.18 L442.60 108.57 L443.20 108.96 L443.80 109.34 L444.40 109.73 L445.00 110.11 L445.60 110.49 L446.20 110.88 L446.80 111.25 L447.40 111.63" fill="none" stroke="#000" stroke-width="0.9" stroke-dasharray="1.3 1.3"/>
<rect x="351.40" y="19.30" width="96.0" height="94.1" fill="none" stroke="#999" stroke-width="0.8"/>
<path d="M369.40 113.40v-1.4M369.40 19.30v1.4M351.40 96.35h1.4M447.40 96.35h-1.4M399.40 113.40v-1.4M399.40 19.30v1.4M351.40 66.50h1.4M447.40 66.50h-1.4M429.40 113.40v-1.4M429.40 19.30v1.4M351.40 36.65h1.4M447.40 36.65h-1.4" stroke="#888" stroke-width="0.6"/>
<text x="354.00" y="27.90" class="pl">(c-i)</text>
<line x1="250.30" y1="167.10" x2="346.30" y2="167.10" stroke="#b0b0b0" stroke-width="0.6"/>
<g clip-path="url(#clip_bii)"><path d="M272.8 149.3L271.9 148.3L272.5 147.5L272.0 146.5L272.4 145.7L272.4 144.8L272.2 143.8L272.6 143.0L273.2 142.2L273.0 141.2L273.0 140.3L273.8 139.6L274.7 139.0L274.3 137.8L274.3 136.8L274.8 136.0L275.7 135.5L277.0 135.4L276.4 133.7L277.9 133.9L278.0 132.7L278.4 131.9L279.2 131.4L280.5 131.6L280.7 130.3L282.0 130.8L283.0 130.7L283.1 128.9L283.9 128.3L284.7 127.8L285.9 128.7L286.6 127.8L287.5 127.7L288.4 127.5L289.5 128.5L290.3 128.0L291.2 127.9L292.0 126.5L292.9 126.9L293.9 127.3L294.8 127.3L295.7 127.5L296.6 128.3L297.5 127.8L298.3 127.9L299.3 127.4L300.2 127.3L301.1 127.4L302.0 127.7L303.0 127.0L303.8 127.7L304.6 128.3L305.6 128.2L306.4 128.7L307.6 128.1L308.2 129.1L308.9 129.7L309.4 130.7L310.4 130.7L311.3 131.0L312.1 131.4L312.6 132.3L313.5 132.6L313.6 133.8L314.7 134.0L314.8 135.1L315.9 135.4L316.8 136.0L317.2 136.8L316.5 138.2L317.6 138.7L317.9 139.5L316.6 140.9L318.9 141.1L318.5 142.2L319.4 142.9L319.2 143.9L318.7 144.9L319.3 145.7L318.2 146.8L319.9 147.5L319.9 148.4L320.3 149.3L319.6 150.2L320.1 151.1L319.8 152.0L320.2 152.9L319.5 153.8L320.2 154.7L319.8 155.6L319.9 156.5L320.2 157.5L319.7 158.3L319.7 159.2L319.4 160.1L320.7 161.1L318.7 161.9L319.5 162.8L319.2 163.8L319.3 164.7L320.5 165.2L319.8 166.5L320.5 167.2L321.3 167.7L321.2 168.9L322.2 169.3L323.0 169.8L322.7 171.1L323.3 171.8L324.0 172.4L324.8 173.0L324.6 174.3L326.1 174.2L326.3 175.2L327.1 175.8L327.7 176.4L328.0 177.4L329.2 177.5L329.1 178.8L329.8 179.4L330.7 179.8L331.4 180.3L332.3 180.8L332.3 182.0L332.2 183.3L333.8 183.1L334.5 183.6L335.0 184.4L335.2 185.4L335.7 186.2L336.4 186.8L337.2 187.3L338.3 187.5L338.0 189.0L339.1 189.2L339.4 190.1L340.2 190.6L340.8 191.3L341.1 192.2L342.0 192.6L341.9 194.0L342.8 194.4L343.6 194.9L344.7 195.1L344.9 196.1L345.7 196.6L346.2 197.4L347.1 197.8L348.1 198.0L348.8 198.6L349.1 199.6L349.3 200.6L350.4 200.9L351.2 201.3L351.7 202.1L352.0 203.0L353.1 203.2L353.8 203.8L354.2 204.7L354.6 205.5L356.0 205.4L356.4 206.3L356.9 207.1L357.7 207.5L358.0 208.5L358.5 209.3L359.8 209.2L359.3 211.1L360.7 210.9L361.0 212.0L361.9 212.3L363.5 211.8L364.0 212.6L364.1 213.9L364.7 214.6L365.4 215.2L367.0 214.7L367.2 215.9L367.5 216.9L367.9 217.8L368.8 218.1L370.2 217.9L370.6 218.8L371.2 219.5L371.9 220.0L372.1 221.2L372.8 221.8L373.4 222.4L375.0 222.0L375.7 222.5L376.5 222.9L376.8 224.0L377.4 224.7L378.6 224.7L378.7 225.9L379.5 226.5L380.3 226.8L380.8 227.7L382.0 227.6L382.8 228.1L382.7 229.7L384.0 229.4L384.3 230.6L385.5 230.4L386.8 230.2L386.6 232.0L387.9 231.7L388.5 232.4L388.7 233.7L390.2 233.1L390.6 234.2L390.9 235.3L391.4 236.2L393.0 235.4L393.4 236.4L394.4 236.5L394.6 237.9L395.9 237.6L396.1 238.9L397.6 238.2L397.8 239.6L398.3 240.5L399.3 240.6L400.2 240.8L401.1 241.5L400.1 242.2L399.6 240.7L398.7 240.3L397.8 240.3L396.6 240.7L395.9 240.1L395.2 239.3L394.9 238.0L394.1 237.6L393.1 237.6L391.7 238.4L390.7 238.3L390.4 236.9L389.7 236.3L389.2 235.3L387.8 236.1L387.5 234.8L386.3 235.1L385.7 234.2L384.6 234.4L383.8 233.9L383.0 233.6L382.3 233.0L381.3 232.9L380.5 232.4L380.0 231.5L378.8 231.8L378.3 231.0L377.4 230.6L376.7 230.1L376.3 228.9L375.0 229.4L374.8 227.9L373.1 229.1L372.5 228.2L372.2 227.0L370.6 228.1L370.4 226.6L369.7 225.8L368.5 226.3L368.5 224.5L367.8 223.8L366.5 224.3L365.7 223.8L365.1 223.0L364.4 222.5L363.2 222.7L362.5 222.2L362.4 220.6L361.1 221.0L360.2 220.8L359.2 220.7L357.8 221.2L357.9 219.4L357.1 218.8L356.3 218.5L355.5 218.0L355.0 217.1L354.1 216.9L353.3 216.5L352.4 216.2L351.6 215.8L351.0 215.1L350.0 215.0L349.7 213.7L348.7 213.6L347.8 213.3L347.7 211.9L346.5 212.0L345.2 212.5L344.5 211.8L344.0 211.0L343.1 210.7L342.8 209.4L341.9 209.2L341.1 208.7L340.4 208.1L339.6 207.8L338.1 208.6L337.4 207.9L336.7 207.3L336.4 206.1L335.5 205.8L335.2 204.5L334.3 204.3L333.5 203.8L332.2 204.3L331.6 203.6L331.1 202.6L329.7 203.2L329.1 202.5L329.0 200.9L328.3 200.3L326.5 201.8L326.1 200.5L325.0 200.7L324.0 200.7L323.4 199.8L322.9 198.8L322.1 198.4L321.2 198.2L320.5 197.4L319.3 198.2L318.5 197.6L317.9 196.4L316.9 196.6L315.9 197.2L314.9 197.2L314.2 196.3L313.3 196.1L312.5 195.8L311.5 196.0L310.7 195.7L309.7 196.0L308.9 195.6L307.9 195.8L307.0 196.1L306.2 195.2L305.2 195.6L304.3 195.5L303.5 194.6L302.6 194.6L301.9 193.6L301.0 193.5L299.9 194.5L299.0 194.3L298.1 194.3L297.1 194.5L296.6 192.7L295.6 193.0L294.6 193.5L294.0 192.0L293.0 192.4L292.1 192.1L291.1 192.5L289.9 193.3L289.5 191.5L288.4 192.0L287.4 192.1L286.9 190.8L286.0 190.5L284.9 191.1L284.2 190.3L283.5 189.7L282.5 189.6L281.6 189.6L281.3 188.1L280.0 188.6L279.7 187.4L278.5 187.5L277.7 187.1L277.6 185.9L276.2 186.1L276.0 185.0L275.4 184.3L275.2 183.4L274.1 183.1L272.9 182.7L272.4 181.8L272.0 181.0L272.1 179.9L272.4 178.9L272.1 178.0L271.9 177.1L272.0 176.2L271.6 175.4L271.9 174.4L271.9 173.5L273.0 172.5L271.6 171.7L271.5 170.8L271.4 169.9L271.1 169.1L271.9 168.1L270.7 167.3L272.5 166.3L270.4 165.5L271.2 164.5L271.8 163.6L271.6 162.7L271.7 161.8L270.4 160.9L271.8 160.0L271.6 159.1L272.2 158.2L271.3 157.3L271.4 156.4L270.4 155.5L271.7 154.6L270.8 153.7L271.7 152.8L272.5 152.0L271.1 151.0L271.8 150.1Z" fill="none" stroke="#84a4ee" stroke-width="1.0" stroke-linejoin="round"/><path d="M280.4 127.0h.8v.8h-.8zM272.7 163.0h.8v.8h-.8zM305.8 195.4h.8v.8h-.8zM319.1 161.7h.8v.8h-.8zM280.9 129.0h.8v.8h-.8zM334.7 184.8h.8v.8h-.8zM309.5 193.8h.8v.8h-.8zM310.4 197.4h.8v.8h-.8zM314.3 194.4h.8v.8h-.8zM318.9 195.1h.8v.8h-.8zM321.7 197.0h.8v.8h-.8zM330.1 178.6h.8v.8h-.8zM281.6 187.1h.8v.8h-.8zM333.1 199.5h.8v.8h-.8zM303.3 127.4h.8v.8h-.8zM338.4 192.4h.8v.8h-.8zM300.9 193.7h.8v.8h-.8zM334.5 205.0h.8v.8h-.8zM321.6 169.3h.8v.8h-.8zM289.7 129.1h.8v.8h-.8zM274.6 137.6h.8v.8h-.8zM287.4 190.4h.8v.8h-.8zM327.3 175.9h.8v.8h-.8zM318.7 149.8h.8v.8h-.8zM322.7 173.4h.8v.8h-.8zM344.3 210.0h.8v.8h-.8zM271.9 161.2h.8v.8h-.8zM274.7 137.0h.8v.8h-.8zM322.3 157.2h.8v.8h-.8zM331.6 183.3h.8v.8h-.8zM322.6 172.5h.8v.8h-.8zM319.1 148.9h.8v.8h-.8zM318.7 159.7h.8v.8h-.8zM273.7 140.6h.8v.8h-.8zM298.1 130.7h.8v.8h-.8zM321.9 167.4h.8v.8h-.8zM269.4 156.4h.8v.8h-.8zM273.3 184.4h.8v.8h-.8zM276.5 183.3h.8v.8h-.8zM313.6 199.3h.8v.8h-.8zM282.4 186.3h.8v.8h-.8zM319.7 151.2h.8v.8h-.8zM336.2 180.5h.8v.8h-.8zM273.9 163.2h.8v.8h-.8zM312.6 193.8h.8v.8h-.8zM271.6 159.1h.8v.8h-.8zM327.7 173.8h.8v.8h-.8zM295.1 192.9h.8v.8h-.8zM273.2 144.9h.8v.8h-.8zM289.4 131.0h.8v.8h-.8zM295.6 192.9h.8v.8h-.8zM324.0 167.7h.8v.8h-.8zM313.8 133.0h.8v.8h-.8zM333.8 205.1h.8v.8h-.8zM271.5 172.1h.8v.8h-.8zM337.2 208.8h.8v.8h-.8zM341.1 195.9h.8v.8h-.8zM334.6 202.1h.8v.8h-.8zM330.3 201.4h.8v.8h-.8zM312.2 200.5h.8v.8h-.8zM276.7 133.7h.8v.8h-.8zM342.5 192.3h.8v.8h-.8zM295.3 191.6h.8v.8h-.8zM327.5 175.3h.8v.8h-.8zM291.0 129.0h.8v.8h-.8zM322.0 157.3h.8v.8h-.8zM343.6 198.8h.8v.8h-.8zM339.1 206.7h.8v.8h-.8zM278.5 134.6h.8v.8h-.8zM340.5 208.2h.8v.8h-.8zM344.0 208.4h.8v.8h-.8zM272.8 149.7h.8v.8h-.8zM328.3 170.8h.8v.8h-.8zM274.5 134.4h.8v.8h-.8zM273.7 151.8h.8v.8h-.8zM273.5 154.2h.8v.8h-.8zM271.1 166.9h.8v.8h-.8zM277.5 184.6h.8v.8h-.8zM270.7 160.7h.8v.8h-.8zM272.4 156.1h.8v.8h-.8zM341.0 183.8h.8v.8h-.8zM318.3 159.1h.8v.8h-.8zM283.3 132.4h.8v.8h-.8zM340.1 196.1h.8v.8h-.8zM341.8 211.4h.8v.8h-.8zM329.7 178.1h.8v.8h-.8zM312.5 194.4h.8v.8h-.8zM270.5 140.9h.8v.8h-.8zM339.5 191.8h.8v.8h-.8zM344.7 212.0h.8v.8h-.8zM271.2 168.8h.8v.8h-.8zM270.9 145.3h.8v.8h-.8zM273.3 137.6h.8v.8h-.8zM304.5 196.5h.8v.8h-.8zM327.4 199.9h.8v.8h-.8zM290.5 126.9h.8v.8h-.8zM336.6 187.0h.8v.8h-.8zM321.2 154.3h.8v.8h-.8zM309.9 129.4h.8v.8h-.8zM272.2 142.5h.8v.8h-.8zM313.9 196.1h.8v.8h-.8zM274.0 164.0h.8v.8h-.8zM325.3 201.1h.8v.8h-.8zM321.2 198.1h.8v.8h-.8zM277.7 189.1h.8v.8h-.8zM338.2 187.0h.8v.8h-.8zM279.1 132.7h.8v.8h-.8zM339.2 190.3h.8v.8h-.8z" fill="#84a4ee"/><path d="M283.8 163.2L284.1 162.4L283.9 161.4L283.1 160.4L283.5 159.6L284.4 158.8L283.8 157.8L284.9 157.1L285.1 156.2L284.4 155.1L285.1 154.3L285.5 153.5L285.7 152.6L285.5 151.6L285.9 150.8L286.2 150.0L287.2 149.4L287.1 148.4L287.7 147.7L287.7 146.7L288.2 145.9L288.7 145.2L288.7 144.2L288.9 143.3L289.8 142.8L290.1 141.8L290.6 141.0L291.1 140.3L291.5 139.4L292.6 139.2L293.0 138.3L293.8 137.8L294.7 137.6L295.5 136.8L296.6 137.4L297.4 137.4L298.4 136.6L299.2 137.2L300.1 137.6L300.9 138.0L301.5 138.7L302.1 139.3L303.1 139.6L303.3 140.7L304.7 140.7L305.0 141.7L304.8 142.9L305.8 143.3L305.9 144.3L306.0 145.3L306.2 146.1L307.7 146.4L307.9 147.3L308.3 148.2L308.6 149.0L308.5 150.0L309.7 150.6L308.9 151.8L309.4 152.6L309.0 153.6L310.5 154.2L309.7 155.3L310.4 156.1L310.7 156.9L310.2 157.9L310.3 158.8L311.4 159.6L310.6 160.6L311.1 161.4L311.3 162.3L311.4 163.2L311.5 164.1L312.0 164.9L312.0 165.8L313.4 166.1L312.5 167.6L313.2 168.3L314.0 168.8L314.2 169.8L314.9 170.4L315.1 171.4L315.5 172.2L316.2 172.8L318.0 172.6L317.0 174.5L318.0 174.9L318.3 175.7L319.4 176.0L319.8 176.9L320.4 177.6L320.7 178.5L321.2 179.2L321.9 179.8L322.5 180.5L322.9 181.3L323.4 182.1L324.2 182.6L325.1 183.0L325.3 184.1L326.4 184.3L326.7 185.2L326.9 186.3L328.4 186.1L328.9 186.8L329.9 187.2L329.2 189.1L330.4 189.2L330.9 190.0L331.6 190.6L332.3 191.1L333.2 191.5L333.4 192.5L334.4 192.8L334.6 193.9L334.9 194.9L335.3 195.7L336.9 195.4L337.4 196.2L338.2 196.7L339.1 197.0L339.6 197.8L339.9 198.8L340.2 199.8L340.8 200.5L342.1 200.4L342.3 201.5L343.2 201.9L343.7 202.7L344.1 203.5L344.8 204.1L345.5 204.7L346.3 205.1L347.0 205.7L347.7 206.4L348.3 207.1L349.1 207.4L349.6 208.2L350.4 208.7L350.7 209.7L352.1 209.6L352.6 210.3L353.1 211.1L353.9 211.6L355.2 211.5L354.9 213.2L355.5 213.9L357.1 213.4L357.7 214.1L357.6 215.6L359.1 215.2L359.4 216.3L360.1 216.8L360.9 217.2L361.4 218.1L362.5 218.1L363.4 218.5L363.8 219.4L364.4 220.1L365.1 220.8L365.6 221.5L366.2 222.3L367.2 222.5L368.0 222.8L368.6 223.5L369.8 223.4L370.4 224.1L371.2 224.6L372.1 224.9L372.3 226.2L373.5 226.1L374.3 226.4L374.9 227.1L375.1 228.5L375.9 228.9L376.8 229.1L377.4 229.8L378.0 230.9L376.8 230.2L376.2 229.3L375.1 229.5L374.2 229.2L373.6 228.5L373.1 227.5L372.4 226.8L371.1 227.4L370.8 226.0L369.5 226.6L369.0 225.6L368.1 225.3L367.3 225.0L366.9 223.7L365.9 223.6L365.0 223.5L364.4 222.7L363.3 222.9L362.7 222.0L362.2 221.2L361.1 221.1L360.7 220.1L359.3 220.8L358.4 220.4L357.9 219.6L357.1 219.1L356.3 218.8L355.9 217.6L354.9 217.5L353.8 217.5L353.1 217.0L352.6 216.1L351.4 216.2L351.0 215.2L350.0 215.2L349.4 214.4L348.7 213.8L347.5 214.0L347.0 213.1L346.3 212.6L345.6 211.9L345.0 211.2L344.1 211.0L343.0 211.0L342.5 210.2L341.6 209.9L341.0 209.1L340.5 208.2L339.7 207.7L339.1 207.1L337.8 207.3L336.9 207.2L336.3 206.4L335.8 205.5L334.9 205.2L334.0 205.0L333.5 204.0L333.1 203.1L332.0 203.1L331.4 202.3L331.1 201.2L329.7 201.7L329.3 200.6L328.0 200.9L327.4 200.2L326.8 199.4L326.4 198.5L325.4 198.3L324.5 198.0L324.1 197.0L323.6 196.2L322.8 195.7L321.5 196.1L321.1 195.0L320.0 195.0L319.5 194.1L318.8 193.5L317.6 193.9L317.4 192.2L315.8 193.4L315.4 192.3L314.2 192.7L313.6 191.9L313.0 190.7L312.1 190.5L311.3 190.1L310.2 190.8L309.2 190.9L308.4 190.7L307.7 188.9L306.7 189.6L305.7 190.4L304.9 189.9L304.0 189.8L303.1 189.3L302.1 189.8L301.2 190.2L300.3 189.7L299.5 189.0L298.6 189.1L297.7 189.3L296.7 189.5L296.0 188.3L295.0 188.4L294.1 188.9L293.2 188.7L292.4 187.5L291.4 188.3L290.7 187.4L289.6 187.8L288.8 187.5L287.9 187.2L287.4 186.4L286.7 185.8L285.7 185.5L286.1 184.1L284.9 183.9L284.4 183.0L284.8 181.9L283.8 181.3L283.8 180.4L283.9 179.4L284.1 178.5L282.9 177.7L283.2 176.8L282.5 175.9L283.8 174.9L283.6 174.0L283.7 173.1L283.6 172.2L283.1 171.3L283.6 170.4L282.9 169.6L282.9 168.6L283.2 167.7L283.8 166.8L282.8 165.9L284.8 165.1L283.2 164.1Z" fill="none" stroke="#84a4ee" stroke-width="1.0" stroke-linejoin="round"/><path d="M341.9 205.9h.8v.8h-.8zM312.9 171.7h.8v.8h-.8zM316.1 170.9h.8v.8h-.8zM294.5 139.1h.8v.8h-.8zM305.8 141.9h.8v.8h-.8zM342.7 203.5h.8v.8h-.8zM343.9 200.1h.8v.8h-.8zM309.1 191.3h.8v.8h-.8zM341.9 203.8h.8v.8h-.8zM310.2 159.9h.8v.8h-.8zM292.4 189.2h.8v.8h-.8zM308.9 144.3h.8v.8h-.8zM289.4 145.4h.8v.8h-.8zM302.3 191.8h.8v.8h-.8zM327.9 181.2h.8v.8h-.8zM326.6 198.2h.8v.8h-.8zM298.8 135.1h.8v.8h-.8zM287.9 187.4h.8v.8h-.8zM281.0 170.9h.8v.8h-.8zM325.1 202.0h.8v.8h-.8zM338.5 198.5h.8v.8h-.8zM285.5 178.8h.8v.8h-.8zM289.0 140.2h.8v.8h-.8zM285.7 185.8h.8v.8h-.8zM337.3 197.4h.8v.8h-.8zM319.5 192.3h.8v.8h-.8zM314.4 169.5h.8v.8h-.8zM323.2 182.0h.8v.8h-.8zM284.6 185.5h.8v.8h-.8zM305.0 191.7h.8v.8h-.8zM307.3 145.6h.8v.8h-.8zM287.3 145.7h.8v.8h-.8zM298.3 140.7h.8v.8h-.8zM335.9 194.3h.8v.8h-.8zM312.8 171.2h.8v.8h-.8zM318.7 194.0h.8v.8h-.8zM305.6 193.8h.8v.8h-.8zM283.5 151.9h.8v.8h-.8zM335.0 202.4h.8v.8h-.8zM284.9 157.4h.8v.8h-.8zM326.3 196.2h.8v.8h-.8zM331.6 190.6h.8v.8h-.8zM336.7 205.6h.8v.8h-.8zM282.7 180.3h.8v.8h-.8zM292.4 136.0h.8v.8h-.8zM325.5 182.4h.8v.8h-.8zM319.6 194.0h.8v.8h-.8zM332.7 189.4h.8v.8h-.8zM307.5 189.8h.8v.8h-.8zM312.2 151.9h.8v.8h-.8zM325.8 198.1h.8v.8h-.8zM288.6 185.8h.8v.8h-.8zM341.6 198.3h.8v.8h-.8zM336.4 205.6h.8v.8h-.8zM305.7 143.8h.8v.8h-.8zM334.2 195.5h.8v.8h-.8zM329.1 201.7h.8v.8h-.8zM345.7 210.8h.8v.8h-.8zM339.6 199.9h.8v.8h-.8zM342.2 209.0h.8v.8h-.8zM336.7 205.1h.8v.8h-.8zM311.7 159.2h.8v.8h-.8zM299.2 188.0h.8v.8h-.8zM303.6 140.1h.8v.8h-.8zM339.2 196.3h.8v.8h-.8zM308.9 161.2h.8v.8h-.8zM333.1 194.8h.8v.8h-.8zM289.5 143.2h.8v.8h-.8zM283.9 167.4h.8v.8h-.8zM300.2 188.9h.8v.8h-.8zM290.4 143.2h.8v.8h-.8zM311.1 191.1h.8v.8h-.8zM340.9 210.3h.8v.8h-.8zM345.3 207.6h.8v.8h-.8zM309.7 187.1h.8v.8h-.8zM345.7 201.3h.8v.8h-.8zM280.3 157.7h.8v.8h-.8zM316.0 193.0h.8v.8h-.8zM319.9 172.2h.8v.8h-.8zM342.5 210.5h.8v.8h-.8z" fill="#84a4ee"/><path d="M290.5 165.4L290.4 164.4L291.3 163.7L291.0 162.7L291.1 161.8L291.6 161.0L291.6 160.0L291.9 159.2L292.5 158.4L292.6 157.5L293.1 156.7L293.4 155.9L294.1 155.3L294.1 154.2L294.5 153.3L295.5 153.0L296.2 152.3L297.2 152.4L297.9 151.8L298.7 152.1L299.4 152.7L300.1 153.3L300.6 154.0L301.4 154.5L301.8 155.4L301.9 156.3L302.7 156.9L302.9 157.8L303.1 158.7L303.4 159.6L303.8 160.4L303.9 161.3L304.1 162.2L304.4 163.1L304.7 163.9L304.6 164.8L305.0 165.7L305.3 166.5L305.4 167.5L306.0 168.2L306.7 168.8L307.3 169.5L307.6 170.3L308.0 171.2L308.4 172.0L309.0 172.6L309.2 173.6L310.1 174.1L310.8 174.7L311.2 175.5L311.6 176.4L312.2 177.1L312.7 177.8L313.1 178.6L313.7 179.3L314.2 180.1L315.1 180.5L315.5 181.3L316.1 182.0L316.7 182.7L317.0 183.6L317.8 184.1L318.3 184.8L319.2 185.3L319.6 186.1L320.1 186.9L320.8 187.5L321.5 188.1L321.9 188.9L322.6 189.5L323.0 190.3L323.7 190.9L324.3 191.6L325.2 192.0L325.8 192.7L326.2 193.6L326.5 194.5L327.4 194.9L328.1 195.5L328.9 196.0L329.2 197.0L330.0 197.4L330.7 198.0L331.3 198.7L332.1 199.2L332.6 199.9L333.3 200.5L334.0 201.1L334.8 201.5L335.5 202.1L336.0 202.9L337.0 203.2L337.5 204.0L338.0 204.7L338.7 205.3L339.1 206.2L340.3 206.2L340.8 207.0L341.5 207.5L342.1 208.2L342.9 208.7L343.7 209.2L344.3 209.9L345.0 210.4L345.5 211.3L346.5 211.5L347.1 212.1L347.8 212.8L348.5 213.2L349.3 213.7L349.0 213.9L348.2 213.5L347.4 213.2L346.7 212.5L346.1 211.8L345.3 211.4L344.3 211.3L343.7 210.5L342.8 210.2L342.1 209.7L341.3 209.3L340.6 208.6L339.7 208.4L338.9 207.9L338.4 207.1L337.3 207.0L336.7 206.3L336.1 205.7L335.3 205.2L334.5 204.8L334.0 203.9L333.2 203.5L332.4 203.1L331.7 202.5L330.9 202.1L330.1 201.6L329.5 200.9L328.8 200.3L327.8 200.2L327.4 199.2L326.8 198.6L325.9 198.2L324.9 198.0L324.4 197.1L323.6 196.8L323.1 196.0L322.2 195.6L321.5 195.0L320.7 194.6L320.1 193.9L319.4 193.3L318.5 193.0L317.9 192.3L317.2 191.8L316.8 190.9L316.0 190.4L315.2 189.9L314.7 189.1L313.9 188.7L313.2 188.1L312.4 187.6L311.9 186.9L311.0 186.5L310.0 186.4L309.3 185.8L308.6 185.3L307.6 185.3L307.0 184.4L306.1 184.1L305.1 184.3L304.3 183.7L303.4 183.7L302.5 183.7L301.6 183.8L300.8 183.1L299.8 183.3L298.9 183.4L298.0 183.0L297.1 183.0L296.2 183.1L295.4 182.6L294.5 182.6L293.5 182.9L292.7 182.3L292.0 181.8L291.4 181.2L290.9 180.4L290.3 179.7L290.1 178.9L289.7 178.0L289.8 177.1L289.7 176.2L290.0 175.3L290.1 174.4L289.9 173.5L289.6 172.6L290.2 171.7L290.4 170.8L290.2 169.9L290.1 169.0L290.6 168.1L290.3 167.2L290.6 166.3Z" fill="none" stroke="#5878ea" stroke-width="0.9" stroke-linejoin="round"/><path d="M292.4 165.9L292.6 165.0L292.7 164.0L293.0 163.2L293.2 162.3L293.6 161.5L293.8 160.6L294.1 159.7L294.6 159.0L295.0 158.2L295.6 157.5L296.2 156.7L297.0 156.3L297.8 155.9L298.7 156.1L299.4 156.5L300.2 157.1L300.6 157.9L301.1 158.7L301.6 159.5L302.0 160.2L302.4 161.1L302.7 161.9L303.0 162.8L303.2 163.7L303.4 164.6L303.5 165.5L303.8 166.3L303.9 167.2L304.3 168.0L304.7 168.9L305.1 169.7L305.4 170.5L305.8 171.3L306.3 172.1L306.6 173.0L307.1 173.7L307.5 174.6L308.0 175.3L308.4 176.1L308.8 177.0L309.3 177.7L309.8 178.5L310.2 179.3L310.7 180.1L311.1 180.8L311.6 181.6L312.1 182.4L312.6 183.1L313.0 184.0L313.7 184.6L314.1 185.4L314.6 186.2L315.2 186.9L315.6 187.6L316.2 188.4L316.8 189.0L317.2 189.9L317.8 190.5L318.4 191.2L319.1 191.9L319.6 192.6L320.3 193.2L320.8 193.9L320.9 194.3L320.0 194.0L319.3 193.4L318.7 192.8L318.0 192.2L317.2 191.7L316.6 191.0L315.9 190.5L315.2 189.8L314.5 189.2L313.9 188.6L313.2 188.0L312.5 187.4L311.8 186.8L311.2 186.2L310.6 185.5L309.9 184.8L309.3 184.2L308.6 183.7L307.9 183.1L307.2 182.5L306.4 182.0L305.6 181.6L304.8 181.1L303.9 180.9L303.1 180.5L302.2 180.3L301.3 180.1L300.5 179.9L299.6 179.7L298.6 179.7L297.8 179.6L296.9 179.4L296.0 179.3L295.1 179.1L294.2 178.8L293.5 178.3L293.0 177.5L292.7 176.7L292.4 175.8L292.2 174.9L292.2 174.0L292.1 173.1L292.2 172.2L292.3 171.3L292.3 170.4L292.2 169.5L292.3 168.6L292.3 167.7L292.4 166.8Z" fill="none" stroke="#ec6e64" stroke-width="0.9" stroke-linejoin="round"/><path d="M293.6 166.1L293.6 165.8L293.7 165.4L293.7 165.1L293.8 164.8L293.8 164.5L293.9 164.2L294.0 163.8L294.1 163.5L294.2 163.2L294.3 162.8L294.4 162.5L294.5 162.2L294.6 161.9L294.7 161.6L294.8 161.3L295.0 161.0L295.1 160.7L295.3 160.4L295.4 160.1L295.5 159.9L295.7 159.6L295.8 159.4L296.0 159.2L296.2 159.0L296.3 158.8L296.5 158.6L296.6 158.4L296.8 158.3L296.9 158.2L297.1 158.0L297.2 157.9L297.4 157.9L297.5 157.8L297.6 157.7L297.8 157.7L297.9 157.7L298.1 157.7L298.2 157.7L298.4 157.7L298.5 157.8L298.6 157.9L298.8 157.9L298.9 158.0L299.1 158.2L299.2 158.3L299.4 158.4L299.5 158.6L299.7 158.8L299.8 159.0L300.0 159.2L300.2 159.4L300.3 159.6L300.5 159.9L300.6 160.1L300.7 160.4L300.9 160.7L301.0 161.0L301.2 161.3L301.3 161.6L301.4 161.9L301.5 162.2L301.6 162.5L301.7 162.8L301.8 163.2L301.9 163.5L302.0 163.8L302.1 164.2L302.2 164.5L302.2 164.8L302.3 165.1L302.3 165.4L302.4 165.8L302.4 166.1L302.5 166.5L302.7 167.0L303.1 167.7L303.5 168.6L304.0 169.5L304.6 170.6L305.3 171.8L306.1 173.2L306.9 174.5L307.7 175.8L308.5 177.0L309.4 178.2L310.2 179.4L311.0 180.6L311.8 181.7L312.6 182.8L313.4 183.9L314.2 184.9L315.0 186.0L315.8 187.0L316.6 188.0L317.4 188.9L318.2 189.9L319.0 190.8L319.8 191.7L320.6 192.6L321.4 193.5L322.3 194.3L323.1 195.1L323.9 195.9L324.7 196.7L325.5 197.5L326.1 198.0L326.5 198.5L326.7 198.7L326.8 198.9L326.6 198.8L326.2 198.6L325.7 198.2L324.9 197.7L324.2 197.1L323.4 196.6L322.7 196.0L321.9 195.5L321.2 194.9L320.4 194.3L319.7 193.7L318.9 193.0L318.2 192.4L317.4 191.8L316.7 191.1L315.9 190.5L315.2 189.8L314.4 189.1L313.7 188.4L312.9 187.7L312.2 187.0L311.4 186.3L310.7 185.6L309.9 184.8L309.2 184.0L308.4 183.2L307.7 182.4L306.9 181.6L306.2 180.8L305.4 180.2L304.7 179.6L303.9 179.1L303.2 178.7L302.4 178.3L301.7 178.1L300.9 177.9L300.2 177.7L299.5 177.5L298.8 177.4L298.2 177.3L297.5 177.1L296.9 177.0L296.3 176.9L295.8 176.8L295.3 176.6L294.8 176.2L294.5 175.7L294.2 175.1L293.9 174.3L293.8 173.4L293.7 172.4L293.6 171.2L293.6 170.2L293.6 169.3L293.5 168.6L293.5 168.0L293.5 167.5L293.5 167.2L293.5 167.1L293.5 167.1L293.5 167.1L293.5 167.0L293.5 166.9L293.5 166.7L293.6 166.5L293.6 166.3Z" fill="none" stroke="#3048de" stroke-width="0.9" stroke-linejoin="round"/><path d="M294.8 166.3L294.8 166.1L294.8 165.9L294.9 165.6L294.9 165.4L295.0 165.1L295.0 164.9L295.1 164.6L295.1 164.3L295.2 164.1L295.3 163.8L295.4 163.5L295.5 163.3L295.5 163.0L295.6 162.7L295.7 162.5L295.8 162.2L295.9 162.0L296.0 161.8L296.2 161.5L296.3 161.3L296.4 161.1L296.5 160.9L296.6 160.7L296.7 160.6L296.8 160.4L296.9 160.2L297.1 160.1L297.2 160.0L297.3 159.9L297.4 159.8L297.5 159.7L297.6 159.6L297.7 159.5L297.8 159.5L297.9 159.5L298.0 159.5L298.0 159.5L298.1 159.5L298.2 159.5L298.3 159.5L298.4 159.6L298.5 159.7L298.6 159.8L298.7 159.9L298.8 160.0L298.9 160.1L299.1 160.2L299.2 160.4L299.3 160.6L299.4 160.7L299.5 160.9L299.6 161.1L299.7 161.3L299.8 161.5L300.0 161.8L300.1 162.0L300.2 162.2L300.3 162.5L300.4 162.7L300.5 163.0L300.5 163.3L300.6 163.5L300.7 163.8L300.8 164.1L300.9 164.3L300.9 164.6L301.0 164.9L301.0 165.1L301.1 165.4L301.1 165.6L301.2 165.9L301.2 166.1L301.2 166.3L301.3 166.6L301.4 167.0L301.5 167.4L301.7 167.9L302.0 168.5L302.2 169.2L302.5 169.9L302.9 170.7L303.3 171.5L303.6 172.3L304.0 173.1L304.3 173.8L304.7 174.6L305.0 175.3L305.4 176.0L305.8 176.7L306.1 177.3L306.5 178.0L306.8 178.6L307.2 179.3L307.5 179.9L307.9 180.5L308.2 181.1L308.6 181.6L309.0 182.2L309.3 182.8L309.7 183.3L310.0 183.8L310.4 184.3L310.7 184.8L311.1 185.3L311.5 185.7L311.7 186.1L311.9 186.4L312.0 186.5L312.0 186.6L311.9 186.6L311.7 186.4L311.4 186.2L311.1 185.9L310.7 185.6L310.4 185.3L310.0 184.9L309.6 184.6L309.3 184.2L308.9 183.9L308.6 183.5L308.2 183.1L307.8 182.7L307.5 182.3L307.1 181.9L306.8 181.5L306.4 181.1L306.0 180.7L305.7 180.3L305.3 179.9L305.0 179.4L304.6 179.0L304.2 178.6L303.9 178.1L303.5 177.7L303.2 177.3L302.8 176.8L302.4 176.4L302.1 176.0L301.7 175.6L301.4 175.3L301.0 175.0L300.6 174.8L300.3 174.7L299.9 174.6L299.6 174.5L299.2 174.4L298.8 174.4L298.5 174.3L298.2 174.2L297.8 174.2L297.5 174.1L297.1 174.0L296.8 173.9L296.5 173.8L296.2 173.5L296.0 173.2L295.7 172.7L295.5 172.2L295.4 171.5L295.2 170.8L295.1 170.0L295.0 169.3L294.9 168.6L294.8 168.1L294.8 167.7L294.7 167.4L294.7 167.2L294.7 167.1L294.7 167.1L294.7 167.1L294.7 167.0L294.7 166.9L294.7 166.8L294.7 166.7L294.8 166.5Z" fill="none" stroke="#ec6e64" stroke-width="0.9" stroke-linejoin="round"/><path d="M296.3 166.5L296.3 166.3L296.3 166.1L296.3 165.9L296.3 165.7L296.4 165.5L296.4 165.3L296.4 165.1L296.5 164.9L296.5 164.7L296.6 164.4L296.6 164.2L296.6 164.0L296.7 163.8L296.8 163.6L296.8 163.4L296.9 163.2L296.9 163.0L297.0 162.8L297.1 162.6L297.1 162.4L297.2 162.3L297.3 162.1L297.3 162.0L297.4 161.8L297.5 161.7L297.5 161.6L297.6 161.4L297.7 161.3L297.7 161.3L297.8 161.2L297.8 161.1L297.9 161.0L298.0 161.0L298.0 161.0L298.1 160.9L298.1 160.9L298.2 160.9L298.2 160.9L298.3 161.0L298.3 161.0L298.4 161.0L298.5 161.1L298.5 161.2L298.6 161.3L298.6 161.3L298.7 161.4L298.8 161.6L298.8 161.7L298.9 161.8L299.0 162.0L299.0 162.1L299.1 162.3L299.2 162.4L299.2 162.6L299.3 162.8L299.4 163.0L299.4 163.2L299.5 163.4L299.5 163.6L299.6 163.8L299.7 164.0L299.7 164.2L299.7 164.4L299.8 164.7L299.8 164.9L299.9 165.1L299.9 165.3L299.9 165.5L300.0 165.7L300.0 165.9L300.0 166.1L300.0 166.3L300.0 166.5L300.1 166.7L300.1 167.0L300.2 167.3L300.3 167.6L300.4 168.0L300.5 168.4L300.7 168.9L300.9 169.4L301.0 169.9L301.2 170.4L301.4 170.8L301.5 171.3L301.7 171.8L301.9 172.2L302.0 172.7L302.2 173.1L302.4 173.5L302.5 174.0L302.7 174.4L302.9 174.8L303.1 175.2L303.2 175.5L303.4 175.9L303.6 176.3L303.7 176.6L303.9 177.0L304.1 177.3L304.2 177.6L304.4 178.0L304.6 178.3L304.7 178.6L304.9 178.8L305.0 179.1L305.1 179.2L305.2 179.3L305.1 179.4L305.1 179.4L305.0 179.3L304.9 179.2L304.7 179.0L304.5 178.8L304.3 178.6L304.2 178.4L304.0 178.2L303.8 178.0L303.6 177.8L303.4 177.5L303.2 177.3L303.1 177.1L302.9 176.8L302.7 176.6L302.5 176.3L302.4 176.0L302.2 175.8L302.0 175.5L301.8 175.3L301.6 175.0L301.4 174.7L301.3 174.4L301.1 174.1L300.9 173.8L300.7 173.5L300.6 173.2L300.4 172.9L300.2 172.6L300.0 172.3L299.8 172.1L299.7 171.8L299.5 171.6L299.3 171.4L299.1 171.3L298.9 171.2L298.7 171.0L298.6 170.9L298.4 170.8L298.2 170.7L297.9 170.6L297.7 170.5L297.5 170.4L297.3 170.4L297.1 170.3L296.9 170.1L296.8 169.9L296.6 169.7L296.5 169.5L296.4 169.2L296.4 168.8L296.3 168.4L296.3 168.1L296.3 167.8L296.2 167.6L296.2 167.4L296.2 167.2L296.2 167.1L296.2 167.1L296.2 167.1L296.2 167.1L296.2 167.0L296.2 167.0L296.2 166.9L296.2 166.8L296.2 166.6Z" fill="#2020a8" stroke="#1c1e98" stroke-width="0.9" stroke-linejoin="round"/></g>
<line x1="298.30" y1="119.90" x2="298.30" y2="214.00" stroke="#000" stroke-width="0.9" stroke-dasharray="1.3 1.3"/>
<path d="M250.30 212.23 L250.90 211.85 L251.50 211.48 L252.10 211.09 L252.70 210.71 L253.30 210.33 L253.90 209.94 L254.50 209.56 L255.10 209.17 L255.70 208.78 L256.30 208.39 L256.90 207.99 L257.50 207.60 L258.10 207.20 L258.70 206.80 L259.30 206.40 L259.90 205.99 L260.50 205.59 L261.10 205.18 L261.70 204.77 L262.30 204.35 L262.90 203.94 L263.50 203.52 L264.10 203.10 L264.70 202.68 L265.30 202.25 L265.90 201.83 L266.50 201.40 L267.10 200.96 L267.70 200.53 L268.30 200.09 L268.90 199.65 L269.50 199.20 L270.10 198.76 L270.70 198.31 L271.30 197.85 L271.90 197.40 L272.50 196.93 L273.10 196.47 L273.70 196.00 L274.30 195.53 L274.90 195.05 L275.50 194.57 L276.10 194.09 L276.70 193.60 L277.30 193.11 L277.90 192.61 L278.50 192.11 L279.10 191.60 L279.70 191.09 L280.30 190.57 L280.90 190.04 L281.50 189.51 L282.10 188.98 L282.70 188.43 L283.30 187.88 L283.90 187.32 L284.50 186.76 L285.10 186.18 L285.70 185.60 L286.30 185.01 L286.90 184.41 L287.50 183.80 L288.10 183.17 L288.70 182.53 L289.30 181.88 L289.90 181.22 L290.50 180.54 L291.10 179.84 L291.70 179.12 L292.30 178.38 L292.90 177.62 L293.50 176.82 L294.10 175.99 L294.70 175.13 L295.30 174.21 L295.90 173.23 L296.50 172.16 L297.10 170.96 L297.70 169.53 L298.30 167.10 L298.90 169.53 L299.50 170.96 L300.10 172.16 L300.70 173.23 L301.30 174.21 L301.90 175.13 L302.50 175.99 L303.10 176.82 L303.70 177.62 L304.30 178.38 L304.90 179.12 L305.50 179.84 L306.10 180.54 L306.70 181.22 L307.30 181.88 L307.90 182.53 L308.50 183.17 L309.10 183.80 L309.70 184.41 L310.30 185.01 L310.90 185.60 L311.50 186.18 L312.10 186.76 L312.70 187.32 L313.30 187.88 L313.90 188.43 L314.50 188.98 L315.10 189.51 L315.70 190.04 L316.30 190.57 L316.90 191.09 L317.50 191.60 L318.10 192.11 L318.70 192.61 L319.30 193.11 L319.90 193.60 L320.50 194.09 L321.10 194.57 L321.70 195.05 L322.30 195.53 L322.90 196.00 L323.50 196.47 L324.10 196.93 L324.70 197.40 L325.30 197.85 L325.90 198.31 L326.50 198.76 L327.10 199.20 L327.70 199.65 L328.30 200.09 L328.90 200.53 L329.50 200.96 L330.10 201.40 L330.70 201.83 L331.30 202.25 L331.90 202.68 L332.50 203.10 L333.10 203.52 L333.70 203.94 L334.30 204.35 L334.90 204.77 L335.50 205.18 L336.10 205.59 L336.70 205.99 L337.30 206.40 L337.90 206.80 L338.50 207.20 L339.10 207.60 L339.70 207.99 L340.30 208.39 L340.90 208.78 L341.50 209.17 L342.10 209.56 L342.70 209.94 L343.30 210.33 L343.90 210.71 L344.50 211.09 L345.10 211.48 L345.70 211.85 L346.30 212.23" fill="none" stroke="#000" stroke-width="0.9" stroke-dasharray="1.3 1.3"/>
<rect x="250.30" y="119.90" width="96.0" height="94.1" fill="none" stroke="#999" stroke-width="0.8"/>
<path d="M268.30 214.00v-1.4M268.30 119.90v1.4M250.30 196.95h1.4M346.30 196.95h-1.4M298.30 214.00v-1.4M298.30 119.90v1.4M250.30 167.10h1.4M346.30 167.10h-1.4M328.30 214.00v-1.4M328.30 119.90v1.4M250.30 137.25h1.4M346.30 137.25h-1.4" stroke="#888" stroke-width="0.6"/>
<text x="252.90" y="128.50" class="pl">(b-ii)</text>
<line x1="351.40" y1="167.10" x2="447.40" y2="167.10" stroke="#b0b0b0" stroke-width="0.6"/>
<g clip-path="url(#clip_cii)"><path d="M354.3 132.0L354.4 131.1L354.2 130.2L354.6 129.3L354.7 128.4L355.3 127.5L354.9 126.6L354.8 125.7L355.3 124.8L355.4 123.9L355.0 123.0L355.3 122.1L355.2 121.2L355.3 120.3L355.5 119.4L355.6 118.5L355.5 117.6L356.0 116.8L355.8 115.8L355.5 114.9L356.1 114.0L356.8 113.3L356.7 112.3L357.0 111.5L357.1 110.6L356.9 109.6L356.9 108.7L357.2 107.8L357.9 107.0L358.0 106.1L358.4 105.3L358.4 104.4L359.6 103.8L358.9 102.6L359.9 102.0L359.7 101.0L360.6 100.4L361.1 99.6L361.4 98.8L361.7 97.9L361.7 97.0L361.5 95.8L361.8 95.0L362.8 94.5L363.5 93.9L363.3 92.7L364.5 92.4L364.6 91.4L364.8 90.4L365.7 90.0L366.8 89.7L366.6 88.4L367.4 87.9L368.0 87.2L368.5 86.4L369.5 86.1L370.2 85.6L370.7 84.8L371.6 84.5L372.0 83.5L372.8 83.2L373.2 82.2L374.4 82.4L375.0 81.6L375.5 80.6L376.6 80.8L377.2 80.0L378.1 79.8L379.2 80.1L380.1 79.9L380.8 79.0L381.6 78.3L382.7 79.1L383.4 78.3L384.4 78.9L385.3 78.8L386.2 78.5L387.1 79.0L388.0 78.5L388.9 78.2L389.8 78.0L390.7 78.2L391.6 78.3L392.5 77.8L393.4 78.2L394.3 78.4L395.2 77.9L396.1 78.1L396.9 78.8L397.9 78.4L398.6 79.5L399.6 79.4L400.5 79.6L401.4 79.5L402.3 79.6L403.0 80.4L403.8 80.8L404.6 81.3L406.0 80.5L406.3 82.0L407.0 82.5L408.0 82.5L408.5 83.4L409.5 83.6L410.2 84.2L411.1 84.6L411.2 85.7L412.0 86.2L412.8 86.7L413.4 87.4L413.8 88.3L414.0 89.2L414.6 89.9L415.5 90.4L416.3 90.9L416.3 91.9L417.5 92.3L417.0 93.6L417.7 94.3L418.5 94.9L418.8 95.7L419.4 96.4L419.4 97.4L420.2 98.1L420.2 99.0L420.8 99.8L421.5 100.5L421.2 101.5L421.7 102.3L422.1 103.1L422.5 104.0L422.5 104.9L422.8 105.8L423.2 106.6L423.3 107.5L423.4 108.4L423.9 109.2L423.5 110.3L423.8 111.1L423.9 112.0L424.6 112.8L424.6 113.7L424.6 114.6L424.8 115.5L425.1 116.4L425.3 117.3L425.0 118.2L425.0 119.1L424.9 120.0L425.6 120.9L425.3 121.8L425.4 122.7L425.7 123.6L425.8 124.5L425.9 125.3L425.7 126.3L425.8 127.2L426.4 128.0L426.3 128.9L426.6 129.8L426.2 130.7L426.5 131.6L426.3 132.5L426.0 133.5L426.7 134.3L426.2 135.3L426.5 136.1L426.7 137.0L426.8 137.9L426.8 138.8L426.6 139.8L426.2 140.7L426.9 141.5L427.1 142.4L426.6 143.4L426.9 144.3L427.4 145.1L426.9 146.1L427.4 146.9L427.3 147.8L427.2 148.8L427.7 149.6L427.6 150.5L427.5 151.4L428.2 152.3L427.9 153.2L428.5 154.1L427.8 155.0L428.0 155.9L428.4 156.8L428.4 157.7L428.8 158.6L428.3 159.5L428.6 160.4L428.4 161.3L428.2 162.3L428.9 163.0L429.4 163.8L429.0 164.9L430.0 165.5L429.9 166.5L430.5 167.2L430.8 168.1L431.7 168.6L432.6 169.1L432.7 170.1L433.1 170.9L433.1 172.0L434.4 172.2L434.6 173.2L435.6 173.5L435.9 174.4L436.1 175.4L436.7 176.1L437.4 176.7L438.1 177.3L438.6 178.1L439.1 178.9L439.9 179.3L440.5 180.0L441.1 180.7L441.6 181.4L442.8 181.6L443.0 182.6L443.6 183.2L444.2 184.0L444.9 184.5L445.1 185.6L445.8 186.2L446.6 186.7L446.4 188.0L447.6 188.1L448.1 188.9L449.0 189.4L449.5 190.1L450.0 190.8L451.1 191.1L451.9 191.5L451.7 193.0L453.2 192.8L453.8 193.5L454.1 194.4L454.8 195.0L455.3 195.8L455.6 196.8L456.4 197.2L457.7 197.2L458.0 198.2L458.4 199.0L459.2 199.5L460.3 199.7L460.6 200.7L460.8 201.7L461.7 202.1L462.5 202.6L463.3 203.0L463.4 204.2L463.7 205.2L465.2 205.0L465.4 206.1L466.3 206.5L467.2 206.8L467.9 207.3L468.2 208.4L468.9 208.9L469.7 209.3L470.2 210.2L470.8 210.9L471.0 212.0L472.2 211.9L473.1 212.4L473.8 212.9L474.1 213.9L474.7 214.6L475.6 214.9L476.0 215.8L476.9 216.2L477.7 216.7L478.4 217.2L478.9 218.0L479.6 218.6L480.4 219.1L481.2 219.5L481.9 220.0L482.1 221.2L483.2 221.3L483.3 222.6L484.7 222.3L485.1 223.2L485.9 223.7L486.8 224.0L487.6 224.5L488.1 225.3L488.3 226.4L489.5 226.4L489.9 227.3L490.6 227.9L491.3 228.5L492.6 228.3L493.0 229.3L494.0 229.5L494.1 230.7L494.8 231.3L495.4 232.0L496.2 232.4L496.8 233.1L497.6 233.6L498.4 234.0L499.1 234.7L500.1 234.7L500.6 235.6L501.6 235.8L502.3 236.4L502.8 237.2L503.3 238.0L504.4 238.1L504.9 238.9L505.8 239.2L506.3 240.1L507.1 240.5L508.1 240.6L508.6 241.6L509.4 241.9L510.3 242.3L510.7 243.3L511.7 243.3L512.6 243.6L513.7 243.7L514.3 244.3L514.6 245.5L516.1 244.8L516.1 246.5L517.2 246.4L518.0 246.9L518.4 248.0L519.7 247.6L520.2 248.5L521.0 248.9L521.6 249.6L522.0 250.5L522.6 251.3L524.1 251.0L524.6 251.8L523.9 253.1L524.6 253.6L523.9 253.7L523.3 254.0L522.6 254.7L521.8 255.1L520.8 254.5L520.0 254.7L519.1 254.3L518.2 254.6L517.3 253.8L516.3 255.2L515.4 255.2L514.5 254.7L513.6 254.9L512.8 254.4L511.8 254.6L511.0 253.8L510.1 254.2L509.2 254.0L508.2 254.3L507.4 254.1L506.5 254.1L505.5 254.3L504.7 253.8L503.7 254.5L502.8 254.0L501.9 254.0L501.1 253.3L500.2 253.8L499.2 254.2L498.4 253.6L497.5 253.4L496.6 253.3L495.7 253.1L494.8 253.1L493.9 253.1L493.0 252.8L492.1 253.3L491.2 253.0L490.3 253.0L489.4 252.9L488.5 252.8L487.6 253.1L486.7 253.0L485.8 252.9L484.8 253.6L484.0 252.7L483.1 252.4L482.2 252.8L481.3 252.8L480.4 252.7L479.5 252.2L478.6 252.7L477.7 252.1L476.7 253.0L475.8 252.6L475.0 251.8L474.0 252.5L473.1 252.8L472.3 252.2L471.3 252.4L470.5 252.2L469.6 252.0L468.6 252.3L467.8 251.9L466.8 252.1L466.0 252.0L465.0 252.1L464.1 252.4L463.2 252.2L462.3 252.1L461.5 251.6L460.5 252.1L459.6 252.1L458.7 251.7L457.9 251.5L456.9 251.7L456.0 251.8L455.1 252.2L454.2 251.4L453.4 251.2L452.4 251.6L451.5 251.4L450.6 251.8L449.7 251.7L448.8 251.4L447.9 251.5L447.0 251.2L446.1 251.3L445.2 251.5L444.3 251.5L443.4 251.1L442.5 251.7L441.6 251.1L440.7 251.4L439.8 251.7L438.9 251.5L438.0 251.3L437.1 250.3L436.2 251.2L435.3 251.6L434.4 250.8L433.5 251.4L432.6 251.5L431.7 250.9L430.8 250.7L429.9 250.3L429.0 250.9L428.1 251.3L427.2 250.9L426.3 250.5L425.4 250.4L424.5 251.2L423.6 250.3L422.7 251.0L421.8 251.3L420.9 250.6L420.0 250.8L419.1 251.4L418.2 251.2L417.3 250.8L416.4 250.7L415.5 251.2L414.6 250.4L413.7 251.1L412.8 251.1L411.9 250.5L411.0 250.3L410.1 250.7L409.2 250.5L408.4 250.2L407.6 249.7L406.6 249.9L405.7 249.5L404.8 249.3L403.8 249.2L403.5 248.1L402.5 247.9L402.0 247.1L400.9 247.0L400.6 245.9L399.7 245.7L399.1 244.9L397.9 244.9L397.4 244.1L396.8 243.4L396.8 242.2L395.8 241.9L395.0 241.4L393.9 241.1L393.7 240.1L393.8 238.9L392.7 238.6L392.5 237.7L391.4 237.4L391.4 236.2L391.1 235.3L390.5 234.7L389.5 234.2L389.1 233.4L389.1 232.4L388.2 231.9L387.6 231.2L387.6 230.1L386.8 229.5L386.3 228.8L386.2 227.8L385.8 227.0L385.0 226.4L384.9 225.4L384.9 224.4L384.3 223.7L384.0 222.9L383.5 222.1L382.8 221.5L382.4 220.6L381.6 220.0L381.2 219.2L380.8 218.4L380.3 217.7L380.8 216.4L380.2 215.7L378.9 215.4L379.2 214.2L378.6 213.5L378.3 212.6L377.8 211.8L377.6 210.9L376.5 210.5L376.2 209.7L375.9 208.8L376.0 207.7L375.3 207.1L374.8 206.3L374.4 205.5L374.3 204.5L373.8 203.8L373.7 202.8L373.5 201.9L372.7 201.3L371.8 200.8L371.3 200.0L371.2 199.0L370.9 198.2L370.5 197.4L370.2 196.5L369.7 195.8L369.7 194.7L368.9 194.1L368.9 193.1L368.2 192.5L367.6 191.7L367.4 190.9L366.8 190.1L366.6 189.2L365.5 188.8L365.9 187.6L365.8 186.7L365.4 185.8L364.5 185.3L364.0 184.5L364.3 183.3L363.1 182.9L363.2 181.9L362.7 181.1L362.6 180.2L362.4 179.3L362.2 178.4L360.8 178.0L360.9 177.0L360.0 176.4L360.1 175.4L359.5 174.6L359.5 173.6L359.1 172.8L359.0 171.9L358.8 171.0L358.3 170.2L358.2 169.3L358.0 168.4L357.3 167.7L357.0 166.9L356.5 166.1L356.2 165.3L356.5 164.2L356.5 163.3L355.9 162.5L355.1 161.7L355.3 160.8L355.5 159.9L355.4 159.0L354.9 158.1L355.2 157.2L355.1 156.3L354.5 155.4L354.6 154.5L355.0 153.6L354.4 152.7L354.6 151.8L355.0 150.9L354.7 150.0L354.6 149.1L353.9 148.2L354.0 147.3L354.2 146.4L354.1 145.5L354.4 144.6L354.4 143.7L354.5 142.8L354.6 141.9L354.1 141.0L353.8 140.1L354.5 139.2L354.2 138.3L354.3 137.4L354.1 136.5L354.2 135.6L355.1 134.7L353.7 133.8L354.6 132.9Z" fill="none" stroke="#f09088" stroke-width="0.9" stroke-linejoin="round"/><path d="M366.3 146.3L366.5 145.4L366.3 144.5L366.6 143.6L366.6 142.7L366.9 141.9L367.0 141.0L367.9 140.3L368.1 139.4L368.3 138.6L368.7 137.8L369.0 136.9L369.3 136.0L370.3 135.6L370.6 134.7L371.4 134.2L372.0 133.5L372.8 133.1L373.6 132.6L374.6 132.6L375.5 132.2L376.1 131.5L377.0 131.3L377.8 130.8L378.7 130.7L379.5 130.2L380.4 130.3L381.2 129.5L382.0 129.1L383.1 130.2L383.9 129.6L384.8 129.5L385.7 129.6L386.6 129.4L387.5 129.5L388.4 128.9L389.3 129.0L390.2 129.5L391.1 129.2L392.0 128.9L392.9 128.7L393.8 129.6L394.7 129.4L395.6 129.3L396.5 128.7L397.4 129.0L398.3 128.9L399.3 128.7L400.1 129.1L401.0 129.3L401.8 130.1L402.9 129.2L403.7 130.0L404.6 129.9L405.4 130.2L406.4 130.2L407.2 130.6L408.1 130.5L408.9 131.2L409.7 131.3L410.8 131.2L411.5 131.8L412.0 132.7L412.8 133.1L414.0 132.9L414.5 133.8L414.9 134.6L415.8 135.0L416.7 135.4L417.0 136.3L417.6 136.9L418.6 137.4L418.5 138.5L418.9 139.3L419.1 140.2L419.1 141.1L419.3 142.0L419.6 142.8L419.7 143.7L420.6 144.4L420.8 145.3L420.5 146.3L420.6 147.2L420.6 148.1L420.9 148.9L420.6 149.9L420.3 150.8L420.8 151.7L420.8 152.6L420.9 153.5L421.3 154.4L420.7 155.3L420.6 156.2L420.4 157.0L420.7 158.0L420.0 158.8L420.0 159.7L419.7 160.6L421.0 161.6L420.3 162.4L419.9 163.3L420.1 164.2L420.4 165.1L420.9 165.9L421.0 166.9L421.8 167.4L422.2 168.2L422.1 169.4L423.3 169.7L423.5 170.7L424.2 171.2L424.6 172.1L425.3 172.6L425.7 173.5L426.2 174.3L427.1 174.7L427.8 175.3L428.4 176.0L429.0 176.6L429.1 177.7L429.6 178.5L431.0 178.4L431.4 179.3L431.8 180.1L432.2 181.0L433.3 181.2L433.8 182.0L434.3 182.8L434.7 183.6L435.7 183.9L435.9 184.9L437.0 185.2L437.2 186.2L438.2 186.5L438.7 187.2L439.1 188.1L439.8 188.7L440.4 189.4L441.2 189.8L441.9 190.5L442.2 191.4L442.7 192.2L443.6 192.5L444.3 193.2L445.2 193.5L445.2 194.7L446.4 194.9L446.8 195.7L447.3 196.5L448.8 196.2L448.9 197.4L449.8 197.8L450.3 198.6L450.8 199.3L451.8 199.6L451.9 200.8L452.3 201.7L453.5 201.7L454.1 202.4L454.4 203.4L455.4 203.7L456.4 203.9L456.7 204.9L457.6 205.3L457.9 206.3L458.9 206.4L459.2 207.5L460.4 207.5L460.9 208.3L461.9 208.5L461.7 210.1L462.9 210.2L463.6 210.7L464.2 211.4L464.9 211.9L465.5 212.6L465.9 213.6L466.7 214.0L467.8 214.1L468.3 214.9L469.1 215.4L469.7 216.1L470.7 216.3L471.2 217.0L472.1 217.3L472.4 218.4L473.4 218.6L473.7 219.7L474.6 220.0L475.6 220.2L475.7 221.5L477.2 221.1L476.9 222.9L477.9 223.1L478.6 223.7L479.3 224.3L480.1 224.7L481.1 224.9L481.9 225.3L482.4 226.0L483.6 226.0L483.8 227.2L484.7 227.6L485.3 228.2L486.2 228.6L487.1 228.9L487.5 229.8L488.4 230.2L489.1 230.7L489.7 231.3L490.3 232.1L491.0 232.7L492.2 232.6L492.7 233.4L493.8 233.4L494.4 234.1L495.1 234.6L495.7 235.4L496.4 235.9L497.1 236.5L497.9 236.9L498.7 237.4L499.6 237.6L500.1 238.5L501.1 238.6L501.6 239.5L502.5 239.8L502.9 240.9L504.1 240.6L504.7 241.4L505.3 242.1L506.3 242.1L507.1 242.6L507.5 243.6L508.4 243.9L509.3 244.2L510.2 244.5L510.9 245.0L511.9 245.2L512.0 246.5L513.0 246.7L512.9 246.8L512.2 246.3L511.3 246.1L510.4 246.0L509.8 245.2L508.5 245.8L508.1 244.5L507.2 244.4L506.3 244.1L505.6 243.5L504.9 243.0L503.8 243.1L503.1 242.5L502.2 242.3L501.4 241.8L500.8 241.2L499.8 241.1L498.9 240.9L498.2 240.3L497.6 239.4L496.8 239.1L495.9 238.8L495.2 238.2L494.2 238.3L493.3 238.0L492.5 237.6L491.8 236.9L491.0 236.5L490.0 236.5L489.7 235.1L488.7 235.2L487.5 235.4L486.7 235.1L486.2 234.1L485.4 233.7L484.4 233.7L483.7 233.0L482.9 232.6L482.1 232.2L481.5 231.4L480.3 231.7L479.7 230.9L478.7 230.8L478.1 230.1L477.4 229.6L476.8 228.6L475.6 229.1L475.0 228.4L474.1 228.1L473.3 227.6L472.4 227.4L471.5 227.1L470.8 226.6L470.0 226.2L469.4 225.3L468.5 225.2L467.9 224.3L466.8 224.6L465.9 224.4L465.2 223.7L464.4 223.2L464.0 222.1L462.7 222.6L462.2 221.7L461.2 221.6L460.4 221.3L459.8 220.4L458.8 220.4L458.3 219.3L457.3 219.3L456.5 218.9L455.6 218.8L454.9 218.2L454.1 217.7L453.1 217.8L452.3 217.3L451.4 217.2L450.6 216.7L449.8 216.2L448.8 216.5L448.1 215.6L447.2 215.5L446.5 214.8L445.5 215.1L444.7 214.6L443.8 214.3L443.1 213.6L442.1 213.7L441.4 213.0L440.5 212.9L439.5 213.2L438.6 213.1L437.8 212.6L437.0 212.1L436.0 212.2L435.1 212.2L434.3 211.6L433.4 211.7L432.5 211.6L431.6 211.2L430.7 211.1L429.8 211.4L429.0 210.8L428.1 210.5L427.2 210.7L426.2 210.7L425.4 210.0L424.6 209.7L423.6 210.0L422.7 209.7L421.8 209.9L421.0 209.5L420.0 209.9L419.2 209.4L418.3 209.2L417.4 209.3L416.5 209.1L415.6 208.9L414.7 208.5L413.8 208.9L412.9 209.1L412.0 208.9L411.1 208.8L410.2 208.4L409.4 208.0L408.4 208.6L407.5 208.0L406.7 207.7L405.8 207.7L404.9 207.4L404.0 207.3L403.4 206.4L402.5 206.2L401.4 206.3L400.8 205.5L399.8 205.4L399.3 204.5L398.7 203.9L397.5 204.0L397.0 203.1L396.4 202.4L396.2 201.3L395.3 201.0L394.7 200.3L393.9 199.8L393.4 199.0L393.0 198.2L392.4 197.6L392.0 196.7L391.3 196.1L390.5 195.6L390.3 194.6L389.8 193.9L388.9 193.4L388.5 192.6L388.1 191.8L388.1 190.7L387.3 190.1L387.1 189.2L385.6 189.1L385.7 187.9L385.5 187.0L384.5 186.6L384.2 185.7L383.4 185.2L383.2 184.2L382.6 183.5L381.7 183.0L381.8 181.9L381.1 181.3L380.6 180.5L379.6 180.1L379.7 179.0L378.8 178.5L378.7 177.5L377.7 177.1L377.8 175.9L376.9 175.4L376.5 174.6L375.8 174.0L375.0 173.4L374.9 172.4L374.8 171.4L374.3 170.7L373.4 170.2L373.4 169.1L372.6 168.6L371.8 167.9L371.7 167.0L371.3 166.2L371.2 165.3L369.9 164.8L370.5 163.6L370.1 162.8L369.7 162.0L368.9 161.3L368.6 160.5L369.0 159.4L368.4 158.6L368.5 157.7L367.6 157.0L367.8 156.0L367.5 155.1L366.7 154.4L366.7 153.5L367.1 152.5L366.2 151.7L366.6 150.8L366.2 149.9L365.9 149.0L366.0 148.1L365.9 147.2Z" fill="none" stroke="#ec6e64" stroke-width="0.9" stroke-linejoin="round"/><path d="M370.6 149.8L369.2 148.8L369.4 147.9L370.1 147.1L370.7 146.3L370.0 145.2L370.4 144.3L371.0 143.6L371.4 142.7L372.0 142.0L372.2 141.1L373.0 140.5L373.8 140.1L373.9 138.9L374.5 138.1L375.5 137.9L376.4 137.7L377.7 138.3L378.2 137.2L378.9 136.7L379.2 134.9L380.3 135.0L381.5 135.9L382.2 135.1L383.1 134.9L384.1 135.4L385.0 135.5L385.9 135.1L386.7 134.8L387.6 133.8L388.5 134.5L389.4 134.9L390.3 134.4L391.2 133.8L392.1 133.3L393.0 134.3L393.9 134.7L394.8 134.1L395.7 134.3L396.6 134.6L397.5 134.3L398.4 134.5L399.3 134.3L400.2 134.3L401.1 134.9L402.0 135.1L402.9 134.8L403.9 134.4L404.7 135.4L405.5 135.7L406.4 135.9L407.2 136.1L408.2 136.1L409.1 136.3L409.7 137.0L410.5 137.4L411.3 137.8L412.4 137.7L413.4 137.9L413.5 139.3L414.2 139.9L414.8 140.5L415.3 141.3L416.6 141.5L416.7 142.5L416.6 143.6L417.4 144.2L417.5 145.1L417.0 146.2L417.5 147.0L418.2 147.8L418.0 148.7L418.5 149.6L418.1 150.5L418.9 151.4L419.1 152.3L417.7 153.2L418.0 154.1L418.8 155.0L418.2 155.9L419.4 156.9L418.2 157.7L417.6 158.5L417.7 159.5L417.9 160.4L417.9 161.3L417.7 162.2L416.8 163.0L417.9 164.0L417.8 164.9L417.9 165.8L418.9 166.3L418.4 167.6L420.2 167.6L420.0 168.7L420.6 169.4L421.0 170.2L422.0 170.6L422.2 171.6L422.6 172.5L423.5 172.9L423.5 174.0L425.1 173.9L425.0 175.1L425.0 176.3L426.5 176.3L426.7 177.2L427.5 177.8L428.1 178.4L428.3 179.4L429.6 179.5L429.6 180.7L430.8 180.8L431.1 181.8L431.4 182.8L432.4 183.0L432.8 183.8L432.7 185.2L434.0 185.2L434.6 185.9L435.1 186.6L435.8 187.3L436.6 187.7L437.3 188.3L437.8 189.1L438.4 189.8L438.7 190.7L439.7 191.0L440.1 191.8L440.4 192.8L442.2 192.3L442.4 193.4L443.0 194.0L443.6 194.7L443.8 195.8L445.0 195.9L445.5 196.7L445.7 197.8L447.5 197.2L447.9 198.0L448.5 198.7L448.8 199.7L449.3 200.5L450.4 200.6L450.4 202.0L451.0 202.7L452.4 202.5L453.0 203.2L453.8 203.6L454.0 204.8L455.0 205.0L455.2 206.0L455.8 206.7L456.8 206.9L457.8 207.2L458.9 207.3L458.8 208.8L459.4 209.5L460.2 209.9L461.2 210.2L461.3 211.4L462.3 211.6L462.8 212.4L463.5 213.1L464.1 213.7L464.9 214.2L466.2 214.0L466.4 215.2L467.2 215.6L468.0 216.0L468.8 216.5L469.5 217.0L470.1 217.7L470.8 218.4L471.4 219.0L472.6 218.9L473.0 219.8L473.3 220.9L473.9 221.6L475.0 221.7L475.8 222.2L475.8 223.6L477.3 223.1L477.5 224.4L478.3 224.8L479.1 225.2L479.7 226.0L480.5 226.4L481.4 226.6L481.9 227.5L482.2 228.6L483.5 228.3L484.0 229.2L484.5 230.0L486.0 229.5L486.5 230.3L487.5 230.5L488.0 231.4L488.9 231.7L489.2 232.8L490.3 232.8L490.8 233.7L491.7 234.0L492.4 234.6L493.4 234.6L493.7 235.8L494.7 235.9L495.5 236.3L496.4 236.6L496.9 237.5L497.9 237.7L498.7 238.1L499.3 238.8L500.6 238.4L500.5 240.2L501.7 240.0L502.1 241.1L503.4 240.7L504.4 240.9L504.9 241.8L505.3 242.8L505.8 243.6L506.5 244.1L507.0 244.2L506.8 244.5L505.9 244.1L505.3 243.4L504.5 242.8L503.4 243.2L502.6 242.8L501.7 242.5L501.3 241.1L500.1 241.6L499.6 240.7L498.7 240.4L498.0 239.9L496.8 240.3L496.3 239.2L495.6 238.5L494.8 238.2L493.8 238.2L493.2 237.4L492.3 237.2L491.3 237.0L490.6 236.4L490.3 235.2L488.9 235.8L487.9 235.9L487.5 234.6L486.8 234.1L485.9 233.8L485.0 233.7L484.4 232.8L483.8 232.0L482.9 231.8L481.4 232.8L480.8 231.9L480.3 231.0L478.9 231.5L479.0 229.6L478.0 229.5L476.9 229.7L476.0 229.4L475.7 228.1L474.6 228.3L473.9 227.6L472.8 227.7L472.0 227.3L471.4 226.6L470.7 225.9L470.1 225.2L469.0 225.3L468.5 224.3L467.4 224.4L466.6 224.1L465.9 223.5L465.1 223.1L464.1 222.9L463.2 222.7L463.0 221.3L462.1 221.0L461.4 220.4L460.1 220.8L459.6 219.9L458.6 219.8L458.5 218.3L457.8 217.7L456.8 217.7L456.2 216.9L454.7 217.6L454.3 216.6L453.5 216.0L452.8 215.5L451.9 215.2L451.2 214.6L450.4 214.3L449.4 214.2L448.9 213.2L447.8 213.5L447.2 212.6L446.3 212.3L445.2 212.7L444.5 212.0L444.1 210.7L442.9 211.2L442.1 210.6L441.1 210.8L440.5 209.8L439.5 210.0L438.8 209.3L437.9 209.1L436.8 209.6L436.0 209.0L435.2 208.5L434.2 209.0L433.4 208.3L432.5 208.2L431.7 207.7L430.7 208.2L429.9 207.4L429.1 207.0L428.1 207.5L427.2 207.2L426.4 206.6L425.4 207.0L424.6 206.4L423.8 205.9L422.7 206.9L421.9 206.0L421.1 205.5L420.0 206.6L419.2 205.7L418.4 205.5L417.4 205.7L416.6 205.4L415.6 205.8L414.7 205.3L413.8 205.5L413.0 204.8L412.1 205.0L411.2 204.9L410.3 204.5L409.4 204.6L408.4 204.9L407.6 204.6L406.6 204.7L405.9 203.9L405.1 203.3L404.4 202.8L403.4 202.9L402.3 203.2L401.8 202.2L400.6 202.5L399.8 202.1L399.1 201.5L398.7 200.4L397.5 200.6L397.4 199.3L396.5 198.9L396.5 197.7L395.3 197.5L394.6 197.0L393.8 196.5L393.4 195.6L393.3 194.6L392.2 194.3L391.2 193.8L391.5 192.6L391.1 191.7L390.6 191.0L390.0 190.3L389.3 189.6L388.6 189.1L389.2 187.6L388.4 187.0L387.8 186.3L387.0 185.8L386.4 185.1L386.1 184.2L385.9 183.3L385.2 182.7L384.7 181.9L384.4 181.0L383.4 180.6L382.9 179.9L382.5 179.0L382.1 178.2L382.3 177.0L382.0 176.1L380.3 176.2L379.9 175.4L379.7 174.4L378.5 174.1L378.5 173.1L378.7 171.8L377.5 171.6L377.1 170.8L377.2 169.6L377.0 168.7L375.8 168.4L375.4 167.6L375.1 166.7L374.9 165.8L373.4 165.5L373.9 164.3L373.2 163.6L373.2 162.6L373.0 161.8L371.4 161.4L372.5 160.0L371.8 159.3L371.3 158.6L371.3 157.6L371.0 156.7L371.3 155.7L370.6 155.0L370.4 154.2L370.0 153.3L370.1 152.4L369.4 151.6L370.1 150.7Z" fill="none" stroke="#84a4ee" stroke-width="1.0" stroke-linejoin="round"/><path d="M393.2 131.8h.8v.8h-.8zM418.3 150.7h.8v.8h-.8zM446.9 212.1h.8v.8h-.8zM391.2 192.5h.8v.8h-.8zM425.1 172.3h.8v.8h-.8zM390.1 193.5h.8v.8h-.8zM434.2 189.1h.8v.8h-.8zM415.9 167.5h.8v.8h-.8zM402.1 135.8h.8v.8h-.8zM388.4 187.6h.8v.8h-.8zM421.4 163.3h.8v.8h-.8zM395.9 135.0h.8v.8h-.8zM423.5 175.3h.8v.8h-.8zM372.7 159.6h.8v.8h-.8zM402.6 136.0h.8v.8h-.8zM372.4 154.3h.8v.8h-.8zM407.0 202.8h.8v.8h-.8zM369.3 145.7h.8v.8h-.8zM438.6 211.0h.8v.8h-.8zM377.5 137.2h.8v.8h-.8zM384.9 180.2h.8v.8h-.8zM399.8 132.3h.8v.8h-.8zM374.6 156.8h.8v.8h-.8zM367.0 145.8h.8v.8h-.8zM372.1 157.1h.8v.8h-.8zM417.8 167.5h.8v.8h-.8zM394.5 135.1h.8v.8h-.8zM395.5 136.0h.8v.8h-.8zM406.5 135.8h.8v.8h-.8zM417.6 163.8h.8v.8h-.8zM404.7 203.8h.8v.8h-.8zM419.8 152.2h.8v.8h-.8zM369.5 161.9h.8v.8h-.8zM431.3 208.2h.8v.8h-.8zM444.2 194.8h.8v.8h-.8zM418.2 206.6h.8v.8h-.8zM378.6 169.3h.8v.8h-.8zM395.4 130.5h.8v.8h-.8zM401.9 202.7h.8v.8h-.8zM384.9 183.7h.8v.8h-.8zM372.9 170.7h.8v.8h-.8zM415.7 164.8h.8v.8h-.8zM412.2 139.2h.8v.8h-.8zM429.9 182.5h.8v.8h-.8zM373.9 139.4h.8v.8h-.8zM380.4 169.3h.8v.8h-.8zM416.3 205.9h.8v.8h-.8zM401.9 133.3h.8v.8h-.8zM400.5 202.8h.8v.8h-.8zM418.5 165.2h.8v.8h-.8zM440.2 190.1h.8v.8h-.8zM412.3 134.9h.8v.8h-.8zM417.5 168.7h.8v.8h-.8zM420.2 150.4h.8v.8h-.8zM418.0 165.8h.8v.8h-.8zM445.5 198.5h.8v.8h-.8zM387.5 133.6h.8v.8h-.8zM428.1 177.8h.8v.8h-.8zM418.9 208.4h.8v.8h-.8zM372.5 154.9h.8v.8h-.8zM387.5 185.4h.8v.8h-.8zM417.8 138.2h.8v.8h-.8zM420.7 170.6h.8v.8h-.8zM426.6 174.4h.8v.8h-.8zM417.1 146.2h.8v.8h-.8zM415.6 144.7h.8v.8h-.8zM427.3 206.1h.8v.8h-.8zM416.6 162.5h.8v.8h-.8zM415.7 172.0h.8v.8h-.8zM372.5 140.6h.8v.8h-.8zM428.4 179.5h.8v.8h-.8zM376.1 136.0h.8v.8h-.8zM380.6 171.3h.8v.8h-.8zM427.0 182.2h.8v.8h-.8zM412.5 205.0h.8v.8h-.8zM385.6 134.2h.8v.8h-.8zM390.9 186.3h.8v.8h-.8zM371.2 139.4h.8v.8h-.8zM374.2 165.2h.8v.8h-.8zM435.0 207.6h.8v.8h-.8zM419.1 169.0h.8v.8h-.8zM392.7 133.3h.8v.8h-.8zM444.5 197.8h.8v.8h-.8zM432.4 185.6h.8v.8h-.8zM385.8 183.5h.8v.8h-.8zM394.6 192.3h.8v.8h-.8zM381.9 179.9h.8v.8h-.8zM411.0 208.2h.8v.8h-.8zM401.9 195.4h.8v.8h-.8zM411.1 204.6h.8v.8h-.8zM445.8 193.2h.8v.8h-.8z" fill="#84a4ee"/><path d="M379.2 155.9L379.5 155.0L379.5 154.1L379.7 153.2L379.7 152.3L380.1 151.5L380.4 150.6L380.8 149.8L381.1 149.0L381.7 148.3L382.2 147.5L382.7 146.7L383.5 146.2L384.1 145.5L384.9 145.2L385.7 144.7L386.5 144.5L387.3 144.0L388.2 143.8L389.1 143.5L389.9 143.2L390.8 143.2L391.7 143.1L392.6 142.8L393.5 142.8L394.4 143.0L395.3 143.0L396.2 143.0L397.1 142.9L398.0 142.6L398.9 142.8L399.8 142.8L400.7 143.0L401.6 143.3L402.5 143.4L403.4 143.6L404.2 143.8L405.1 144.2L405.9 144.5L406.7 145.0L407.3 145.7L408.1 146.1L408.9 146.6L409.4 147.4L409.9 148.1L410.5 148.9L410.8 149.7L411.2 150.5L411.5 151.4L411.7 152.2L411.9 153.1L412.1 154.0L412.2 154.9L412.2 155.8L412.2 156.7L412.4 157.6L412.6 158.5L412.3 159.4L412.5 160.3L412.4 161.2L411.9 162.0L412.0 163.0L411.7 163.8L411.7 164.7L411.8 165.6L412.3 166.4L412.5 167.3L412.9 168.1L413.4 168.8L413.7 169.7L414.4 170.3L414.9 171.1L415.4 171.8L416.0 172.5L416.6 173.2L417.2 173.8L417.9 174.5L418.3 175.3L418.9 176.0L419.4 176.7L420.0 177.4L420.6 178.1L421.3 178.7L421.8 179.4L422.3 180.2L423.1 180.7L423.5 181.5L424.2 182.1L424.8 182.8L425.2 183.6L425.9 184.2L426.5 184.9L427.1 185.6L427.7 186.2L428.2 187.0L428.9 187.6L429.5 188.3L430.2 188.9L430.9 189.4L431.6 190.0L432.1 190.8L432.7 191.5L433.2 192.2L433.9 192.8L434.6 193.4L435.2 194.0L435.8 194.7L436.4 195.3L437.1 196.0L437.8 196.5L438.4 197.2L439.0 197.9L439.7 198.4L440.2 199.2L440.9 199.8L441.6 200.4L442.3 200.9L443.1 201.4L443.6 202.2L444.4 202.7L445.1 203.3L445.7 203.9L446.4 204.5L447.0 205.2L447.7 205.7L448.4 206.3L449.1 206.9L449.7 207.5L450.5 208.1L451.1 208.7L451.7 209.4L452.5 209.9L453.1 210.5L453.8 211.1L454.6 211.5L455.1 212.3L455.8 212.9L456.7 213.2L457.3 214.0L457.9 214.6L458.7 215.1L459.3 215.7L460.1 216.2L460.8 216.8L461.5 217.4L462.2 217.9L462.9 218.5L463.7 218.9L464.4 219.5L465.1 220.0L465.8 220.6L466.5 221.2L467.3 221.6L468.0 222.2L468.8 222.6L469.4 223.3L470.2 223.7L471.0 224.2L471.7 224.8L472.4 225.3L473.1 225.9L473.9 226.3L474.6 226.8L475.4 227.3L476.2 227.8L476.8 228.5L477.6 228.8L478.4 229.3L479.0 230.0L478.4 229.9L477.6 229.5L476.7 229.2L476.0 228.7L475.2 228.3L474.3 228.1L473.6 227.5L472.7 227.2L472.1 226.5L471.2 226.1L470.3 225.9L469.6 225.4L468.8 225.0L468.0 224.6L467.2 224.1L466.4 223.7L465.7 223.1L464.9 222.7L464.1 222.3L463.3 221.8L462.5 221.5L461.9 220.7L460.9 220.6L460.2 219.9L459.3 219.7L458.6 219.2L457.8 218.8L457.1 218.1L456.2 217.8L455.5 217.3L454.6 217.1L453.9 216.6L453.2 215.9L452.4 215.5L451.7 214.9L450.9 214.5L450.1 214.0L449.3 213.6L448.5 213.2L447.9 212.5L447.0 212.3L446.2 211.8L445.5 211.2L444.7 210.8L444.0 210.3L443.2 209.8L442.5 209.1L441.7 208.8L440.9 208.4L440.2 207.8L439.4 207.4L438.7 206.8L438.0 206.3L437.2 205.7L436.4 205.4L435.5 205.1L434.8 204.6L434.1 203.9L433.3 203.6L432.5 203.0L431.6 202.8L430.8 202.4L430.1 201.8L429.2 201.6L428.4 201.2L427.6 200.8L426.8 200.4L426.0 200.0L425.1 199.7L424.3 199.4L423.5 199.0L422.6 198.8L421.8 198.4L420.9 198.0L420.1 197.7L419.2 197.6L418.3 197.4L417.4 197.2L416.6 196.9L415.7 196.8L414.8 196.4L414.0 196.0L413.1 196.1L412.2 195.9L411.3 195.8L410.4 195.6L409.5 195.5L408.6 195.4L407.7 195.3L406.8 195.3L405.9 195.0L405.1 194.7L404.2 194.7L403.3 194.4L402.5 194.1L401.7 193.7L400.9 193.2L400.0 192.9L399.3 192.4L398.8 191.6L398.0 191.1L397.4 190.5L396.6 190.0L396.2 189.1L395.7 188.4L395.1 187.7L394.5 187.0L394.3 186.1L393.7 185.4L393.1 184.7L392.6 183.9L392.2 183.1L391.6 182.4L391.1 181.7L390.7 180.9L390.3 180.1L389.8 179.3L389.3 178.6L388.8 177.9L388.4 177.0L387.9 176.3L387.3 175.6L386.9 174.8L386.4 174.0L385.8 173.3L385.4 172.5L384.8 171.8L384.4 171.0L384.0 170.2L383.6 169.4L383.1 168.6L382.7 167.8L382.2 167.1L381.8 166.3L381.3 165.5L381.1 164.6L380.9 163.7L380.6 162.9L380.0 162.1L379.9 161.2L379.6 160.4L379.4 159.5L379.3 158.6L379.4 157.7L379.4 156.8Z" fill="none" stroke="#ec6e64" stroke-width="0.9" stroke-linejoin="round"/><path d="M384.1 158.7L384.1 157.8L384.1 156.9L384.5 156.0L384.6 155.1L384.9 154.3L385.1 153.4L385.6 152.6L386.1 151.9L386.5 151.1L387.0 150.3L387.7 149.8L388.3 149.1L389.0 148.5L389.9 148.3L390.6 147.7L391.5 147.5L392.4 147.5L393.3 147.3L394.2 147.0L395.1 146.9L396.0 146.9L396.9 147.0L397.8 146.9L398.7 147.1L399.6 147.0L400.4 147.4L401.4 147.4L402.2 147.7L403.0 148.3L403.8 148.7L404.6 149.1L405.3 149.7L405.7 150.5L406.6 151.0L406.9 151.8L407.4 152.6L407.7 153.5L408.1 154.3L408.3 155.2L408.5 156.1L408.7 156.9L408.7 157.8L408.8 158.7L408.9 159.6L408.8 160.5L409.0 161.4L408.8 162.3L408.8 163.2L408.7 164.1L408.5 165.0L408.5 165.9L409.0 166.7L409.3 167.5L409.8 168.3L410.2 169.1L410.9 169.8L411.4 170.5L411.9 171.2L412.4 172.0L413.1 172.6L413.6 173.3L414.2 174.0L414.7 174.8L415.2 175.5L415.8 176.2L416.2 177.0L416.9 177.6L417.5 178.3L418.1 179.0L418.7 179.6L419.2 180.4L420.0 180.9L420.3 181.8L420.9 182.5L421.7 183.0L422.3 183.7L422.8 184.4L423.4 185.1L424.0 185.8L424.7 186.4L425.2 187.1L425.9 187.7L426.5 188.4L427.0 189.2L427.7 189.7L428.2 190.5L429.0 191.0L429.6 191.6L430.2 192.3L430.8 193.0L431.3 193.7L432.0 194.3L432.6 195.0L433.1 195.7L434.0 196.2L434.6 196.8L435.2 197.5L436.0 197.9L436.5 198.8L437.2 199.3L437.8 200.0L438.5 200.5L439.1 201.2L439.9 201.6L440.4 202.5L441.2 203.0L441.9 203.6L442.4 204.3L443.1 204.8L443.8 205.5L444.5 206.0L445.1 206.7L445.9 207.2L446.6 207.7L447.2 208.4L448.0 208.9L448.6 209.5L449.3 210.1L450.0 210.7L450.7 211.3L451.4 211.8L452.0 212.4L452.8 213.0L453.6 213.4L454.2 214.0L455.0 214.5L455.5 215.4L456.3 215.8L457.1 216.3L457.9 216.7L458.5 217.3L459.1 218.0L460.0 218.4L460.8 218.8L461.4 219.5L462.2 219.9L462.9 220.5L463.7 220.9L464.4 221.4L465.1 222.1L466.0 222.3L466.6 223.1L467.3 223.6L467.3 223.9L466.5 223.5L465.8 223.0L464.9 222.7L464.0 222.6L463.4 221.8L462.5 221.4L461.8 220.9L461.0 220.5L460.2 220.1L459.4 219.7L458.6 219.2L457.8 218.7L457.1 218.2L456.4 217.7L455.5 217.4L454.7 217.0L453.9 216.5L453.2 216.0L452.5 215.4L451.6 215.1L450.9 214.6L450.1 214.2L449.3 213.7L448.6 213.2L447.8 212.7L447.1 212.2L446.3 211.7L445.5 211.3L444.7 210.8L443.9 210.4L443.2 209.9L442.5 209.4L441.8 208.7L441.0 208.3L440.3 207.7L439.5 207.4L438.8 206.7L438.0 206.3L437.3 205.8L436.5 205.3L435.8 204.8L435.1 204.1L434.3 203.7L433.5 203.3L432.7 202.8L432.0 202.3L431.3 201.8L430.5 201.3L429.7 200.8L429.1 200.2L428.2 199.9L427.4 199.5L426.6 199.0L425.9 198.5L425.2 197.9L424.3 197.7L423.4 197.4L422.7 196.8L421.9 196.4L421.1 196.1L420.3 195.6L419.6 195.0L418.7 194.8L417.9 194.4L416.9 194.3L416.1 193.9L415.3 193.6L414.4 193.3L413.6 192.9L412.7 192.6L411.8 192.6L411.0 192.3L410.1 192.3L409.2 191.9L408.3 192.1L407.4 191.7L406.5 191.8L405.6 191.4L404.8 191.3L403.8 191.2L403.0 191.0L402.1 190.7L401.3 190.3L400.5 189.9L399.7 189.4L399.1 188.7L398.4 188.2L397.8 187.5L397.2 186.9L396.7 186.1L396.2 185.4L395.7 184.6L395.2 183.9L394.9 183.0L394.3 182.3L393.9 181.4L393.5 180.7L393.0 179.9L392.5 179.1L392.1 178.3L391.8 177.5L391.2 176.8L390.7 176.0L390.4 175.2L390.0 174.4L389.4 173.7L389.0 172.8L388.6 172.0L387.9 171.4L387.7 170.5L387.1 169.8L386.7 169.0L386.3 168.2L385.9 167.4L385.4 166.6L385.1 165.7L384.8 164.9L384.7 164.0L384.4 163.1L384.1 162.3L384.0 161.4L384.1 160.5L383.9 159.6Z" fill="none" stroke="#3048de" stroke-width="0.9" stroke-linejoin="round"/><path d="M388.8 161.4L388.8 160.9L388.9 160.3L388.9 159.7L389.0 159.2L389.1 158.7L389.2 158.2L389.3 157.7L389.4 157.2L389.6 156.8L389.7 156.4L389.9 156.0L390.1 155.5L390.2 155.2L390.4 154.8L390.6 154.4L390.8 154.1L391.1 153.8L391.3 153.4L391.5 153.1L391.8 152.9L392.0 152.6L392.3 152.3L392.6 152.1L392.8 151.9L393.1 151.7L393.4 151.5L393.8 151.3L394.1 151.1L394.4 151.0L394.8 150.9L395.2 150.8L395.5 150.7L395.9 150.6L396.3 150.6L396.7 150.5L397.1 150.5L397.5 150.5L397.9 150.5L398.3 150.6L398.7 150.6L399.1 150.7L399.4 150.8L399.8 150.9L400.2 151.0L400.5 151.1L400.8 151.3L401.2 151.5L401.5 151.7L401.8 151.9L402.0 152.1L402.3 152.3L402.6 152.6L402.8 152.9L403.1 153.1L403.3 153.4L403.5 153.8L403.8 154.1L404.0 154.4L404.2 154.8L404.4 155.2L404.5 155.5L404.7 156.0L404.9 156.4L405.0 156.8L405.2 157.2L405.3 157.7L405.4 158.2L405.5 158.7L405.6 159.2L405.7 159.7L405.7 160.3L405.8 160.9L405.8 161.4L405.9 162.0L405.9 162.5L405.9 162.9L406.0 163.4L406.0 163.7L406.0 164.0L406.0 164.3L406.0 164.5L406.0 164.7L406.0 165.0L406.0 165.2L406.0 165.4L406.0 165.6L406.0 165.9L406.0 166.1L406.0 166.3L406.2 166.7L406.5 167.4L407.0 168.2L407.6 169.2L408.4 170.5L409.4 171.9L410.5 173.5L411.8 175.4L413.1 177.2L414.4 178.9L415.7 180.7L417.0 182.3L418.3 184.0L419.6 185.5L420.9 187.1L422.2 188.6L423.5 190.1L424.8 191.5L426.1 192.9L427.3 194.3L428.6 195.6L429.9 197.0L431.2 198.3L432.5 199.5L433.8 200.8L435.1 202.0L436.4 203.2L437.7 204.3L439.0 205.4L440.3 206.5L441.6 207.6L442.9 208.6L443.9 209.4L444.5 210.0L444.9 210.4L444.9 210.5L444.7 210.5L444.1 210.2L443.2 209.6L442.0 208.9L440.8 208.1L439.6 207.4L438.4 206.6L437.2 205.8L436.0 205.0L434.8 204.2L433.6 203.3L432.4 202.5L431.2 201.6L430.0 200.7L428.8 199.9L427.6 199.0L426.4 198.0L425.2 197.1L424.0 196.2L422.8 195.2L421.6 194.3L420.4 193.4L419.2 192.5L418.0 191.7L416.8 190.9L415.6 190.1L414.4 189.4L413.2 188.6L412.0 188.0L410.8 187.4L409.6 186.9L408.4 186.5L407.2 186.1L406.0 185.8L404.8 185.6L403.6 185.5L402.5 185.2L401.4 184.8L400.4 184.3L399.5 183.7L398.7 183.0L398.0 182.1L397.3 181.1L396.7 180.0L396.1 178.9L395.5 177.7L394.9 176.6L394.3 175.5L393.7 174.4L393.1 173.3L392.5 172.1L391.9 171.0L391.4 170.0L390.9 169.1L390.5 168.3L390.2 167.7L389.9 167.1L389.7 166.7L389.5 166.3L389.5 166.1L389.4 165.9L389.3 165.6L389.2 165.4L389.2 165.2L389.1 165.0L389.0 164.7L388.9 164.5L388.9 164.3L388.8 164.0L388.8 163.7L388.7 163.4L388.7 162.9L388.7 162.5L388.7 162.0Z" fill="none" stroke="#1c1e98" stroke-width="0.9" stroke-linejoin="round"/><path d="M392.9 165.1L392.9 164.6L393.0 164.0L393.0 163.5L393.1 163.0L393.1 162.4L393.2 162.0L393.3 161.5L393.3 161.0L393.4 160.6L393.5 160.1L393.6 159.7L393.7 159.3L393.9 158.9L394.0 158.5L394.1 158.2L394.2 157.8L394.4 157.5L394.5 157.1L394.7 156.8L394.8 156.5L395.0 156.3L395.2 156.0L395.3 155.7L395.5 155.5L395.7 155.3L395.9 155.1L396.1 154.9L396.3 154.8L396.5 154.6L396.7 154.5L396.9 154.4L397.2 154.3L397.4 154.2L397.6 154.2L397.9 154.1L398.1 154.1L398.3 154.1L398.5 154.1L398.8 154.2L399.0 154.2L399.2 154.3L399.5 154.4L399.7 154.5L399.9 154.6L400.1 154.8L400.3 154.9L400.5 155.1L400.7 155.3L400.9 155.5L401.1 155.7L401.2 156.0L401.4 156.3L401.6 156.5L401.7 156.8L401.9 157.1L402.0 157.5L402.2 157.8L402.3 158.2L402.4 158.5L402.5 158.9L402.7 159.3L402.8 159.7L402.9 160.1L403.0 160.6L403.1 161.0L403.1 161.5L403.2 162.0L403.3 162.4L403.3 163.0L403.4 163.5L403.4 164.0L403.5 164.6L403.5 165.1L403.6 165.8L403.8 166.5L404.2 167.4L404.6 168.4L405.1 169.4L405.7 170.6L406.4 171.8L407.2 173.2L408.0 174.5L408.8 175.8L409.6 177.0L410.5 178.2L411.3 179.4L412.1 180.6L412.9 181.7L413.7 182.8L414.5 183.9L415.3 184.9L416.1 186.0L416.9 187.0L417.7 188.0L418.5 188.9L419.3 189.9L420.1 190.8L420.9 191.7L421.7 192.6L422.5 193.5L423.4 194.3L424.2 195.1L425.0 195.9L425.8 196.7L426.6 197.5L427.2 198.0L427.6 198.5L427.8 198.7L427.9 198.9L427.7 198.8L427.3 198.6L426.8 198.2L426.0 197.7L425.3 197.1L424.5 196.6L423.8 196.0L423.0 195.5L422.3 194.9L421.5 194.3L420.8 193.7L420.0 193.0L419.3 192.4L418.5 191.8L417.8 191.1L417.0 190.5L416.3 189.8L415.5 189.1L414.8 188.4L414.0 187.7L413.3 187.0L412.5 186.4L411.8 185.7L411.0 185.0L410.3 184.3L409.5 183.6L408.8 182.9L408.0 182.3L407.3 181.6L406.5 181.1L405.8 180.7L405.0 180.3L404.3 179.9L403.5 179.7L402.8 179.5L402.0 179.4L401.3 179.2L400.7 179.0L400.1 178.6L399.5 178.2L399.0 177.7L398.5 177.1L398.1 176.4L397.7 175.7L397.3 174.9L396.9 174.2L396.5 173.4L396.1 172.7L395.7 172.0L395.3 171.2L394.8 170.5L394.4 169.7L394.0 169.1L393.6 168.5L393.4 168.0L393.1 167.7L393.0 167.4L392.9 167.2L392.8 167.1L392.8 167.1L392.8 167.0L392.8 166.9L392.8 166.7L392.8 166.4L392.9 166.0L392.9 165.6Z" fill="none" stroke="#ec6e64" stroke-width="0.9" stroke-linejoin="round"/><path d="M395.0 165.7L395.0 165.3L395.0 164.9L395.1 164.6L395.1 164.2L395.1 163.8L395.2 163.4L395.2 163.1L395.3 162.7L395.4 162.4L395.4 162.0L395.5 161.7L395.6 161.4L395.7 161.0L395.8 160.7L395.8 160.4L395.9 160.2L396.0 159.9L396.1 159.6L396.2 159.3L396.4 159.1L396.5 158.9L396.6 158.7L396.7 158.5L396.8 158.3L396.9 158.1L397.1 157.9L397.2 157.8L397.3 157.6L397.5 157.5L397.6 157.4L397.7 157.3L397.9 157.2L398.0 157.2L398.2 157.1L398.3 157.1L398.4 157.1L398.6 157.1L398.7 157.1L398.8 157.1L399.0 157.2L399.1 157.2L399.3 157.3L399.4 157.4L399.5 157.5L399.7 157.6L399.8 157.8L399.9 157.9L400.1 158.1L400.2 158.3L400.3 158.5L400.4 158.7L400.5 158.9L400.6 159.1L400.8 159.3L400.9 159.6L401.0 159.9L401.1 160.2L401.2 160.4L401.2 160.7L401.3 161.0L401.4 161.4L401.5 161.7L401.6 162.0L401.6 162.4L401.7 162.7L401.8 163.1L401.8 163.4L401.9 163.8L401.9 164.2L401.9 164.6L402.0 164.9L402.0 165.3L402.0 165.7L402.1 166.2L402.3 166.7L402.5 167.4L402.7 168.1L403.1 168.8L403.5 169.7L403.9 170.6L404.4 171.6L404.9 172.6L405.5 173.5L406.0 174.5L406.5 175.4L407.0 176.2L407.5 177.1L408.0 177.9L408.5 178.8L409.1 179.6L409.6 180.3L410.1 181.1L410.6 181.9L411.1 182.6L411.6 183.3L412.2 184.0L412.7 184.7L413.2 185.4L413.7 186.0L414.2 186.7L414.7 187.3L415.2 187.9L415.8 188.5L416.3 189.1L416.8 189.6L417.2 190.1L417.5 190.4L417.6 190.6L417.6 190.7L417.5 190.7L417.3 190.5L416.9 190.2L416.4 189.9L416.0 189.5L415.5 189.1L415.0 188.6L414.5 188.2L414.0 187.8L413.6 187.4L413.1 186.9L412.6 186.4L412.1 186.0L411.6 185.5L411.2 185.0L410.7 184.5L410.2 184.0L409.7 183.5L409.2 183.0L408.8 182.5L408.3 182.0L407.8 181.4L407.3 180.9L406.8 180.3L406.4 179.7L405.9 179.1L405.4 178.5L404.9 177.9L404.4 177.4L404.0 176.9L403.5 176.5L403.0 176.1L402.5 175.8L402.0 175.6L401.6 175.4L401.1 175.3L400.6 175.1L400.2 174.9L399.8 174.6L399.4 174.3L399.1 174.0L398.8 173.6L398.5 173.2L398.2 172.7L398.0 172.2L397.7 171.7L397.4 171.2L397.1 170.7L396.8 170.3L396.5 169.8L396.2 169.3L395.9 168.8L395.7 168.4L395.5 168.0L395.3 167.7L395.1 167.5L395.0 167.3L394.9 167.2L394.9 167.1L394.9 167.1L394.9 167.1L394.9 167.0L394.9 166.8L394.9 166.6L394.9 166.4L395.0 166.1Z" fill="none" stroke="#1c1e98" stroke-width="0.9" stroke-linejoin="round"/><path d="M397.0 166.1L397.1 165.8L397.1 165.5L397.1 165.2L397.1 164.9L397.1 164.6L397.2 164.3L397.2 164.0L397.2 163.8L397.3 163.5L397.3 163.2L397.4 163.0L397.4 162.7L397.4 162.5L397.5 162.2L397.5 162.0L397.6 161.8L397.7 161.6L397.7 161.4L397.8 161.2L397.8 161.0L397.9 160.8L398.0 160.6L398.1 160.5L398.1 160.3L398.2 160.2L398.3 160.1L398.3 160.0L398.4 159.9L398.5 159.8L398.6 159.7L398.7 159.6L398.7 159.6L398.8 159.5L398.9 159.5L399.0 159.4L399.1 159.4L399.1 159.4L399.2 159.4L399.3 159.5L399.4 159.5L399.5 159.6L399.5 159.6L399.6 159.7L399.7 159.8L399.8 159.9L399.9 160.0L399.9 160.1L400.0 160.2L400.1 160.3L400.1 160.5L400.2 160.6L400.3 160.8L400.4 161.0L400.4 161.2L400.5 161.4L400.5 161.6L400.6 161.8L400.7 162.0L400.7 162.2L400.8 162.5L400.8 162.7L400.8 163.0L400.9 163.2L400.9 163.5L401.0 163.8L401.0 164.0L401.0 164.3L401.1 164.6L401.1 164.9L401.1 165.2L401.1 165.5L401.1 165.8L401.2 166.1L401.2 166.4L401.2 166.7L401.3 167.1L401.4 167.5L401.5 167.9L401.6 168.4L401.8 168.9L402.0 169.4L402.1 169.9L402.3 170.4L402.5 170.8L402.6 171.3L402.8 171.8L403.0 172.2L403.1 172.7L403.3 173.1L403.5 173.5L403.6 174.0L403.8 174.4L404.0 174.8L404.2 175.2L404.3 175.5L404.5 175.9L404.7 176.3L404.8 176.6L405.0 177.0L405.2 177.3L405.3 177.6L405.5 178.0L405.7 178.3L405.8 178.6L406.0 178.8L406.1 179.1L406.2 179.2L406.3 179.3L406.2 179.4L406.2 179.4L406.1 179.3L406.0 179.2L405.8 179.0L405.6 178.8L405.4 178.6L405.2 178.4L405.1 178.2L404.9 178.0L404.7 177.8L404.5 177.5L404.3 177.3L404.2 177.1L404.0 176.8L403.8 176.6L403.6 176.3L403.4 176.0L403.3 175.8L403.1 175.5L402.9 175.3L402.7 175.0L402.5 174.7L402.4 174.4L402.2 174.1L402.0 173.8L401.8 173.5L401.6 173.2L401.5 172.9L401.3 172.6L401.1 172.3L400.9 172.0L400.8 171.7L400.6 171.5L400.4 171.2L400.2 171.0L400.0 170.8L399.9 170.6L399.7 170.4L399.5 170.2L399.3 170.0L399.2 169.8L399.0 169.6L398.9 169.4L398.7 169.2L398.6 169.1L398.4 168.9L398.3 168.7L398.1 168.5L398.0 168.3L397.8 168.1L397.7 167.9L397.5 167.8L397.4 167.6L397.3 167.4L397.2 167.3L397.1 167.2L397.1 167.2L397.0 167.1L397.0 167.1L397.0 167.1L397.0 167.1L397.0 167.0L397.0 166.9L397.0 166.7L397.0 166.5L397.0 166.3Z" fill="#2020a8" stroke="#1c1e98" stroke-width="0.9" stroke-linejoin="round"/></g>
<line x1="399.40" y1="119.90" x2="399.40" y2="214.00" stroke="#000" stroke-width="0.9" stroke-dasharray="1.3 1.3"/>
<path d="M351.40 212.23 L352.00 211.85 L352.60 211.48 L353.20 211.09 L353.80 210.71 L354.40 210.33 L355.00 209.94 L355.60 209.56 L356.20 209.17 L356.80 208.78 L357.40 208.39 L358.00 207.99 L358.60 207.60 L359.20 207.20 L359.80 206.80 L360.40 206.40 L361.00 205.99 L361.60 205.59 L362.20 205.18 L362.80 204.77 L363.40 204.35 L364.00 203.94 L364.60 203.52 L365.20 203.10 L365.80 202.68 L366.40 202.25 L367.00 201.83 L367.60 201.40 L368.20 200.96 L368.80 200.53 L369.40 200.09 L370.00 199.65 L370.60 199.20 L371.20 198.76 L371.80 198.31 L372.40 197.85 L373.00 197.40 L373.60 196.93 L374.20 196.47 L374.80 196.00 L375.40 195.53 L376.00 195.05 L376.60 194.57 L377.20 194.09 L377.80 193.60 L378.40 193.11 L379.00 192.61 L379.60 192.11 L380.20 191.60 L380.80 191.09 L381.40 190.57 L382.00 190.04 L382.60 189.51 L383.20 188.98 L383.80 188.43 L384.40 187.88 L385.00 187.32 L385.60 186.76 L386.20 186.18 L386.80 185.60 L387.40 185.01 L388.00 184.41 L388.60 183.80 L389.20 183.17 L389.80 182.53 L390.40 181.88 L391.00 181.22 L391.60 180.54 L392.20 179.84 L392.80 179.12 L393.40 178.38 L394.00 177.62 L394.60 176.82 L395.20 175.99 L395.80 175.13 L396.40 174.21 L397.00 173.23 L397.60 172.16 L398.20 170.96 L398.80 169.53 L399.40 167.10 L400.00 169.53 L400.60 170.96 L401.20 172.16 L401.80 173.23 L402.40 174.21 L403.00 175.13 L403.60 175.99 L404.20 176.82 L404.80 177.62 L405.40 178.38 L406.00 179.12 L406.60 179.84 L407.20 180.54 L407.80 181.22 L408.40 181.88 L409.00 182.53 L409.60 183.17 L410.20 183.80 L410.80 184.41 L411.40 185.01 L412.00 185.60 L412.60 186.18 L413.20 186.76 L413.80 187.32 L414.40 187.88 L415.00 188.43 L415.60 188.98 L416.20 189.51 L416.80 190.04 L417.40 190.57 L418.00 191.09 L418.60 191.60 L419.20 192.11 L419.80 192.61 L420.40 193.11 L421.00 193.60 L421.60 194.09 L422.20 194.57 L422.80 195.05 L423.40 195.53 L424.00 196.00 L424.60 196.47 L425.20 196.93 L425.80 197.40 L426.40 197.85 L427.00 198.31 L427.60 198.76 L428.20 199.20 L428.80 199.65 L429.40 200.09 L430.00 200.53 L430.60 200.96 L431.20 201.40 L431.80 201.83 L432.40 202.25 L433.00 202.68 L433.60 203.10 L434.20 203.52 L434.80 203.94 L435.40 204.35 L436.00 204.77 L436.60 205.18 L437.20 205.59 L437.80 205.99 L438.40 206.40 L439.00 206.80 L439.60 207.20 L440.20 207.60 L440.80 207.99 L441.40 208.39 L442.00 208.78 L442.60 209.17 L443.20 209.56 L443.80 209.94 L444.40 210.33 L445.00 210.71 L445.60 211.09 L446.20 211.48 L446.80 211.85 L447.40 212.23" fill="none" stroke="#000" stroke-width="0.9" stroke-dasharray="1.3 1.3"/>
<rect x="351.40" y="119.90" width="96.0" height="94.1" fill="none" stroke="#999" stroke-width="0.8"/>
<path d="M369.40 214.00v-1.4M369.40 119.90v1.4M351.40 196.95h1.4M447.40 196.95h-1.4M399.40 214.00v-1.4M399.40 119.90v1.4M351.40 167.10h1.4M447.40 167.10h-1.4M429.40 214.00v-1.4M429.40 119.90v1.4M351.40 137.25h1.4M447.40 137.25h-1.4" stroke="#888" stroke-width="0.6"/>
<text x="354.00" y="128.50" class="pl">(c-ii)</text>
<text x="148.10" y="140.75" class="tk" text-anchor="end">5</text>
<text x="148.10" y="170.60" class="tk" text-anchor="end">0</text>
<text x="148.10" y="200.45" class="tk" text-anchor="end">−5</text>
<text x="249.80" y="40.15" class="tk" text-anchor="end">5</text>
<text x="249.80" y="70.00" class="tk" text-anchor="end">0</text>
<text x="249.80" y="99.85" class="tk" text-anchor="end">−5</text>
<text x="166.60" y="222.20" class="tk" text-anchor="middle">−5</text>
<text x="196.60" y="222.20" class="tk" text-anchor="middle">0</text>
<text x="226.60" y="222.20" class="tk" text-anchor="middle">5</text>
<text x="195.60" y="230.3" class="ax" text-anchor="middle">R<tspan dy="-3.2" font-size="7" font-style="normal" font-weight="bold">*</tspan></text>
<text x="268.30" y="222.20" class="tk" text-anchor="middle">−5</text>
<text x="298.30" y="222.20" class="tk" text-anchor="middle">0</text>
<text x="328.30" y="222.20" class="tk" text-anchor="middle">5</text>
<text x="297.30" y="230.3" class="ax" text-anchor="middle">R<tspan dy="-3.2" font-size="7" font-style="normal" font-weight="bold">*</tspan></text>
<text x="369.40" y="222.20" class="tk" text-anchor="middle">−5</text>
<text x="399.40" y="222.20" class="tk" text-anchor="middle">0</text>
<text x="429.40" y="222.20" class="tk" text-anchor="middle">5</text>
<text x="398.40" y="230.3" class="ax" text-anchor="middle">R<tspan dy="-3.2" font-size="7" font-style="normal" font-weight="bold">*</tspan></text>
<text transform="translate(136.0,169.5) rotate(-90)" class="ax" text-anchor="middle">Q<tspan dy="-3.4" font-size="7" font-style="normal" font-weight="bold">*</tspan></text>
<text transform="translate(237.5,69.5) rotate(-90)" class="ax" text-anchor="middle">Q<tspan dy="-3.4" font-size="7" font-style="normal" font-weight="bold">*</tspan></text>
<rect x="175" y="58.2" width="3.8" height="3.8" fill="#a01818"/>
<text x="183.2" y="62.6" class="lg" style="fill:#a81c1c">a-FTLE</text>
<rect x="175" y="72.5" width="3.8" height="3.8" fill="#1a1acc"/>
<text x="183.5" y="76.9" class="lg" style="fill:#1c1cd0">r-FTLE</text>
</svg>
</body></html>
